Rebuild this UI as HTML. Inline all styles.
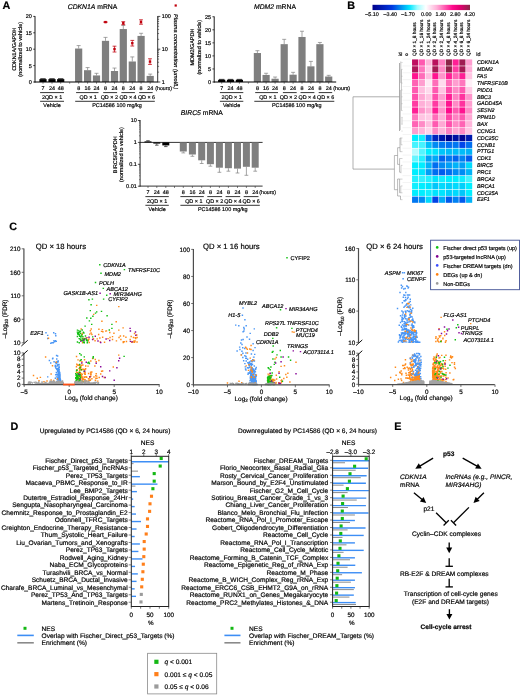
<!DOCTYPE html>
<html lang="en"><head><meta charset="utf-8"><title>Figure</title>
<style>html,body{margin:0;padding:0;background:#fff}body{width:520px;height:695px;overflow:hidden}svg{display:block}text{font-family:'Liberation Sans', Arial, Helvetica, sans-serif;text-rendering:geometricPrecision;stroke:#000;stroke-width:.18px}</style>
</head><body>
<svg width="520" height="695" viewBox="0 0 520 695">
<rect width="520" height="695" fill="#fff"/>
<!-- Panel A -->
<text x="2.4" y="9.07" font-size="10.8" font-weight="bold" stroke="none">A</text>
<line x1="33.2" y1="82" x2="35" y2="82" stroke="#000" stroke-width="0.7"/>
<text x="31.9" y="83.97" font-size="5.5" text-anchor="end">0</text>
<line x1="33.2" y1="65.6" x2="35" y2="65.6" stroke="#000" stroke-width="0.7"/>
<text x="31.9" y="67.57" font-size="5.5" text-anchor="end">5</text>
<line x1="33.2" y1="49.2" x2="35" y2="49.2" stroke="#000" stroke-width="0.7"/>
<text x="31.9" y="51.17" font-size="5.5" text-anchor="end">10</text>
<line x1="33.2" y1="32.8" x2="35" y2="32.8" stroke="#000" stroke-width="0.7"/>
<text x="31.9" y="34.77" font-size="5.5" text-anchor="end">15</text>
<line x1="33.2" y1="16.4" x2="35" y2="16.4" stroke="#000" stroke-width="0.7"/>
<text x="31.9" y="18.37" font-size="5.5" text-anchor="end">20</text>
<rect x="39.4" y="79.12" width="7.2" height="2.88" fill="#000"/>
<line x1="40.7" y1="78.72" x2="45.3" y2="78.72" stroke="#000" stroke-width="0.8" stroke-linecap="round"/>
<line x1="43" y1="82.3" x2="43" y2="83.6" stroke="#000" stroke-width="0.6"/>
<rect x="48.4" y="79.12" width="7.2" height="2.88" fill="#000"/>
<line x1="49.7" y1="78.72" x2="54.3" y2="78.72" stroke="#000" stroke-width="0.8" stroke-linecap="round"/>
<line x1="52" y1="82.3" x2="52" y2="83.6" stroke="#000" stroke-width="0.6"/>
<rect x="57.1" y="79.12" width="7.2" height="2.88" fill="#000"/>
<line x1="58.4" y1="78.72" x2="63" y2="78.72" stroke="#000" stroke-width="0.8" stroke-linecap="round"/>
<line x1="60.7" y1="82.3" x2="60.7" y2="83.6" stroke="#000" stroke-width="0.6"/>
<rect x="75.05" y="48.54" width="7.2" height="33.46" fill="#7f7f7f"/>
<line x1="78.65" y1="48.54" x2="78.65" y2="45.59" stroke="#7f7f7f" stroke-width="0.7"/>
<line x1="76.65" y1="45.59" x2="80.65" y2="45.59" stroke="#7f7f7f" stroke-width="0.7"/>
<line x1="78.65" y1="82.3" x2="78.65" y2="83.6" stroke="#000" stroke-width="0.6"/>
<rect x="84" y="70.19" width="7.2" height="11.81" fill="#7f7f7f"/>
<line x1="87.6" y1="70.19" x2="87.6" y2="67.57" stroke="#7f7f7f" stroke-width="0.7"/>
<line x1="85.6" y1="67.57" x2="89.6" y2="67.57" stroke="#7f7f7f" stroke-width="0.7"/>
<line x1="87.6" y1="82.3" x2="87.6" y2="83.6" stroke="#000" stroke-width="0.6"/>
<rect x="92.9" y="75.44" width="7.2" height="6.56" fill="#7f7f7f"/>
<line x1="96.5" y1="75.44" x2="96.5" y2="73.31" stroke="#7f7f7f" stroke-width="0.7"/>
<line x1="94.5" y1="73.31" x2="98.5" y2="73.31" stroke="#7f7f7f" stroke-width="0.7"/>
<line x1="96.5" y1="82.3" x2="96.5" y2="83.6" stroke="#000" stroke-width="0.6"/>
<rect x="101.9" y="40.84" width="7.2" height="41.16" fill="#7f7f7f"/>
<line x1="105.5" y1="40.84" x2="105.5" y2="37.39" stroke="#7f7f7f" stroke-width="0.7"/>
<line x1="103.5" y1="37.39" x2="107.5" y2="37.39" stroke="#7f7f7f" stroke-width="0.7"/>
<line x1="105.5" y1="82.3" x2="105.5" y2="83.6" stroke="#000" stroke-width="0.6"/>
<rect x="110.9" y="71.01" width="7.2" height="10.99" fill="#7f7f7f"/>
<line x1="114.5" y1="71.01" x2="114.5" y2="68.06" stroke="#7f7f7f" stroke-width="0.7"/>
<line x1="112.5" y1="68.06" x2="116.5" y2="68.06" stroke="#7f7f7f" stroke-width="0.7"/>
<line x1="114.5" y1="82.3" x2="114.5" y2="83.6" stroke="#000" stroke-width="0.6"/>
<rect x="119.7" y="29.03" width="7.2" height="52.97" fill="#7f7f7f"/>
<line x1="123.3" y1="29.03" x2="123.3" y2="25.42" stroke="#7f7f7f" stroke-width="0.7"/>
<line x1="121.3" y1="25.42" x2="125.3" y2="25.42" stroke="#7f7f7f" stroke-width="0.7"/>
<line x1="123.3" y1="82.3" x2="123.3" y2="83.6" stroke="#000" stroke-width="0.6"/>
<rect x="128.7" y="61.5" width="7.2" height="20.5" fill="#7f7f7f"/>
<line x1="132.3" y1="61.5" x2="132.3" y2="56.91" stroke="#7f7f7f" stroke-width="0.7"/>
<line x1="130.3" y1="56.91" x2="134.3" y2="56.91" stroke="#7f7f7f" stroke-width="0.7"/>
<line x1="132.3" y1="82.3" x2="132.3" y2="83.6" stroke="#000" stroke-width="0.6"/>
<rect x="137.5" y="35.92" width="7.2" height="46.08" fill="#7f7f7f"/>
<line x1="141.1" y1="35.92" x2="141.1" y2="33.29" stroke="#7f7f7f" stroke-width="0.7"/>
<line x1="139.1" y1="33.29" x2="143.1" y2="33.29" stroke="#7f7f7f" stroke-width="0.7"/>
<line x1="141.1" y1="82.3" x2="141.1" y2="83.6" stroke="#000" stroke-width="0.6"/>
<rect x="146.6" y="75.9" width="7.2" height="6.1" fill="#7f7f7f"/>
<line x1="150.2" y1="75.9" x2="150.2" y2="74.1" stroke="#7f7f7f" stroke-width="0.7"/>
<line x1="148.2" y1="74.1" x2="152.2" y2="74.1" stroke="#7f7f7f" stroke-width="0.7"/>
<line x1="150.2" y1="82.3" x2="150.2" y2="83.6" stroke="#000" stroke-width="0.6"/>
<line x1="69.68" y1="82.3" x2="69.68" y2="83.6" stroke="#000" stroke-width="0.6"/>
<line x1="35" y1="16.1" x2="35" y2="82.5" stroke="#000" stroke-width="0.9"/>
<line x1="34.55" y1="82" x2="157.7" y2="82" stroke="#000" stroke-width="1"/>
<text x="0" y="1.95" font-size="5.45" text-anchor="middle" transform="translate(13.7 49.4) rotate(-90)">CDKN1A/GAPDH</text>
<text x="0" y="1.95" font-size="5.45" text-anchor="middle" transform="translate(20.2 49.3) rotate(-90)">(normalized to vehicle)</text>
<text x="92.5" y="8.83" font-size="6.8" text-anchor="middle"><tspan font-style="italic">CDKN1A</tspan> mRNA</text>
<text x="43" y="89.83" font-size="5.4" text-anchor="middle">7</text>
<text x="52" y="89.83" font-size="5.4" text-anchor="middle">24</text>
<text x="60.7" y="89.83" font-size="5.4" text-anchor="middle">48</text>
<text x="78.65" y="89.83" font-size="5.4" text-anchor="middle">8</text>
<text x="87.6" y="89.83" font-size="5.4" text-anchor="middle">16</text>
<text x="96.5" y="89.83" font-size="5.4" text-anchor="middle">24</text>
<text x="105.5" y="89.83" font-size="5.4" text-anchor="middle">8</text>
<text x="114.5" y="89.83" font-size="5.4" text-anchor="middle">24</text>
<text x="123.3" y="89.83" font-size="5.4" text-anchor="middle">8</text>
<text x="132.3" y="89.83" font-size="5.4" text-anchor="middle">24</text>
<text x="141.1" y="89.83" font-size="5.4" text-anchor="middle">8</text>
<text x="150.2" y="89.83" font-size="5.4" text-anchor="middle">24</text>
<text x="155.2" y="89.8" font-size="5.3" >(hours)</text>
<line x1="40.1" y1="92.6" x2="64" y2="92.6" stroke="#000" stroke-width="0.8"/>
<text x="52.05" y="98.83" font-size="5.4" text-anchor="middle">2QD × 1</text>
<line x1="40.1" y1="101.3" x2="64" y2="101.3" stroke="#000" stroke-width="0.8"/>
<text x="52.05" y="107.43" font-size="5.4" text-anchor="middle">Vehicle</text>
<line x1="76.1" y1="92.6" x2="98.5" y2="92.6" stroke="#000" stroke-width="0.8"/>
<text x="88.2" y="98.83" font-size="5.4" text-anchor="middle">QD × 1</text>
<line x1="103.2" y1="92.6" x2="117.1" y2="92.6" stroke="#000" stroke-width="0.8"/>
<text x="109.3" y="98.83" font-size="5.4" text-anchor="middle">QD × 2</text>
<line x1="121.4" y1="92.6" x2="134.9" y2="92.6" stroke="#000" stroke-width="0.8"/>
<text x="128" y="98.83" font-size="5.4" text-anchor="middle">QD × 4</text>
<line x1="139.2" y1="92.6" x2="152.7" y2="92.6" stroke="#000" stroke-width="0.8"/>
<text x="146.5" y="98.83" font-size="5.4" text-anchor="middle">QD × 6</text>
<line x1="75.2" y1="101.3" x2="154.8" y2="101.3" stroke="#000" stroke-width="0.8"/>
<text x="117" y="107.45" font-size="5.45" text-anchor="middle">PC14586 100 mg/kg</text>
<line x1="157.7" y1="16.1" x2="157.7" y2="82.4" stroke="#000" stroke-width="0.8"/>
<line x1="157.7" y1="82" x2="160.3" y2="82" stroke="#000" stroke-width="0.7"/>
<text x="161.7" y="83.97" font-size="5.5" >1</text>
<line x1="157.7" y1="72.13" x2="159.1" y2="72.13" stroke="#000" stroke-width="0.5"/>
<line x1="157.7" y1="66.35" x2="159.1" y2="66.35" stroke="#000" stroke-width="0.5"/>
<line x1="157.7" y1="62.25" x2="159.1" y2="62.25" stroke="#000" stroke-width="0.5"/>
<line x1="157.7" y1="59.07" x2="159.1" y2="59.07" stroke="#000" stroke-width="0.5"/>
<line x1="157.7" y1="56.48" x2="159.1" y2="56.48" stroke="#000" stroke-width="0.5"/>
<line x1="157.7" y1="54.28" x2="159.1" y2="54.28" stroke="#000" stroke-width="0.5"/>
<line x1="157.7" y1="52.38" x2="159.1" y2="52.38" stroke="#000" stroke-width="0.5"/>
<line x1="157.7" y1="50.7" x2="159.1" y2="50.7" stroke="#000" stroke-width="0.5"/>
<line x1="157.7" y1="49.2" x2="160.3" y2="49.2" stroke="#000" stroke-width="0.7"/>
<text x="161.7" y="51.17" font-size="5.5" >10</text>
<line x1="157.7" y1="39.33" x2="159.1" y2="39.33" stroke="#000" stroke-width="0.5"/>
<line x1="157.7" y1="33.55" x2="159.1" y2="33.55" stroke="#000" stroke-width="0.5"/>
<line x1="157.7" y1="29.45" x2="159.1" y2="29.45" stroke="#000" stroke-width="0.5"/>
<line x1="157.7" y1="26.27" x2="159.1" y2="26.27" stroke="#000" stroke-width="0.5"/>
<line x1="157.7" y1="23.68" x2="159.1" y2="23.68" stroke="#000" stroke-width="0.5"/>
<line x1="157.7" y1="21.48" x2="159.1" y2="21.48" stroke="#000" stroke-width="0.5"/>
<line x1="157.7" y1="19.58" x2="159.1" y2="19.58" stroke="#000" stroke-width="0.5"/>
<line x1="157.7" y1="17.9" x2="159.1" y2="17.9" stroke="#000" stroke-width="0.5"/>
<line x1="157.7" y1="16.4" x2="160.3" y2="16.4" stroke="#000" stroke-width="0.7"/>
<text x="161.7" y="18.37" font-size="5.5" >100</text>
<text x="0" y="1.99" font-size="5.55" text-anchor="middle" font-style="italic" transform="translate(176.3 51.7) rotate(90)">Plasma concentration (µmol/L)</text>
<rect x="174.6" y="4.4" width="2.2" height="2.2" fill="#c0000c"/>
<line x1="105.5" y1="21.7" x2="105.5" y2="22.5" stroke="#c0000c" stroke-width="0.7"/>
<line x1="103.6" y1="21.7" x2="107.4" y2="21.7" stroke="#c0000c" stroke-width="0.8"/>
<line x1="103.6" y1="22.5" x2="107.4" y2="22.5" stroke="#c0000c" stroke-width="0.8"/>
<rect x="104.3" y="20.9" width="2.4" height="2.4" fill="#c0000c"/>
<line x1="114.5" y1="46.2" x2="114.5" y2="52" stroke="#c0000c" stroke-width="0.7"/>
<line x1="112.6" y1="46.2" x2="116.4" y2="46.2" stroke="#c0000c" stroke-width="0.8"/>
<line x1="112.6" y1="52" x2="116.4" y2="52" stroke="#c0000c" stroke-width="0.8"/>
<rect x="113.3" y="47.9" width="2.4" height="2.4" fill="#c0000c"/>
<line x1="123.3" y1="21.7" x2="123.3" y2="24.7" stroke="#c0000c" stroke-width="0.7"/>
<line x1="121.4" y1="21.7" x2="125.2" y2="21.7" stroke="#c0000c" stroke-width="0.8"/>
<line x1="121.4" y1="24.7" x2="125.2" y2="24.7" stroke="#c0000c" stroke-width="0.8"/>
<rect x="122.1" y="22" width="2.4" height="2.4" fill="#c0000c"/>
<line x1="132.3" y1="40.4" x2="132.3" y2="46" stroke="#c0000c" stroke-width="0.7"/>
<line x1="130.4" y1="40.4" x2="134.2" y2="40.4" stroke="#c0000c" stroke-width="0.8"/>
<line x1="130.4" y1="46" x2="134.2" y2="46" stroke="#c0000c" stroke-width="0.8"/>
<rect x="131.1" y="42" width="2.4" height="2.4" fill="#c0000c"/>
<line x1="141" y1="19.8" x2="141" y2="24.2" stroke="#c0000c" stroke-width="0.7"/>
<line x1="139.1" y1="19.8" x2="142.9" y2="19.8" stroke="#c0000c" stroke-width="0.8"/>
<line x1="139.1" y1="24.2" x2="142.9" y2="24.2" stroke="#c0000c" stroke-width="0.8"/>
<rect x="139.8" y="20.8" width="2.4" height="2.4" fill="#c0000c"/>
<line x1="150" y1="58.8" x2="150" y2="64.4" stroke="#c0000c" stroke-width="0.7"/>
<line x1="148.1" y1="58.8" x2="151.9" y2="58.8" stroke="#c0000c" stroke-width="0.8"/>
<line x1="148.1" y1="64.4" x2="151.9" y2="64.4" stroke="#c0000c" stroke-width="0.8"/>
<rect x="148.8" y="60.4" width="2.4" height="2.4" fill="#c0000c"/>
<line x1="212.4" y1="82" x2="214.2" y2="82" stroke="#000" stroke-width="0.7"/>
<text x="211.1" y="83.97" font-size="5.5" text-anchor="end">0</text>
<line x1="212.4" y1="68.95" x2="214.2" y2="68.95" stroke="#000" stroke-width="0.7"/>
<text x="211.1" y="70.92" font-size="5.5" text-anchor="end">5</text>
<line x1="212.4" y1="55.9" x2="214.2" y2="55.9" stroke="#000" stroke-width="0.7"/>
<text x="211.1" y="57.87" font-size="5.5" text-anchor="end">10</text>
<line x1="212.4" y1="42.85" x2="214.2" y2="42.85" stroke="#000" stroke-width="0.7"/>
<text x="211.1" y="44.82" font-size="5.5" text-anchor="end">15</text>
<line x1="212.4" y1="29.8" x2="214.2" y2="29.8" stroke="#000" stroke-width="0.7"/>
<text x="211.1" y="31.77" font-size="5.5" text-anchor="end">20</text>
<line x1="212.4" y1="16.75" x2="214.2" y2="16.75" stroke="#000" stroke-width="0.7"/>
<text x="211.1" y="18.72" font-size="5.5" text-anchor="end">25</text>
<rect x="218.1" y="79.79" width="7.2" height="2.21" fill="#000"/>
<line x1="219.4" y1="79.39" x2="224" y2="79.39" stroke="#000" stroke-width="0.8" stroke-linecap="round"/>
<line x1="221.7" y1="82.3" x2="221.7" y2="83.6" stroke="#000" stroke-width="0.6"/>
<rect x="226.9" y="79.79" width="7.2" height="2.21" fill="#000"/>
<line x1="228.2" y1="79.39" x2="232.8" y2="79.39" stroke="#000" stroke-width="0.8" stroke-linecap="round"/>
<line x1="230.5" y1="82.3" x2="230.5" y2="83.6" stroke="#000" stroke-width="0.6"/>
<rect x="235.8" y="79.79" width="7.2" height="2.21" fill="#000"/>
<line x1="237.1" y1="79.39" x2="241.7" y2="79.39" stroke="#000" stroke-width="0.8" stroke-linecap="round"/>
<line x1="239.4" y1="82.3" x2="239.4" y2="83.6" stroke="#000" stroke-width="0.6"/>
<rect x="253.8" y="53.03" width="7.2" height="28.97" fill="#7f7f7f"/>
<line x1="257.4" y1="53.03" x2="257.4" y2="50.68" stroke="#7f7f7f" stroke-width="0.7"/>
<line x1="255.4" y1="50.68" x2="259.4" y2="50.68" stroke="#7f7f7f" stroke-width="0.7"/>
<line x1="257.4" y1="82.3" x2="257.4" y2="83.6" stroke="#000" stroke-width="0.6"/>
<rect x="262.5" y="74.95" width="7.2" height="7.05" fill="#7f7f7f"/>
<line x1="266.1" y1="74.95" x2="266.1" y2="73.26" stroke="#7f7f7f" stroke-width="0.7"/>
<line x1="264.1" y1="73.26" x2="268.1" y2="73.26" stroke="#7f7f7f" stroke-width="0.7"/>
<line x1="266.1" y1="82.3" x2="266.1" y2="83.6" stroke="#000" stroke-width="0.6"/>
<rect x="271.5" y="78.74" width="7.2" height="3.26" fill="#7f7f7f"/>
<line x1="275.1" y1="78.74" x2="275.1" y2="77.04" stroke="#7f7f7f" stroke-width="0.7"/>
<line x1="273.1" y1="77.04" x2="277.1" y2="77.04" stroke="#7f7f7f" stroke-width="0.7"/>
<line x1="275.1" y1="82.3" x2="275.1" y2="83.6" stroke="#000" stroke-width="0.6"/>
<rect x="280.6" y="44.16" width="7.2" height="37.84" fill="#7f7f7f"/>
<line x1="284.2" y1="44.16" x2="284.2" y2="39.33" stroke="#7f7f7f" stroke-width="0.7"/>
<line x1="282.2" y1="39.33" x2="286.2" y2="39.33" stroke="#7f7f7f" stroke-width="0.7"/>
<line x1="284.2" y1="82.3" x2="284.2" y2="83.6" stroke="#000" stroke-width="0.6"/>
<rect x="289.5" y="74.69" width="7.2" height="7.31" fill="#7f7f7f"/>
<line x1="293.1" y1="74.69" x2="293.1" y2="72.34" stroke="#7f7f7f" stroke-width="0.7"/>
<line x1="291.1" y1="72.34" x2="295.1" y2="72.34" stroke="#7f7f7f" stroke-width="0.7"/>
<line x1="293.1" y1="82.3" x2="293.1" y2="83.6" stroke="#000" stroke-width="0.6"/>
<rect x="298.4" y="36.98" width="7.2" height="45.02" fill="#7f7f7f"/>
<line x1="302" y1="36.98" x2="302" y2="31.24" stroke="#7f7f7f" stroke-width="0.7"/>
<line x1="300" y1="31.24" x2="304" y2="31.24" stroke="#7f7f7f" stroke-width="0.7"/>
<line x1="302" y1="82.3" x2="302" y2="83.6" stroke="#000" stroke-width="0.6"/>
<rect x="307.3" y="66.34" width="7.2" height="15.66" fill="#7f7f7f"/>
<line x1="310.9" y1="66.34" x2="310.9" y2="61.38" stroke="#7f7f7f" stroke-width="0.7"/>
<line x1="308.9" y1="61.38" x2="312.9" y2="61.38" stroke="#7f7f7f" stroke-width="0.7"/>
<line x1="310.9" y1="82.3" x2="310.9" y2="83.6" stroke="#000" stroke-width="0.6"/>
<rect x="316.3" y="44.16" width="7.2" height="37.84" fill="#7f7f7f"/>
<line x1="319.9" y1="44.16" x2="319.9" y2="42.46" stroke="#7f7f7f" stroke-width="0.7"/>
<line x1="317.9" y1="42.46" x2="321.9" y2="42.46" stroke="#7f7f7f" stroke-width="0.7"/>
<line x1="319.9" y1="82.3" x2="319.9" y2="83.6" stroke="#000" stroke-width="0.6"/>
<rect x="325.1" y="76.52" width="7.2" height="5.48" fill="#7f7f7f"/>
<line x1="328.7" y1="76.52" x2="328.7" y2="75.34" stroke="#7f7f7f" stroke-width="0.7"/>
<line x1="326.7" y1="75.34" x2="330.7" y2="75.34" stroke="#7f7f7f" stroke-width="0.7"/>
<line x1="328.7" y1="82.3" x2="328.7" y2="83.6" stroke="#000" stroke-width="0.6"/>
<line x1="248.4" y1="82.3" x2="248.4" y2="83.6" stroke="#000" stroke-width="0.6"/>
<line x1="214.2" y1="16.45" x2="214.2" y2="82.5" stroke="#000" stroke-width="0.9"/>
<line x1="213.75" y1="82" x2="336.2" y2="82" stroke="#000" stroke-width="1"/>
<text x="0" y="1.95" font-size="5.45" text-anchor="middle" transform="translate(192.1 47.08) rotate(-90)">MDM2/GAPDH</text>
<text x="0" y="1.95" font-size="5.45" text-anchor="middle" transform="translate(198.6 47.17) rotate(-90)">(normalized to vehicle)</text>
<text x="275" y="8.73" font-size="6.8" text-anchor="middle"><tspan font-style="italic">MDM2</tspan> mRNA</text>
<text x="221.7" y="89.83" font-size="5.4" text-anchor="middle">7</text>
<text x="230.5" y="89.83" font-size="5.4" text-anchor="middle">24</text>
<text x="239.4" y="89.83" font-size="5.4" text-anchor="middle">48</text>
<text x="257.4" y="89.83" font-size="5.4" text-anchor="middle">8</text>
<text x="266.1" y="89.83" font-size="5.4" text-anchor="middle">16</text>
<text x="275.1" y="89.83" font-size="5.4" text-anchor="middle">24</text>
<text x="284.2" y="89.83" font-size="5.4" text-anchor="middle">8</text>
<text x="293.1" y="89.83" font-size="5.4" text-anchor="middle">24</text>
<text x="302" y="89.83" font-size="5.4" text-anchor="middle">8</text>
<text x="310.9" y="89.83" font-size="5.4" text-anchor="middle">24</text>
<text x="319.9" y="89.83" font-size="5.4" text-anchor="middle">8</text>
<text x="328.7" y="89.83" font-size="5.4" text-anchor="middle">24</text>
<text x="333.3" y="89.8" font-size="5.3" >(hours)</text>
<line x1="219.9" y1="92.6" x2="243.3" y2="92.6" stroke="#000" stroke-width="0.8"/>
<text x="231.6" y="98.83" font-size="5.4" text-anchor="middle">2QD × 1</text>
<line x1="219.9" y1="101.3" x2="243.3" y2="101.3" stroke="#000" stroke-width="0.8"/>
<text x="231.6" y="107.43" font-size="5.4" text-anchor="middle">Vehicle</text>
<line x1="255.2" y1="92.6" x2="278" y2="92.6" stroke="#000" stroke-width="0.8"/>
<text x="267.8" y="98.83" font-size="5.4" text-anchor="middle">QD × 1</text>
<line x1="282.9" y1="92.6" x2="296.7" y2="92.6" stroke="#000" stroke-width="0.8"/>
<text x="288.4" y="98.83" font-size="5.4" text-anchor="middle">QD × 2</text>
<line x1="300.5" y1="92.6" x2="314.4" y2="92.6" stroke="#000" stroke-width="0.8"/>
<text x="307.1" y="98.83" font-size="5.4" text-anchor="middle">QD × 4</text>
<line x1="318.7" y1="92.6" x2="332.2" y2="92.6" stroke="#000" stroke-width="0.8"/>
<text x="325.6" y="98.83" font-size="5.4" text-anchor="middle">QD × 6</text>
<line x1="254.3" y1="101.3" x2="334.3" y2="101.3" stroke="#000" stroke-width="0.8"/>
<text x="296.7" y="107.45" font-size="5.45" text-anchor="middle">PC14586 100 mg/kg</text>
<!-- BIRC5 -->
<line x1="140.1" y1="120" x2="140.1" y2="186.5" stroke="#000" stroke-width="0.8"/>
<line x1="139.7" y1="186.1" x2="262.6" y2="186.1" stroke="#000" stroke-width="0.8"/>
<line x1="140.1" y1="142.4" x2="262.6" y2="142.4" stroke="#000" stroke-width="0.8"/>
<line x1="137.9" y1="120.5" x2="140.1" y2="120.5" stroke="#000" stroke-width="0.7"/>
<text x="136.8" y="122.47" font-size="5.5" text-anchor="end">10</text>
<line x1="139.1" y1="135.81" x2="140.1" y2="135.81" stroke="#000" stroke-width="0.4"/>
<line x1="139.1" y1="131.95" x2="140.1" y2="131.95" stroke="#000" stroke-width="0.4"/>
<line x1="139.1" y1="129.21" x2="140.1" y2="129.21" stroke="#000" stroke-width="0.4"/>
<line x1="139.1" y1="127.09" x2="140.1" y2="127.09" stroke="#000" stroke-width="0.4"/>
<line x1="139.1" y1="125.36" x2="140.1" y2="125.36" stroke="#000" stroke-width="0.4"/>
<line x1="139.1" y1="123.89" x2="140.1" y2="123.89" stroke="#000" stroke-width="0.4"/>
<line x1="139.1" y1="122.62" x2="140.1" y2="122.62" stroke="#000" stroke-width="0.4"/>
<line x1="139.1" y1="121.5" x2="140.1" y2="121.5" stroke="#000" stroke-width="0.4"/>
<line x1="137.9" y1="142.4" x2="140.1" y2="142.4" stroke="#000" stroke-width="0.7"/>
<text x="136.8" y="144.37" font-size="5.5" text-anchor="end">1</text>
<line x1="139.1" y1="157.71" x2="140.1" y2="157.71" stroke="#000" stroke-width="0.4"/>
<line x1="139.1" y1="153.85" x2="140.1" y2="153.85" stroke="#000" stroke-width="0.4"/>
<line x1="139.1" y1="151.11" x2="140.1" y2="151.11" stroke="#000" stroke-width="0.4"/>
<line x1="139.1" y1="148.99" x2="140.1" y2="148.99" stroke="#000" stroke-width="0.4"/>
<line x1="139.1" y1="147.26" x2="140.1" y2="147.26" stroke="#000" stroke-width="0.4"/>
<line x1="139.1" y1="145.79" x2="140.1" y2="145.79" stroke="#000" stroke-width="0.4"/>
<line x1="139.1" y1="144.52" x2="140.1" y2="144.52" stroke="#000" stroke-width="0.4"/>
<line x1="139.1" y1="143.4" x2="140.1" y2="143.4" stroke="#000" stroke-width="0.4"/>
<line x1="137.9" y1="164.3" x2="140.1" y2="164.3" stroke="#000" stroke-width="0.7"/>
<text x="136.8" y="166.27" font-size="5.5" text-anchor="end">0.1</text>
<line x1="139.1" y1="179.61" x2="140.1" y2="179.61" stroke="#000" stroke-width="0.4"/>
<line x1="139.1" y1="175.75" x2="140.1" y2="175.75" stroke="#000" stroke-width="0.4"/>
<line x1="139.1" y1="173.01" x2="140.1" y2="173.01" stroke="#000" stroke-width="0.4"/>
<line x1="139.1" y1="170.89" x2="140.1" y2="170.89" stroke="#000" stroke-width="0.4"/>
<line x1="139.1" y1="169.16" x2="140.1" y2="169.16" stroke="#000" stroke-width="0.4"/>
<line x1="139.1" y1="167.69" x2="140.1" y2="167.69" stroke="#000" stroke-width="0.4"/>
<line x1="139.1" y1="166.42" x2="140.1" y2="166.42" stroke="#000" stroke-width="0.4"/>
<line x1="139.1" y1="165.3" x2="140.1" y2="165.3" stroke="#000" stroke-width="0.4"/>
<line x1="137.9" y1="186.2" x2="140.1" y2="186.2" stroke="#000" stroke-width="0.7"/>
<text x="136.8" y="188.17" font-size="5.5" text-anchor="end">0.01</text>
<text x="201.8" y="115.43" font-size="6.8" text-anchor="middle"><tspan font-style="italic">BIRC5</tspan> mRNA</text>
<text x="0" y="1.95" font-size="5.45" text-anchor="middle" transform="translate(114.8 154.8) rotate(-90)">BIRC5/GAPDH</text>
<text x="0" y="1.95" font-size="5.45" text-anchor="middle" transform="translate(121.2 154.6) rotate(-90)">(normalized to vehicle)</text>
<rect x="144.5" y="141.4" width="7" height="1" fill="#000"/>
<line x1="148" y1="141.4" x2="148" y2="140.7" stroke="#000" stroke-width="0.6"/>
<line x1="146.2" y1="140.7" x2="149.8" y2="140.7" stroke="#000" stroke-width="0.6"/>
<rect x="153.3" y="142.4" width="7" height="1.2" fill="#000"/>
<line x1="156.8" y1="143.6" x2="156.8" y2="145.2" stroke="#000" stroke-width="0.6"/>
<line x1="155" y1="145.2" x2="158.6" y2="145.2" stroke="#000" stroke-width="0.6"/>
<rect x="162.3" y="142.4" width="7" height="3" fill="#000"/>
<line x1="165.8" y1="145.4" x2="165.8" y2="146.6" stroke="#000" stroke-width="0.6"/>
<line x1="164" y1="146.6" x2="167.6" y2="146.6" stroke="#000" stroke-width="0.6"/>
<rect x="179.8" y="142.4" width="7" height="9.1" fill="#7f7f7f"/>
<line x1="183.3" y1="151.5" x2="183.3" y2="152.9" stroke="#7f7f7f" stroke-width="0.7"/>
<line x1="181.4" y1="152.9" x2="185.2" y2="152.9" stroke="#7f7f7f" stroke-width="0.7"/>
<rect x="188.9" y="142.4" width="7" height="12.1" fill="#7f7f7f"/>
<line x1="192.4" y1="154.5" x2="192.4" y2="156.3" stroke="#7f7f7f" stroke-width="0.7"/>
<line x1="190.5" y1="156.3" x2="194.3" y2="156.3" stroke="#7f7f7f" stroke-width="0.7"/>
<rect x="198.2" y="142.4" width="7" height="17.9" fill="#7f7f7f"/>
<line x1="201.7" y1="160.3" x2="201.7" y2="163.5" stroke="#7f7f7f" stroke-width="0.7"/>
<line x1="199.8" y1="163.5" x2="203.6" y2="163.5" stroke="#7f7f7f" stroke-width="0.7"/>
<rect x="206.9" y="142.4" width="7" height="21.8" fill="#7f7f7f"/>
<line x1="210.4" y1="164.2" x2="210.4" y2="166.2" stroke="#7f7f7f" stroke-width="0.7"/>
<line x1="208.5" y1="166.2" x2="212.3" y2="166.2" stroke="#7f7f7f" stroke-width="0.7"/>
<rect x="215.9" y="142.4" width="7" height="25.3" fill="#7f7f7f"/>
<line x1="219.4" y1="167.7" x2="219.4" y2="172.3" stroke="#7f7f7f" stroke-width="0.7"/>
<line x1="217.5" y1="172.3" x2="221.3" y2="172.3" stroke="#7f7f7f" stroke-width="0.7"/>
<rect x="224.9" y="142.4" width="7" height="25.8" fill="#7f7f7f"/>
<line x1="228.4" y1="168.2" x2="228.4" y2="171.2" stroke="#7f7f7f" stroke-width="0.7"/>
<line x1="226.5" y1="171.2" x2="230.3" y2="171.2" stroke="#7f7f7f" stroke-width="0.7"/>
<rect x="234" y="142.4" width="7" height="26.2" fill="#7f7f7f"/>
<line x1="237.5" y1="168.6" x2="237.5" y2="173" stroke="#7f7f7f" stroke-width="0.7"/>
<line x1="235.6" y1="173" x2="239.4" y2="173" stroke="#7f7f7f" stroke-width="0.7"/>
<rect x="242.9" y="142.4" width="7" height="24.4" fill="#7f7f7f"/>
<line x1="246.4" y1="166.8" x2="246.4" y2="175.3" stroke="#7f7f7f" stroke-width="0.7"/>
<line x1="244.5" y1="175.3" x2="248.3" y2="175.3" stroke="#7f7f7f" stroke-width="0.7"/>
<rect x="251.7" y="142.4" width="7" height="25.3" fill="#7f7f7f"/>
<line x1="255.2" y1="167.7" x2="255.2" y2="171.2" stroke="#7f7f7f" stroke-width="0.7"/>
<line x1="253.3" y1="171.2" x2="257.1" y2="171.2" stroke="#7f7f7f" stroke-width="0.7"/>
<line x1="148" y1="186.4" x2="148" y2="187.8" stroke="#000" stroke-width="0.6"/>
<line x1="156.8" y1="186.4" x2="156.8" y2="187.8" stroke="#000" stroke-width="0.6"/>
<line x1="165.8" y1="186.4" x2="165.8" y2="187.8" stroke="#000" stroke-width="0.6"/>
<line x1="183.3" y1="186.4" x2="183.3" y2="187.8" stroke="#000" stroke-width="0.6"/>
<line x1="192.4" y1="186.4" x2="192.4" y2="187.8" stroke="#000" stroke-width="0.6"/>
<line x1="201.7" y1="186.4" x2="201.7" y2="187.8" stroke="#000" stroke-width="0.6"/>
<line x1="210.4" y1="186.4" x2="210.4" y2="187.8" stroke="#000" stroke-width="0.6"/>
<line x1="219.4" y1="186.4" x2="219.4" y2="187.8" stroke="#000" stroke-width="0.6"/>
<line x1="228.4" y1="186.4" x2="228.4" y2="187.8" stroke="#000" stroke-width="0.6"/>
<line x1="237.5" y1="186.4" x2="237.5" y2="187.8" stroke="#000" stroke-width="0.6"/>
<line x1="246.4" y1="186.4" x2="246.4" y2="187.8" stroke="#000" stroke-width="0.6"/>
<line x1="255.2" y1="186.4" x2="255.2" y2="187.8" stroke="#000" stroke-width="0.6"/>
<line x1="174.5" y1="186.4" x2="174.5" y2="187.8" stroke="#000" stroke-width="0.6"/>
<text x="148" y="193.83" font-size="5.4" text-anchor="middle">7</text>
<text x="156.8" y="193.83" font-size="5.4" text-anchor="middle">24</text>
<text x="165.8" y="193.83" font-size="5.4" text-anchor="middle">48</text>
<text x="183.3" y="193.83" font-size="5.4" text-anchor="middle">8</text>
<text x="192.4" y="193.83" font-size="5.4" text-anchor="middle">16</text>
<text x="201.7" y="193.83" font-size="5.4" text-anchor="middle">24</text>
<text x="210.4" y="193.83" font-size="5.4" text-anchor="middle">8</text>
<text x="219.4" y="193.83" font-size="5.4" text-anchor="middle">24</text>
<text x="228.4" y="193.83" font-size="5.4" text-anchor="middle">8</text>
<text x="237.5" y="193.83" font-size="5.4" text-anchor="middle">24</text>
<text x="246.4" y="193.83" font-size="5.4" text-anchor="middle">8</text>
<text x="255.2" y="193.83" font-size="5.4" text-anchor="middle">24</text>
<text x="259.2" y="193.8" font-size="5.3" >(hours)</text>
<line x1="145.4" y1="196.6" x2="168.8" y2="196.6" stroke="#000" stroke-width="0.8"/>
<text x="157.1" y="202.83" font-size="5.4" text-anchor="middle">2QD × 1</text>
<line x1="145.4" y1="205.3" x2="168.8" y2="205.3" stroke="#000" stroke-width="0.8"/>
<text x="157.1" y="211.43" font-size="5.4" text-anchor="middle">Vehicle</text>
<line x1="180.4" y1="196.6" x2="203.8" y2="196.6" stroke="#000" stroke-width="0.8"/>
<text x="193.8" y="202.83" font-size="5.4" text-anchor="middle">QD × 1</text>
<line x1="207.3" y1="196.6" x2="222.1" y2="196.6" stroke="#000" stroke-width="0.8"/>
<text x="214.6" y="202.83" font-size="5.4" text-anchor="middle">QD × 2</text>
<line x1="225.6" y1="196.6" x2="240.2" y2="196.6" stroke="#000" stroke-width="0.8"/>
<text x="232.9" y="202.83" font-size="5.4" text-anchor="middle">QD × 4</text>
<line x1="243.7" y1="196.6" x2="258.5" y2="196.6" stroke="#000" stroke-width="0.8"/>
<text x="251.2" y="202.83" font-size="5.4" text-anchor="middle">QD × 6</text>
<line x1="180.4" y1="205.3" x2="259.8" y2="205.3" stroke="#000" stroke-width="0.8"/>
<text x="222.7" y="211.45" font-size="5.45" text-anchor="middle">PC14586 100 mg/kg</text>
<!-- Panel B -->
<text x="347.3" y="9.07" font-size="10.8" font-weight="bold" stroke="none">B</text>
<defs><linearGradient id="cb" x1="0" x2="1" y1="0" y2="0"><stop offset="0" stop-color="#00008b"/><stop offset="0.2" stop-color="#0038e0"/><stop offset="0.38" stop-color="#00e5ff"/><stop offset="0.46" stop-color="#9ffcff"/><stop offset="0.548" stop-color="#ffffff"/><stop offset="0.66" stop-color="#ffb0d8"/><stop offset="0.82" stop-color="#ff0a8c"/><stop offset="0.9" stop-color="#e00070"/><stop offset="1" stop-color="#8b2648"/></linearGradient></defs>
<rect x="372.5" y="4.8" width="97.5" height="5.3" fill="url(#cb)"/>
<text x="372" y="16.33" font-size="5.4" text-anchor="middle">–5.10</text>
<text x="390.2" y="16.33" font-size="5.4" text-anchor="middle">–3.40</text>
<text x="408.1" y="16.33" font-size="5.4" text-anchor="middle">–1.70</text>
<text x="426.3" y="16.33" font-size="5.4" text-anchor="middle">0.00</text>
<text x="440.7" y="16.33" font-size="5.4" text-anchor="middle">1.40</text>
<text x="455.2" y="16.33" font-size="5.4" text-anchor="middle">2.80</text>
<text x="469.8" y="16.33" font-size="5.4" text-anchor="middle">4.20</text>
<text transform="translate(416.02 56) rotate(-90)" font-size="4.75">QD × 1_8 hours</text>
<text transform="translate(422.77 56) rotate(-90)" font-size="4.75">QD × 1_16 hours</text>
<text transform="translate(429.52 56) rotate(-90)" font-size="4.75">QD × 1_24 hours</text>
<text transform="translate(436.27 56) rotate(-90)" font-size="4.75">QD × 2_8 hours</text>
<text transform="translate(443.02 56) rotate(-90)" font-size="4.75">QD × 2_24 hours</text>
<text transform="translate(449.77 56) rotate(-90)" font-size="4.75">QD × 4_8 hours</text>
<text transform="translate(456.52 56) rotate(-90)" font-size="4.75">QD × 4_24 hours</text>
<text transform="translate(463.27 56) rotate(-90)" font-size="4.75">QD × 6_8 hours</text>
<text transform="translate(470.02 56) rotate(-90)" font-size="4.75">QD × 6_24 hours</text>
<text transform="translate(402.4 56) rotate(-90)" font-size="4.75">id</text>
<text transform="translate(408.1 56) rotate(-90)" font-size="4.75">o</text>
<text x="476.3" y="56.23" font-size="5.4" >id</text>
<rect x="412.05" y="59.4" width="6.15" height="6.26" fill="#bf0e60"/>
<rect x="418.8" y="59.4" width="6.15" height="6.26" fill="#ff59b0"/>
<rect x="425.55" y="59.4" width="6.15" height="6.26" fill="#ffb6db"/>
<rect x="432.3" y="59.4" width="6.15" height="6.26" fill="#ba115d"/>
<rect x="439.05" y="59.4" width="6.15" height="6.26" fill="#ff80c2"/>
<rect x="445.8" y="59.4" width="6.15" height="6.26" fill="#8b2648"/>
<rect x="452.55" y="59.4" width="6.15" height="6.26" fill="#ff1e95"/>
<rect x="459.3" y="59.4" width="6.15" height="6.26" fill="#a01c52"/>
<rect x="466.05" y="59.4" width="6.15" height="6.26" fill="#ff9ed0"/>
<text x="476.9" y="64.26" font-size="5.4" font-style="italic">CDKN1A</text>
<line x1="402.5" y1="59.1" x2="411" y2="59.1" stroke="#e4e4e4" stroke-width="0.4"/>
<rect x="412.05" y="66.26" width="6.15" height="6.26" fill="#af1559"/>
<rect x="418.8" y="66.26" width="6.15" height="6.26" fill="#ff77be"/>
<rect x="425.55" y="66.26" width="6.15" height="6.26" fill="#ffcce6"/>
<rect x="432.3" y="66.26" width="6.15" height="6.26" fill="#a51a54"/>
<rect x="439.05" y="66.26" width="6.15" height="6.26" fill="#ff8ac6"/>
<rect x="445.8" y="66.26" width="6.15" height="6.26" fill="#90244a"/>
<rect x="452.55" y="66.26" width="6.15" height="6.26" fill="#ff3ba2"/>
<rect x="459.3" y="66.26" width="6.15" height="6.26" fill="#a51a54"/>
<rect x="466.05" y="66.26" width="6.15" height="6.26" fill="#ffafd8"/>
<text x="476.9" y="71.12" font-size="5.4" font-style="italic">MDM2</text>
<line x1="402.5" y1="65.96" x2="411" y2="65.96" stroke="#e4e4e4" stroke-width="0.4"/>
<rect x="412.05" y="73.11" width="6.15" height="6.26" fill="#ff1490"/>
<rect x="418.8" y="73.11" width="6.15" height="6.26" fill="#ff6db9"/>
<rect x="425.55" y="73.11" width="6.15" height="6.26" fill="#ffbedf"/>
<rect x="432.3" y="73.11" width="6.15" height="6.26" fill="#ff1490"/>
<rect x="439.05" y="73.11" width="6.15" height="6.26" fill="#ff94cb"/>
<rect x="445.8" y="73.11" width="6.15" height="6.26" fill="#ff1e95"/>
<rect x="452.55" y="73.11" width="6.15" height="6.26" fill="#ff63b4"/>
<rect x="459.3" y="73.11" width="6.15" height="6.26" fill="#ff1e95"/>
<rect x="466.05" y="73.11" width="6.15" height="6.26" fill="#ffc5e2"/>
<text x="476.9" y="77.98" font-size="5.4" font-style="italic">FAS</text>
<line x1="402.5" y1="72.81" x2="411" y2="72.81" stroke="#e4e4e4" stroke-width="0.4"/>
<rect x="412.05" y="79.97" width="6.15" height="6.26" fill="#ff63b4"/>
<rect x="418.8" y="79.97" width="6.15" height="6.26" fill="#ff9ed0"/>
<rect x="425.55" y="79.97" width="6.15" height="6.26" fill="#ffe9f4"/>
<rect x="432.3" y="79.97" width="6.15" height="6.26" fill="#ff6db9"/>
<rect x="439.05" y="79.97" width="6.15" height="6.26" fill="#ffdbed"/>
<rect x="445.8" y="79.97" width="6.15" height="6.26" fill="#ff6db9"/>
<rect x="452.55" y="79.97" width="6.15" height="6.26" fill="#ff9ed0"/>
<rect x="459.3" y="79.97" width="6.15" height="6.26" fill="#ff77be"/>
<rect x="466.05" y="79.97" width="6.15" height="6.26" fill="#fff0f8"/>
<text x="476.9" y="84.83" font-size="5.4" font-style="italic">TNFRSF10B</text>
<line x1="402.5" y1="79.67" x2="411" y2="79.67" stroke="#e4e4e4" stroke-width="0.4"/>
<rect x="412.05" y="86.83" width="6.15" height="6.26" fill="#ff59b0"/>
<rect x="418.8" y="86.83" width="6.15" height="6.26" fill="#ffbedf"/>
<rect x="425.55" y="86.83" width="6.15" height="6.26" fill="#ffdbed"/>
<rect x="432.3" y="86.83" width="6.15" height="6.26" fill="#ff59b0"/>
<rect x="439.05" y="86.83" width="6.15" height="6.26" fill="#ffc5e2"/>
<rect x="445.8" y="86.83" width="6.15" height="6.26" fill="#ff4fac"/>
<rect x="452.55" y="86.83" width="6.15" height="6.26" fill="#ff8ac6"/>
<rect x="459.3" y="86.83" width="6.15" height="6.26" fill="#ff59b0"/>
<rect x="466.05" y="86.83" width="6.15" height="6.26" fill="#ffcce6"/>
<text x="476.9" y="91.69" font-size="5.4" font-style="italic">PIDD1</text>
<line x1="402.5" y1="86.53" x2="411" y2="86.53" stroke="#e4e4e4" stroke-width="0.4"/>
<rect x="412.05" y="93.69" width="6.15" height="6.26" fill="#ff4fac"/>
<rect x="418.8" y="93.69" width="6.15" height="6.26" fill="#ffa8d4"/>
<rect x="425.55" y="93.69" width="6.15" height="6.26" fill="#ffc5e2"/>
<rect x="432.3" y="93.69" width="6.15" height="6.26" fill="#ff4fac"/>
<rect x="439.05" y="93.69" width="6.15" height="6.26" fill="#ff9ed0"/>
<rect x="445.8" y="93.69" width="6.15" height="6.26" fill="#ff1e95"/>
<rect x="452.55" y="93.69" width="6.15" height="6.26" fill="#ff80c2"/>
<rect x="459.3" y="93.69" width="6.15" height="6.26" fill="#ff329e"/>
<rect x="466.05" y="93.69" width="6.15" height="6.26" fill="#ff94cb"/>
<text x="476.9" y="98.55" font-size="5.4" font-style="italic">BBC3</text>
<line x1="402.5" y1="93.39" x2="411" y2="93.39" stroke="#e4e4e4" stroke-width="0.4"/>
<rect x="412.05" y="100.54" width="6.15" height="6.26" fill="#ff3ba2"/>
<rect x="418.8" y="100.54" width="6.15" height="6.26" fill="#ffafd8"/>
<rect x="425.55" y="100.54" width="6.15" height="6.26" fill="#ffbedf"/>
<rect x="432.3" y="100.54" width="6.15" height="6.26" fill="#ff3ba2"/>
<rect x="439.05" y="100.54" width="6.15" height="6.26" fill="#ff9ed0"/>
<rect x="445.8" y="100.54" width="6.15" height="6.26" fill="#ff1490"/>
<rect x="452.55" y="100.54" width="6.15" height="6.26" fill="#ff8ac6"/>
<rect x="459.3" y="100.54" width="6.15" height="6.26" fill="#ff329e"/>
<rect x="466.05" y="100.54" width="6.15" height="6.26" fill="#ff9ed0"/>
<text x="476.9" y="105.4" font-size="5.4" font-style="italic">GADD45A</text>
<line x1="402.5" y1="100.24" x2="411" y2="100.24" stroke="#e4e4e4" stroke-width="0.4"/>
<rect x="412.05" y="107.4" width="6.15" height="6.26" fill="#ff1e95"/>
<rect x="418.8" y="107.4" width="6.15" height="6.26" fill="#ff94cb"/>
<rect x="425.55" y="107.4" width="6.15" height="6.26" fill="#ffafd8"/>
<rect x="432.3" y="107.4" width="6.15" height="6.26" fill="#ff1e95"/>
<rect x="439.05" y="107.4" width="6.15" height="6.26" fill="#ff94cb"/>
<rect x="445.8" y="107.4" width="6.15" height="6.26" fill="#ff0a8c"/>
<rect x="452.55" y="107.4" width="6.15" height="6.26" fill="#ff59b0"/>
<rect x="459.3" y="107.4" width="6.15" height="6.26" fill="#ff1490"/>
<rect x="466.05" y="107.4" width="6.15" height="6.26" fill="#ff8ac6"/>
<text x="476.9" y="112.26" font-size="5.4" font-style="italic">SESN2</text>
<line x1="402.5" y1="107.1" x2="411" y2="107.1" stroke="#e4e4e4" stroke-width="0.4"/>
<rect x="412.05" y="114.26" width="6.15" height="6.26" fill="#ff77be"/>
<rect x="418.8" y="114.26" width="6.15" height="6.26" fill="#ffc5e2"/>
<rect x="425.55" y="114.26" width="6.15" height="6.26" fill="#ffcce6"/>
<rect x="432.3" y="114.26" width="6.15" height="6.26" fill="#ff6db9"/>
<rect x="439.05" y="114.26" width="6.15" height="6.26" fill="#ffafd8"/>
<rect x="445.8" y="114.26" width="6.15" height="6.26" fill="#ff45a7"/>
<rect x="452.55" y="114.26" width="6.15" height="6.26" fill="#ff80c2"/>
<rect x="459.3" y="114.26" width="6.15" height="6.26" fill="#ff59b0"/>
<rect x="466.05" y="114.26" width="6.15" height="6.26" fill="#ffa8d4"/>
<text x="476.9" y="119.12" font-size="5.4" font-style="italic">PPM1D</text>
<line x1="402.5" y1="113.96" x2="411" y2="113.96" stroke="#e4e4e4" stroke-width="0.4"/>
<rect x="412.05" y="121.11" width="6.15" height="6.26" fill="#ff63b4"/>
<rect x="418.8" y="121.11" width="6.15" height="6.26" fill="#ff8ac6"/>
<rect x="425.55" y="121.11" width="6.15" height="6.26" fill="#ffbedf"/>
<rect x="432.3" y="121.11" width="6.15" height="6.26" fill="#ff59b0"/>
<rect x="439.05" y="121.11" width="6.15" height="6.26" fill="#ffa8d4"/>
<rect x="445.8" y="121.11" width="6.15" height="6.26" fill="#ff4fac"/>
<rect x="452.55" y="121.11" width="6.15" height="6.26" fill="#ff8ac6"/>
<rect x="459.3" y="121.11" width="6.15" height="6.26" fill="#ff63b4"/>
<rect x="466.05" y="121.11" width="6.15" height="6.26" fill="#ffb6db"/>
<text x="476.9" y="125.97" font-size="5.4" font-style="italic">BAX</text>
<line x1="402.5" y1="120.81" x2="411" y2="120.81" stroke="#e4e4e4" stroke-width="0.4"/>
<rect x="412.05" y="127.97" width="6.15" height="6.26" fill="#ff9ed0"/>
<rect x="418.8" y="127.97" width="6.15" height="6.26" fill="#ffb6db"/>
<rect x="425.55" y="127.97" width="6.15" height="6.26" fill="#ffd4ea"/>
<rect x="432.3" y="127.97" width="6.15" height="6.26" fill="#ff8ac6"/>
<rect x="439.05" y="127.97" width="6.15" height="6.26" fill="#ffb6db"/>
<rect x="445.8" y="127.97" width="6.15" height="6.26" fill="#ff80c2"/>
<rect x="452.55" y="127.97" width="6.15" height="6.26" fill="#ffa8d4"/>
<rect x="459.3" y="127.97" width="6.15" height="6.26" fill="#ff8ac6"/>
<rect x="466.05" y="127.97" width="6.15" height="6.26" fill="#ffc5e2"/>
<text x="476.9" y="132.83" font-size="5.4" font-style="italic">CCNG1</text>
<line x1="402.5" y1="127.67" x2="411" y2="127.67" stroke="#e4e4e4" stroke-width="0.4"/>
<rect x="412.05" y="134.83" width="6.15" height="6.26" fill="#00eeff"/>
<rect x="418.8" y="134.83" width="6.15" height="6.26" fill="#11efff"/>
<rect x="425.55" y="134.83" width="6.15" height="6.26" fill="#006ef0"/>
<rect x="432.3" y="134.83" width="6.15" height="6.26" fill="#0025be"/>
<rect x="439.05" y="134.83" width="6.15" height="6.26" fill="#0015a7"/>
<rect x="445.8" y="134.83" width="6.15" height="6.26" fill="#00008b"/>
<rect x="452.55" y="134.83" width="6.15" height="6.26" fill="#0010a2"/>
<rect x="459.3" y="134.83" width="6.15" height="6.26" fill="#000491"/>
<rect x="466.05" y="134.83" width="6.15" height="6.26" fill="#0019ad"/>
<text x="476.9" y="139.69" font-size="5.4" font-style="italic">CDC25C</text>
<line x1="402.5" y1="134.53" x2="411" y2="134.53" stroke="#e4e4e4" stroke-width="0.4"/>
<rect x="412.05" y="141.68" width="6.15" height="6.26" fill="#44f4ff"/>
<rect x="418.8" y="141.68" width="6.15" height="6.26" fill="#44f4ff"/>
<rect x="425.55" y="141.68" width="6.15" height="6.26" fill="#00bdf9"/>
<rect x="432.3" y="141.68" width="6.15" height="6.26" fill="#008bf3"/>
<rect x="439.05" y="141.68" width="6.15" height="6.26" fill="#0077f1"/>
<rect x="445.8" y="141.68" width="6.15" height="6.26" fill="#006ef0"/>
<rect x="452.55" y="141.68" width="6.15" height="6.26" fill="#0077f1"/>
<rect x="459.3" y="141.68" width="6.15" height="6.26" fill="#0046eb"/>
<rect x="466.05" y="141.68" width="6.15" height="6.26" fill="#006ef0"/>
<text x="476.9" y="146.55" font-size="5.4" font-style="italic">CCNB1</text>
<line x1="402.5" y1="141.38" x2="411" y2="141.38" stroke="#e4e4e4" stroke-width="0.4"/>
<rect x="412.05" y="148.54" width="6.15" height="6.26" fill="#b6fcff"/>
<rect x="418.8" y="148.54" width="6.15" height="6.26" fill="#55f5ff"/>
<rect x="425.55" y="148.54" width="6.15" height="6.26" fill="#00eeff"/>
<rect x="432.3" y="148.54" width="6.15" height="6.26" fill="#00e4fe"/>
<rect x="439.05" y="148.54" width="6.15" height="6.26" fill="#00c6fa"/>
<rect x="445.8" y="148.54" width="6.15" height="6.26" fill="#00bdf9"/>
<rect x="452.55" y="148.54" width="6.15" height="6.26" fill="#00bdf9"/>
<rect x="459.3" y="148.54" width="6.15" height="6.26" fill="#00bdf9"/>
<rect x="466.05" y="148.54" width="6.15" height="6.26" fill="#00b3f8"/>
<text x="476.9" y="153.4" font-size="5.4" font-style="italic">PTTG1</text>
<line x1="402.5" y1="148.24" x2="411" y2="148.24" stroke="#e4e4e4" stroke-width="0.4"/>
<rect x="412.05" y="155.4" width="6.15" height="6.26" fill="#66f6ff"/>
<rect x="418.8" y="155.4" width="6.15" height="6.26" fill="#22f1ff"/>
<rect x="425.55" y="155.4" width="6.15" height="6.26" fill="#009ff6"/>
<rect x="432.3" y="155.4" width="6.15" height="6.26" fill="#00a9f7"/>
<rect x="439.05" y="155.4" width="6.15" height="6.26" fill="#0064ef"/>
<rect x="445.8" y="155.4" width="6.15" height="6.26" fill="#0077f1"/>
<rect x="452.55" y="155.4" width="6.15" height="6.26" fill="#0064ef"/>
<rect x="459.3" y="155.4" width="6.15" height="6.26" fill="#0081f2"/>
<rect x="466.05" y="155.4" width="6.15" height="6.26" fill="#005aed"/>
<text x="476.9" y="160.26" font-size="5.4" font-style="italic">CDK1</text>
<line x1="402.5" y1="155.1" x2="411" y2="155.1" stroke="#e4e4e4" stroke-width="0.4"/>
<rect x="412.05" y="162.26" width="6.15" height="6.26" fill="#00eeff"/>
<rect x="418.8" y="162.26" width="6.15" height="6.26" fill="#00eeff"/>
<rect x="425.55" y="162.26" width="6.15" height="6.26" fill="#00b3f8"/>
<rect x="432.3" y="162.26" width="6.15" height="6.26" fill="#006ef0"/>
<rect x="439.05" y="162.26" width="6.15" height="6.26" fill="#008bf3"/>
<rect x="445.8" y="162.26" width="6.15" height="6.26" fill="#009ff6"/>
<rect x="452.55" y="162.26" width="6.15" height="6.26" fill="#00b3f8"/>
<rect x="459.3" y="162.26" width="6.15" height="6.26" fill="#009ff6"/>
<rect x="466.05" y="162.26" width="6.15" height="6.26" fill="#00dafd"/>
<text x="476.9" y="167.12" font-size="5.4" font-style="italic">BIRC5</text>
<line x1="402.5" y1="161.96" x2="411" y2="161.96" stroke="#e4e4e4" stroke-width="0.4"/>
<rect x="412.05" y="169.11" width="6.15" height="6.26" fill="#00eeff"/>
<rect x="418.8" y="169.11" width="6.15" height="6.26" fill="#00e4fe"/>
<rect x="425.55" y="169.11" width="6.15" height="6.26" fill="#009ff6"/>
<rect x="432.3" y="169.11" width="6.15" height="6.26" fill="#006ef0"/>
<rect x="439.05" y="169.11" width="6.15" height="6.26" fill="#005aed"/>
<rect x="445.8" y="169.11" width="6.15" height="6.26" fill="#006ef0"/>
<rect x="452.55" y="169.11" width="6.15" height="6.26" fill="#008bf3"/>
<rect x="459.3" y="169.11" width="6.15" height="6.26" fill="#008bf3"/>
<rect x="466.05" y="169.11" width="6.15" height="6.26" fill="#00b3f8"/>
<text x="476.9" y="173.97" font-size="5.4" font-style="italic">PRC1</text>
<line x1="402.5" y1="168.81" x2="411" y2="168.81" stroke="#e4e4e4" stroke-width="0.4"/>
<rect x="412.05" y="175.97" width="6.15" height="6.26" fill="#22f1ff"/>
<rect x="418.8" y="175.97" width="6.15" height="6.26" fill="#33f2ff"/>
<rect x="425.55" y="175.97" width="6.15" height="6.26" fill="#22f1ff"/>
<rect x="432.3" y="175.97" width="6.15" height="6.26" fill="#00e4fe"/>
<rect x="439.05" y="175.97" width="6.15" height="6.26" fill="#11efff"/>
<rect x="445.8" y="175.97" width="6.15" height="6.26" fill="#00eeff"/>
<rect x="452.55" y="175.97" width="6.15" height="6.26" fill="#00eeff"/>
<rect x="459.3" y="175.97" width="6.15" height="6.26" fill="#11efff"/>
<rect x="466.05" y="175.97" width="6.15" height="6.26" fill="#44f4ff"/>
<text x="476.9" y="180.83" font-size="5.4" font-style="italic">BRCA2</text>
<line x1="402.5" y1="175.67" x2="411" y2="175.67" stroke="#e4e4e4" stroke-width="0.4"/>
<rect x="412.05" y="182.83" width="6.15" height="6.26" fill="#11efff"/>
<rect x="418.8" y="182.83" width="6.15" height="6.26" fill="#00eeff"/>
<rect x="425.55" y="182.83" width="6.15" height="6.26" fill="#00e4fe"/>
<rect x="432.3" y="182.83" width="6.15" height="6.26" fill="#00c6fa"/>
<rect x="439.05" y="182.83" width="6.15" height="6.26" fill="#00dafd"/>
<rect x="445.8" y="182.83" width="6.15" height="6.26" fill="#00d0fb"/>
<rect x="452.55" y="182.83" width="6.15" height="6.26" fill="#00dafd"/>
<rect x="459.3" y="182.83" width="6.15" height="6.26" fill="#00d0fb"/>
<rect x="466.05" y="182.83" width="6.15" height="6.26" fill="#00eeff"/>
<text x="476.9" y="187.69" font-size="5.4" font-style="italic">BRCA1</text>
<line x1="402.5" y1="182.53" x2="411" y2="182.53" stroke="#e4e4e4" stroke-width="0.4"/>
<rect x="412.05" y="189.68" width="6.15" height="6.26" fill="#00eeff"/>
<rect x="418.8" y="189.68" width="6.15" height="6.26" fill="#00eeff"/>
<rect x="425.55" y="189.68" width="6.15" height="6.26" fill="#11efff"/>
<rect x="432.3" y="189.68" width="6.15" height="6.26" fill="#00e4fe"/>
<rect x="439.05" y="189.68" width="6.15" height="6.26" fill="#00e4fe"/>
<rect x="445.8" y="189.68" width="6.15" height="6.26" fill="#00d0fb"/>
<rect x="452.55" y="189.68" width="6.15" height="6.26" fill="#00dafd"/>
<rect x="459.3" y="189.68" width="6.15" height="6.26" fill="#00c6fa"/>
<rect x="466.05" y="189.68" width="6.15" height="6.26" fill="#00eeff"/>
<text x="476.9" y="194.54" font-size="5.4" font-style="italic">CDC25A</text>
<line x1="402.5" y1="189.38" x2="411" y2="189.38" stroke="#e4e4e4" stroke-width="0.4"/>
<rect x="412.05" y="196.54" width="6.15" height="6.26" fill="#0077f1"/>
<rect x="418.8" y="196.54" width="6.15" height="6.26" fill="#008bf3"/>
<rect x="425.55" y="196.54" width="6.15" height="6.26" fill="#00dafd"/>
<rect x="432.3" y="196.54" width="6.15" height="6.26" fill="#0042e5"/>
<rect x="439.05" y="196.54" width="6.15" height="6.26" fill="#00a9f7"/>
<rect x="445.8" y="196.54" width="6.15" height="6.26" fill="#005aed"/>
<rect x="452.55" y="196.54" width="6.15" height="6.26" fill="#0081f2"/>
<rect x="459.3" y="196.54" width="6.15" height="6.26" fill="#005aed"/>
<rect x="466.05" y="196.54" width="6.15" height="6.26" fill="#00b3f8"/>
<text x="476.9" y="201.4" font-size="5.4" font-style="italic">E2F1</text>
<line x1="402.5" y1="196.24" x2="411" y2="196.24" stroke="#e4e4e4" stroke-width="0.4"/>
<line x1="353" y1="96.8" x2="353" y2="169.1" stroke="#8c8c8c" stroke-width="0.7"/>
<line x1="353" y1="96.8" x2="399.5" y2="96.8" stroke="#8c8c8c" stroke-width="0.7"/>
<line x1="353" y1="169.1" x2="394.4" y2="169.1" stroke="#8c8c8c" stroke-width="0.7"/>
<line x1="399.5" y1="63" x2="399.5" y2="131" stroke="#8c8c8c" stroke-width="0.7"/>
<line x1="400.8" y1="61.53" x2="400.8" y2="83.1" stroke="#8c8c8c" stroke-width="0.5"/>
<line x1="401.4" y1="69.39" x2="401.4" y2="110.53" stroke="#8c8c8c" stroke-width="0.5"/>
<line x1="400.3" y1="89.96" x2="400.3" y2="130.1" stroke="#8c8c8c" stroke-width="0.5"/>
<line x1="402" y1="117.38" x2="402" y2="124.24" stroke="#8c8c8c" stroke-width="0.4"/>
<line x1="401.4" y1="62.53" x2="402.6" y2="62.53" stroke="#8c8c8c" stroke-width="0.35"/>
<line x1="401.4" y1="69.39" x2="402.6" y2="69.39" stroke="#8c8c8c" stroke-width="0.35"/>
<line x1="401.4" y1="76.24" x2="402.6" y2="76.24" stroke="#8c8c8c" stroke-width="0.35"/>
<line x1="401.4" y1="83.1" x2="402.6" y2="83.1" stroke="#8c8c8c" stroke-width="0.35"/>
<line x1="401.4" y1="89.96" x2="402.6" y2="89.96" stroke="#8c8c8c" stroke-width="0.35"/>
<line x1="401.4" y1="96.81" x2="402.6" y2="96.81" stroke="#8c8c8c" stroke-width="0.35"/>
<line x1="401.4" y1="103.67" x2="402.6" y2="103.67" stroke="#8c8c8c" stroke-width="0.35"/>
<line x1="401.4" y1="110.53" x2="402.6" y2="110.53" stroke="#8c8c8c" stroke-width="0.35"/>
<line x1="401.4" y1="117.38" x2="402.6" y2="117.38" stroke="#8c8c8c" stroke-width="0.35"/>
<line x1="401.4" y1="124.24" x2="402.6" y2="124.24" stroke="#8c8c8c" stroke-width="0.35"/>
<line x1="401.4" y1="131.1" x2="402.6" y2="131.1" stroke="#8c8c8c" stroke-width="0.35"/>
<line x1="394.4" y1="155.5" x2="394.4" y2="189.7" stroke="#8c8c8c" stroke-width="0.6"/>
<line x1="394.4" y1="155.5" x2="397.6" y2="155.5" stroke="#8c8c8c" stroke-width="0.6"/>
<line x1="397.6" y1="147.7" x2="397.6" y2="164.4" stroke="#8c8c8c" stroke-width="0.6"/>
<line x1="397.6" y1="147.7" x2="400" y2="147.7" stroke="#8c8c8c" stroke-width="0.6"/>
<line x1="400" y1="137.96" x2="400" y2="151.67" stroke="#8c8c8c" stroke-width="0.6"/>
<line x1="400" y1="137.96" x2="402.5" y2="137.96" stroke="#8c8c8c" stroke-width="0.4"/>
<line x1="400" y1="151.67" x2="402.5" y2="151.67" stroke="#8c8c8c" stroke-width="0.4"/>
<line x1="401" y1="144.81" x2="402.5" y2="144.81" stroke="#8c8c8c" stroke-width="0.4"/>
<line x1="401" y1="137.96" x2="401" y2="144.81" stroke="#8c8c8c" stroke-width="0.4"/>
<line x1="397.6" y1="164.4" x2="399.6" y2="164.4" stroke="#8c8c8c" stroke-width="0.6"/>
<line x1="399.6" y1="158.53" x2="399.6" y2="172.24" stroke="#8c8c8c" stroke-width="0.6"/>
<line x1="399.6" y1="158.53" x2="402.5" y2="158.53" stroke="#8c8c8c" stroke-width="0.4"/>
<line x1="399.6" y1="172.24" x2="401" y2="172.24" stroke="#8c8c8c" stroke-width="0.4"/>
<line x1="401" y1="165.38" x2="401" y2="173.24" stroke="#8c8c8c" stroke-width="0.4"/>
<line x1="401" y1="165.38" x2="402.5" y2="165.38" stroke="#8c8c8c" stroke-width="0.4"/>
<line x1="394.4" y1="189.7" x2="397.6" y2="189.7" stroke="#8c8c8c" stroke-width="0.6"/>
<line x1="397.6" y1="179" x2="397.6" y2="196" stroke="#8c8c8c" stroke-width="0.6"/>
<line x1="397.6" y1="179" x2="399.6" y2="179" stroke="#8c8c8c" stroke-width="0.6"/>
<line x1="399.6" y1="179.1" x2="399.6" y2="192.81" stroke="#8c8c8c" stroke-width="0.6"/>
<line x1="399.6" y1="179.1" x2="402.5" y2="179.1" stroke="#8c8c8c" stroke-width="0.4"/>
<line x1="399.6" y1="192.81" x2="402.5" y2="192.81" stroke="#8c8c8c" stroke-width="0.4"/>
<line x1="400.8" y1="185.95" x2="402.5" y2="185.95" stroke="#8c8c8c" stroke-width="0.4"/>
<line x1="400.8" y1="185.95" x2="400.8" y2="192.81" stroke="#8c8c8c" stroke-width="0.4"/>
<line x1="397.6" y1="196" x2="400.5" y2="196" stroke="#8c8c8c" stroke-width="0.6"/>
<line x1="400.5" y1="196" x2="400.5" y2="199.67" stroke="#8c8c8c" stroke-width="0.6"/>
<line x1="400.5" y1="199.67" x2="402.5" y2="199.67" stroke="#8c8c8c" stroke-width="0.4"/>
<!-- Panel C -->
<text x="9.3" y="229.77" font-size="10.8" font-weight="bold" stroke="none">C</text>
<path d="M59.56 380.12h1.45v1.45h-1.45zM58.5 383.6h1.45v1.45h-1.45zM56.48 381.08h1.45v1.45h-1.45zM58.48 376.18h1.45v1.45h-1.45zM57.24 368.08h1.45v1.45h-1.45zM59.86 381.62h1.45v1.45h-1.45zM57.53 360.24h1.45v1.45h-1.45zM59.14 383.52h1.45v1.45h-1.45zM59.02 378.68h1.45v1.45h-1.45zM58.71 381.52h1.45v1.45h-1.45zM58.39 375.7h1.45v1.45h-1.45zM59.76 383.42h1.45v1.45h-1.45zM58.01 380.69h1.45v1.45h-1.45zM59.07 382.08h1.45v1.45h-1.45zM59.04 372.12h1.45v1.45h-1.45zM58.44 382.01h1.45v1.45h-1.45zM56.02 358.3h1.45v1.45h-1.45zM57.67 381.77h1.45v1.45h-1.45zM59.96 381.86h1.45v1.45h-1.45zM56.11 361.69h1.45v1.45h-1.45zM59.34 378.71h1.45v1.45h-1.45zM58.87 379.77h1.45v1.45h-1.45zM58.58 375.75h1.45v1.45h-1.45zM59.62 380.05h1.45v1.45h-1.45zM59.3 381.94h1.45v1.45h-1.45zM60.05 383.29h1.45v1.45h-1.45zM58 383.23h1.45v1.45h-1.45zM55.89 368.09h1.45v1.45h-1.45zM55.07 374.12h1.45v1.45h-1.45zM59.9 380.78h1.45v1.45h-1.45zM58.01 382.19h1.45v1.45h-1.45zM59.35 383.44h1.45v1.45h-1.45zM58.29 375.76h1.45v1.45h-1.45zM58.98 380.76h1.45v1.45h-1.45zM58.99 382.33h1.45v1.45h-1.45zM59.9 380.54h1.45v1.45h-1.45zM53.34 361.12h1.45v1.45h-1.45zM57.58 381.99h1.45v1.45h-1.45zM58.74 380.48h1.45v1.45h-1.45zM57.3 379.57h1.45v1.45h-1.45zM58.94 383.31h1.45v1.45h-1.45zM58.24 365.42h1.45v1.45h-1.45zM58.16 382.12h1.45v1.45h-1.45zM58.13 383.45h1.45v1.45h-1.45zM58.9 379.84h1.45v1.45h-1.45zM58.15 383.37h1.45v1.45h-1.45zM57.52 383.42h1.45v1.45h-1.45zM58.81 381.52h1.45v1.45h-1.45zM57.96 373.71h1.45v1.45h-1.45zM59.24 381.37h1.45v1.45h-1.45zM56.67 360.76h1.45v1.45h-1.45zM58.45 374.54h1.45v1.45h-1.45zM59.94 380.92h1.45v1.45h-1.45zM59.16 373.47h1.45v1.45h-1.45zM54.84 365.69h1.45v1.45h-1.45zM57.91 383.5h1.45v1.45h-1.45zM56.61 381.74h1.45v1.45h-1.45zM57.25 361.38h1.45v1.45h-1.45zM59.88 380.14h1.45v1.45h-1.45zM58.11 378.75h1.45v1.45h-1.45zM56.75 364.6h1.45v1.45h-1.45zM56.29 373.96h1.45v1.45h-1.45zM58.72 371.14h1.45v1.45h-1.45zM58 380.8h1.45v1.45h-1.45zM58.34 380.89h1.45v1.45h-1.45zM58.42 383.08h1.45v1.45h-1.45zM60.04 382.08h1.45v1.45h-1.45zM59.18 383.19h1.45v1.45h-1.45zM59.1 383.43h1.45v1.45h-1.45zM56.88 355.24h1.45v1.45h-1.45zM57.11 368.1h1.45v1.45h-1.45zM60.06 383.04h1.45v1.45h-1.45zM58.08 382.94h1.45v1.45h-1.45zM59.8 379.38h1.45v1.45h-1.45zM58.36 381.74h1.45v1.45h-1.45zM58.27 375.55h1.45v1.45h-1.45zM57.74 373.69h1.45v1.45h-1.45zM58.52 382.74h1.45v1.45h-1.45zM58.32 370.36h1.45v1.45h-1.45zM58.07 380.29h1.45v1.45h-1.45zM58.92 373.97h1.45v1.45h-1.45zM59.03 381.64h1.45v1.45h-1.45zM58.78 382.47h1.45v1.45h-1.45zM58.69 380.81h1.45v1.45h-1.45zM58.11 380.02h1.45v1.45h-1.45zM59.95 381.77h1.45v1.45h-1.45zM55.64 371.7h1.45v1.45h-1.45zM56.83 382.89h1.45v1.45h-1.45zM58.54 379.01h1.45v1.45h-1.45zM54.53 365.87h1.45v1.45h-1.45zM59.99 383.38h1.45v1.45h-1.45zM59.41 382.15h1.45v1.45h-1.45zM52.15 357.52h1.45v1.45h-1.45zM58.21 380.3h1.45v1.45h-1.45zM57.34 369.11h1.45v1.45h-1.45zM58.79 372.78h1.45v1.45h-1.45zM55.64 362.57h1.45v1.45h-1.45zM58.18 376.67h1.45v1.45h-1.45zM59.53 381.9h1.45v1.45h-1.45zM59.5 382.02h1.45v1.45h-1.45zM58.37 381.54h1.45v1.45h-1.45zM58.9 382.03h1.45v1.45h-1.45zM59.3 383.59h1.45v1.45h-1.45zM58.27 382.19h1.45v1.45h-1.45zM59.23 380.96h1.45v1.45h-1.45zM56.94 377.92h1.45v1.45h-1.45zM59.11 383.2h1.45v1.45h-1.45zM58.73 377.89h1.45v1.45h-1.45zM58.7 376.29h1.45v1.45h-1.45zM58.87 375.06h1.45v1.45h-1.45zM59.6 379.85h1.45v1.45h-1.45zM56.07 361.49h1.45v1.45h-1.45zM58.73 380.96h1.45v1.45h-1.45zM59.29 379.77h1.45v1.45h-1.45zM56.89 369.21h1.45v1.45h-1.45zM60.03 382.08h1.45v1.45h-1.45zM59.33 374.24h1.45v1.45h-1.45zM58.51 366.87h1.45v1.45h-1.45zM59.19 379.68h1.45v1.45h-1.45zM56.8 368.14h1.45v1.45h-1.45zM59.67 379.2h1.45v1.45h-1.45zM59.46 377.86h1.45v1.45h-1.45zM58.93 376.26h1.45v1.45h-1.45zM59.2 376.62h1.45v1.45h-1.45zM59.08 380.32h1.45v1.45h-1.45zM59.97 381.26h1.45v1.45h-1.45zM59.05 378.34h1.45v1.45h-1.45zM59.44 378.79h1.45v1.45h-1.45zM57.88 371.84h1.45v1.45h-1.45zM59.93 382.69h1.45v1.45h-1.45zM55.5 362.91h1.45v1.45h-1.45zM59.94 383.28h1.45v1.45h-1.45zM54.54 364.79h1.45v1.45h-1.45zM57.21 376.66h1.45v1.45h-1.45zM57.19 371.07h1.45v1.45h-1.45zM58 381.86h1.45v1.45h-1.45zM58.27 379.92h1.45v1.45h-1.45zM57.98 382.21h1.45v1.45h-1.45zM58.7 381.89h1.45v1.45h-1.45zM58.84 380.17h1.45v1.45h-1.45zM60.07 382.72h1.45v1.45h-1.45zM55.09 367.19h1.45v1.45h-1.45zM58.18 383.37h1.45v1.45h-1.45zM59.35 383.39h1.45v1.45h-1.45zM56.98 370.48h1.45v1.45h-1.45zM58.22 377.89h1.45v1.45h-1.45zM58.97 376.53h1.45v1.45h-1.45zM58.03 377.34h1.45v1.45h-1.45zM58.96 379.66h1.45v1.45h-1.45zM58.44 379.5h1.45v1.45h-1.45zM59.1 383.5h1.45v1.45h-1.45zM58.94 381.73h1.45v1.45h-1.45zM58.9 373.23h1.45v1.45h-1.45zM58.6 382.24h1.45v1.45h-1.45zM59.16 379.03h1.45v1.45h-1.45zM59.35 379.59h1.45v1.45h-1.45zM58.68 382.98h1.45v1.45h-1.45zM59.62 383.37h1.45v1.45h-1.45zM57.13 376.34h1.45v1.45h-1.45zM57.7 372.78h1.45v1.45h-1.45zM57.98 378.48h1.45v1.45h-1.45zM59.32 380.24h1.45v1.45h-1.45zM54.92 361.84h1.45v1.45h-1.45zM52.56 341.98h1.45v1.45h-1.45zM58.89 374.13h1.45v1.45h-1.45zM55.85 354.68h1.45v1.45h-1.45zM56.41 378.77h1.45v1.45h-1.45zM59.28 382.37h1.45v1.45h-1.45zM58.57 372.42h1.45v1.45h-1.45zM59.7 380.54h1.45v1.45h-1.45zM57.12 373.45h1.45v1.45h-1.45zM57.48 381.35h1.45v1.45h-1.45zM57.66 371.43h1.45v1.45h-1.45zM56.39 365.38h1.45v1.45h-1.45zM59.92 381.98h1.45v1.45h-1.45zM58.26 380.89h1.45v1.45h-1.45zM59.86 383.4h1.45v1.45h-1.45zM57.13 363.71h1.45v1.45h-1.45zM58.63 375.43h1.45v1.45h-1.45zM58.51 372.54h1.45v1.45h-1.45zM58.28 382.79h1.45v1.45h-1.45zM59.52 380.44h1.45v1.45h-1.45zM56.19 368.73h1.45v1.45h-1.45zM57.86 368.16h1.45v1.45h-1.45zM58.28 382.87h1.45v1.45h-1.45zM59.79 380.04h1.45v1.45h-1.45zM58.64 372.1h1.45v1.45h-1.45zM54.64 377.44h1.45v1.45h-1.45zM59.77 380.44h1.45v1.45h-1.45zM58.62 382.27h1.45v1.45h-1.45zM56.03 373.81h1.45v1.45h-1.45zM59.24 381.56h1.45v1.45h-1.45zM57.28 376.29h1.45v1.45h-1.45zM59.29 375.78h1.45v1.45h-1.45zM59.59 380.96h1.45v1.45h-1.45zM60.09 382.5h1.45v1.45h-1.45zM57.75 376.74h1.45v1.45h-1.45zM57.66 367.31h1.45v1.45h-1.45zM59.83 382.65h1.45v1.45h-1.45zM58.35 383.51h1.45v1.45h-1.45zM59.83 383.66h1.45v1.45h-1.45zM59.37 380.47h1.45v1.45h-1.45zM58.45 381.84h1.45v1.45h-1.45zM59.14 382.02h1.45v1.45h-1.45zM58.68 376.59h1.45v1.45h-1.45zM58.27 363.69h1.45v1.45h-1.45zM59.65 381.65h1.45v1.45h-1.45zM58.94 376.31h1.45v1.45h-1.45zM58.48 368.82h1.45v1.45h-1.45zM58.61 381.45h1.45v1.45h-1.45zM59.19 383.59h1.45v1.45h-1.45zM58.45 380.55h1.45v1.45h-1.45zM55.73 376.16h1.45v1.45h-1.45zM57.86 374.09h1.45v1.45h-1.45zM59.67 381.61h1.45v1.45h-1.45zM59.45 378.18h1.45v1.45h-1.45zM59.83 379.9h1.45v1.45h-1.45zM58.58 372.74h1.45v1.45h-1.45zM57.33 383.58h1.45v1.45h-1.45zM59.1 382.56h1.45v1.45h-1.45zM58.8 382.06h1.45v1.45h-1.45zM58.27 376.24h1.45v1.45h-1.45zM58.36 371.51h1.45v1.45h-1.45zM58.88 381.09h1.45v1.45h-1.45zM58.44 383.31h1.45v1.45h-1.45zM57.36 374.57h1.45v1.45h-1.45zM59.02 383.63h1.45v1.45h-1.45zM57.69 379.14h1.45v1.45h-1.45zM58.07 373.87h1.45v1.45h-1.45zM59.85 382.87h1.45v1.45h-1.45zM45.27 332.07h1.45v1.45h-1.45zM46.98 334.67h1.45v1.45h-1.45zM52.98 332.07h1.45v1.45h-1.45zM54.77 332.97h1.45v1.45h-1.45zM55.07 334.97h1.45v1.45h-1.45zM46.98 337.77h1.45v1.45h-1.45zM52.98 340.17h1.45v1.45h-1.45zM54.77 339.88h1.45v1.45h-1.45zM55.57 340.67h1.45v1.45h-1.45zM51.27 342.07h1.45v1.45h-1.45zM50.07 342.47h1.45v1.45h-1.45zM53.88 341.07h1.45v1.45h-1.45zM54.27 340.27h1.45v1.45h-1.45zM48.67 359.77h1.45v1.45h-1.45zM46.98 376.17h1.45v1.45h-1.45zM51.88 358.07h1.45v1.45h-1.45zM49.98 362.27h1.45v1.45h-1.45z" fill="#4a96f5"/>
<path d="M44.88 356.27h1.45v1.45h-1.45zM32.77 374.77h1.45v1.45h-1.45zM36.57 377.57h1.45v1.45h-1.45zM39.67 376.67h1.45v1.45h-1.45zM50.38 373.27h1.45v1.45h-1.45zM38.27 379.97h1.45v1.45h-1.45zM55.57 361.47h1.45v1.45h-1.45zM51.77 364.97h1.45v1.45h-1.45zM50.38 379.27h1.45v1.45h-1.45zM52.98 379.67h1.45v1.45h-1.45zM47.77 337.57h1.45v1.45h-1.45zM46.27 380.27h1.45v1.45h-1.45zM43.27 381.07h1.45v1.45h-1.45zM56.77 378.27h1.45v1.45h-1.45zM79.88 377.88h1.45v1.45h-1.45zM95 374.99h1.45v1.45h-1.45zM82.59 378.2h1.45v1.45h-1.45zM80.1 367.15h1.45v1.45h-1.45zM86.05 380.25h1.45v1.45h-1.45zM87.72 377.9h1.45v1.45h-1.45zM91.17 377.94h1.45v1.45h-1.45zM83.99 373.33h1.45v1.45h-1.45zM78.72 375.97h1.45v1.45h-1.45zM76.51 371.91h1.45v1.45h-1.45zM88.03 378.11h1.45v1.45h-1.45zM83.72 368.76h1.45v1.45h-1.45zM80.14 372.66h1.45v1.45h-1.45zM83.55 372.37h1.45v1.45h-1.45zM84.78 380.88h1.45v1.45h-1.45zM77.31 376.43h1.45v1.45h-1.45zM87.87 372.85h1.45v1.45h-1.45zM81.13 381.43h1.45v1.45h-1.45zM75.99 374.42h1.45v1.45h-1.45zM77.1 378.54h1.45v1.45h-1.45zM98.54 376.83h1.45v1.45h-1.45zM76.54 375h1.45v1.45h-1.45zM81.98 377.65h1.45v1.45h-1.45zM81.49 376.31h1.45v1.45h-1.45zM89.98 375.52h1.45v1.45h-1.45zM79.95 381.05h1.45v1.45h-1.45zM77.59 376.94h1.45v1.45h-1.45zM79.71 378.23h1.45v1.45h-1.45zM76.73 381.57h1.45v1.45h-1.45zM79.23 360.42h1.45v1.45h-1.45zM78.27 371.47h1.45v1.45h-1.45zM75.78 371.89h1.45v1.45h-1.45zM80.09 377.18h1.45v1.45h-1.45zM79.19 368.19h1.45v1.45h-1.45zM77.73 377.89h1.45v1.45h-1.45zM98.45 376.91h1.45v1.45h-1.45zM77.68 378.85h1.45v1.45h-1.45zM79.7 366.66h1.45v1.45h-1.45zM76.8 378.46h1.45v1.45h-1.45zM89.11 377.1h1.45v1.45h-1.45zM80.8 374.86h1.45v1.45h-1.45zM77.75 381.27h1.45v1.45h-1.45zM79.2 376.16h1.45v1.45h-1.45zM89.51 379.58h1.45v1.45h-1.45zM80.79 369.12h1.45v1.45h-1.45zM82.11 364.37h1.45v1.45h-1.45zM90.21 372.72h1.45v1.45h-1.45zM91.08 371.2h1.45v1.45h-1.45zM79.5 367.87h1.45v1.45h-1.45zM80.17 365.84h1.45v1.45h-1.45zM75.7 377.57h1.45v1.45h-1.45zM78.35 367.63h1.45v1.45h-1.45zM78.59 373.16h1.45v1.45h-1.45zM80.21 376.13h1.45v1.45h-1.45zM84.4 371.57h1.45v1.45h-1.45zM97.07 380.38h1.45v1.45h-1.45zM76.15 379.26h1.45v1.45h-1.45zM94.81 379.51h1.45v1.45h-1.45zM76.9 379.31h1.45v1.45h-1.45zM83.8 358.96h1.45v1.45h-1.45zM75.77 381.1h1.45v1.45h-1.45zM84.32 368.93h1.45v1.45h-1.45zM76.54 364.34h1.45v1.45h-1.45zM77.83 378.45h1.45v1.45h-1.45zM79.12 364.7h1.45v1.45h-1.45zM94.66 379.59h1.45v1.45h-1.45zM77.16 380.22h1.45v1.45h-1.45zM83.27 378.73h1.45v1.45h-1.45zM84.62 380.39h1.45v1.45h-1.45zM88.24 379.81h1.45v1.45h-1.45zM77.46 377.08h1.45v1.45h-1.45zM81.8 378.02h1.45v1.45h-1.45zM80.35 380.1h1.45v1.45h-1.45zM82.23 368.73h1.45v1.45h-1.45zM77.84 364.21h1.45v1.45h-1.45zM81.18 360.95h1.45v1.45h-1.45zM80.77 364.61h1.45v1.45h-1.45zM81.15 373.7h1.45v1.45h-1.45zM81.96 379.86h1.45v1.45h-1.45zM75.73 379.46h1.45v1.45h-1.45zM80.79 374.86h1.45v1.45h-1.45zM84.54 379.66h1.45v1.45h-1.45zM79.48 371.89h1.45v1.45h-1.45zM101.87 370.26h1.45v1.45h-1.45zM83.88 376.53h1.45v1.45h-1.45zM75.91 375.64h1.45v1.45h-1.45zM84.97 380.9h1.45v1.45h-1.45zM78.92 381.53h1.45v1.45h-1.45zM81.46 373.49h1.45v1.45h-1.45zM94.13 365.29h1.45v1.45h-1.45zM85.93 376.59h1.45v1.45h-1.45zM79.02 379.77h1.45v1.45h-1.45zM79.37 373.06h1.45v1.45h-1.45zM81.71 378.47h1.45v1.45h-1.45zM77.59 372.24h1.45v1.45h-1.45zM80.12 374.62h1.45v1.45h-1.45zM89.87 371.41h1.45v1.45h-1.45zM89.92 373.55h1.45v1.45h-1.45zM81.35 368.68h1.45v1.45h-1.45zM81.39 381.44h1.45v1.45h-1.45zM84.28 378.95h1.45v1.45h-1.45zM78.93 369.54h1.45v1.45h-1.45zM78.56 375.22h1.45v1.45h-1.45zM83.83 378.81h1.45v1.45h-1.45zM76.01 377.58h1.45v1.45h-1.45zM93.24 376.37h1.45v1.45h-1.45zM76.09 369.12h1.45v1.45h-1.45zM75.73 365.97h1.45v1.45h-1.45zM96.28 377.6h1.45v1.45h-1.45zM84.37 378.91h1.45v1.45h-1.45zM95.16 377.51h1.45v1.45h-1.45zM83.44 376.33h1.45v1.45h-1.45zM85.33 376.06h1.45v1.45h-1.45zM84.93 368.11h1.45v1.45h-1.45zM84.58 373.52h1.45v1.45h-1.45zM87.33 365.4h1.45v1.45h-1.45zM77.3 359.14h1.45v1.45h-1.45zM87.74 380.74h1.45v1.45h-1.45zM84.31 371.69h1.45v1.45h-1.45zM89.68 379.22h1.45v1.45h-1.45zM82.36 368.59h1.45v1.45h-1.45zM78.59 371.96h1.45v1.45h-1.45zM78.78 372.15h1.45v1.45h-1.45zM83.99 380.91h1.45v1.45h-1.45zM76.13 374.87h1.45v1.45h-1.45zM76 363.41h1.45v1.45h-1.45zM89.14 376.23h1.45v1.45h-1.45zM96 375.42h1.45v1.45h-1.45zM75.79 371.19h1.45v1.45h-1.45zM82.94 380.95h1.45v1.45h-1.45zM90.31 373.79h1.45v1.45h-1.45zM76.55 376.26h1.45v1.45h-1.45zM77.61 364.67h1.45v1.45h-1.45zM75.8 355.69h1.45v1.45h-1.45zM85 365.29h1.45v1.45h-1.45zM117.98 354.38h1.45v1.45h-1.45zM112.58 366.35h1.45v1.45h-1.45zM98.18 359.73h1.45v1.45h-1.45zM95.48 360.99h1.45v1.45h-1.45zM91.88 357.84h1.45v1.45h-1.45zM90.08 360.36h1.45v1.45h-1.45zM100.88 370.44h1.45v1.45h-1.45zM95.48 372.96h1.45v1.45h-1.45zM103.58 376.74h1.45v1.45h-1.45zM94.58 358.79h1.45v1.45h-1.45zM99.98 373.28h1.45v1.45h-1.45zM84.17 337.75h1.45v1.45h-1.45zM125.2 336.47h1.45v1.45h-1.45zM122.49 341.72h1.45v1.45h-1.45zM92.76 338.34h1.45v1.45h-1.45zM118.31 336.7h1.45v1.45h-1.45zM91.17 333.69h1.45v1.45h-1.45zM122.54 340.96h1.45v1.45h-1.45zM105.75 330.17h1.45v1.45h-1.45zM125.73 340.84h1.45v1.45h-1.45zM92.69 338.04h1.45v1.45h-1.45zM130.94 341.47h1.45v1.45h-1.45zM109.33 336.84h1.45v1.45h-1.45zM113.22 332.51h1.45v1.45h-1.45zM90.35 332.35h1.45v1.45h-1.45zM119.66 335.35h1.45v1.45h-1.45zM111.79 335.89h1.45v1.45h-1.45zM109.07 331.69h1.45v1.45h-1.45zM81.84 342.05h1.45v1.45h-1.45zM100.82 330.67h1.45v1.45h-1.45zM115.72 340.17h1.45v1.45h-1.45zM88.27 338.23h1.45v1.45h-1.45zM99.14 337.35h1.45v1.45h-1.45zM80.46 328.26h1.45v1.45h-1.45zM136.32 341.37h1.45v1.45h-1.45zM107.29 337.9h1.45v1.45h-1.45zM94.34 340.09h1.45v1.45h-1.45zM103.81 341.62h1.45v1.45h-1.45zM123.47 341.11h1.45v1.45h-1.45zM134.77 337.04h1.45v1.45h-1.45zM81.46 332.74h1.45v1.45h-1.45zM89.69 330.05h1.45v1.45h-1.45zM82.21 337.79h1.45v1.45h-1.45zM129.43 338.8h1.45v1.45h-1.45zM133.83 341.61h1.45v1.45h-1.45zM82.97 338.24h1.45v1.45h-1.45zM102.17 331.01h1.45v1.45h-1.45zM134.53 337.07h1.45v1.45h-1.45zM111.79 338.7h1.45v1.45h-1.45zM134.36 340.23h1.45v1.45h-1.45zM101.92 336.48h1.45v1.45h-1.45zM88.48 341.78h1.45v1.45h-1.45zM136.4 336.7h1.45v1.45h-1.45zM81.5 333.71h1.45v1.45h-1.45zM99.55 341.23h1.45v1.45h-1.45zM131.38 341.21h1.45v1.45h-1.45zM81.98 340.16h1.45v1.45h-1.45zM120.15 338.76h1.45v1.45h-1.45zM136.04 334.32h1.45v1.45h-1.45zM87.62 339.86h1.45v1.45h-1.45zM133.38 340.28h1.45v1.45h-1.45zM96.49 338.17h1.45v1.45h-1.45zM122.93 335.22h1.45v1.45h-1.45zM97.93 333.73h1.45v1.45h-1.45zM86.43 336.89h1.45v1.45h-1.45zM88.99 333.42h1.45v1.45h-1.45zM87.52 339.08h1.45v1.45h-1.45zM80 339.48h1.45v1.45h-1.45zM90.51 328.37h1.45v1.45h-1.45zM132.71 336.69h1.45v1.45h-1.45zM133.07 341.37h1.45v1.45h-1.45zM130.46 335.72h1.45v1.45h-1.45zM105.04 330.42h1.45v1.45h-1.45zM95.98 304.67h1.45v1.45h-1.45zM118.08 305.88h1.45v1.45h-1.45zM92.98 313.67h1.45v1.45h-1.45zM101.18 320.57h1.45v1.45h-1.45zM115.48 321.07h1.45v1.45h-1.45zM122.38 327.17h1.45v1.45h-1.45zM98.18 328.47h1.45v1.45h-1.45zM101.68 328.88h1.45v1.45h-1.45zM118.08 329.38h1.45v1.45h-1.45zM133.78 332.77h1.45v1.45h-1.45zM134.97 337.77h1.45v1.45h-1.45z" fill="#ff8a1a"/>
<path d="M75.04 380.53h1.45v1.45h-1.45zM75.76 381.41h1.45v1.45h-1.45zM75.5 377.17h1.45v1.45h-1.45zM77.15 378.2h1.45v1.45h-1.45zM75.35 374.51h1.45v1.45h-1.45zM79.06 380.1h1.45v1.45h-1.45zM75.09 382.27h1.45v1.45h-1.45zM77.06 375.71h1.45v1.45h-1.45zM76.83 381.95h1.45v1.45h-1.45zM76.71 379.98h1.45v1.45h-1.45zM79.02 381.36h1.45v1.45h-1.45zM81.85 381.52h1.45v1.45h-1.45zM79.23 375.44h1.45v1.45h-1.45zM76.73 379.27h1.45v1.45h-1.45zM80.55 369.04h1.45v1.45h-1.45zM77.93 382.14h1.45v1.45h-1.45zM75.85 369.69h1.45v1.45h-1.45zM76.27 379.39h1.45v1.45h-1.45zM76.49 378.94h1.45v1.45h-1.45zM79.4 381.16h1.45v1.45h-1.45zM77.52 381.61h1.45v1.45h-1.45zM80.45 354.35h1.45v1.45h-1.45zM76.48 369.39h1.45v1.45h-1.45zM76.17 381.11h1.45v1.45h-1.45zM78.53 375.13h1.45v1.45h-1.45zM78.97 371.47h1.45v1.45h-1.45zM75.05 377.01h1.45v1.45h-1.45zM76.9 374.65h1.45v1.45h-1.45zM75.88 375.63h1.45v1.45h-1.45zM79.43 366.56h1.45v1.45h-1.45zM77.33 376.88h1.45v1.45h-1.45zM78.17 380.75h1.45v1.45h-1.45zM77.52 373.97h1.45v1.45h-1.45zM78.65 378.01h1.45v1.45h-1.45zM75.7 373.71h1.45v1.45h-1.45zM76.55 382.55h1.45v1.45h-1.45zM78.3 380.97h1.45v1.45h-1.45zM75.05 377.87h1.45v1.45h-1.45zM78.07 382.26h1.45v1.45h-1.45zM79.41 373.94h1.45v1.45h-1.45zM76.01 379.42h1.45v1.45h-1.45zM78.17 380.89h1.45v1.45h-1.45zM76.61 376.12h1.45v1.45h-1.45zM79.74 376.64h1.45v1.45h-1.45zM75.9 379.83h1.45v1.45h-1.45zM75.73 374.75h1.45v1.45h-1.45zM77.72 381.75h1.45v1.45h-1.45zM76.93 377.47h1.45v1.45h-1.45zM79.69 379.52h1.45v1.45h-1.45zM75.91 375.71h1.45v1.45h-1.45zM78.06 380.46h1.45v1.45h-1.45zM79.55 377.2h1.45v1.45h-1.45zM75.51 377.48h1.45v1.45h-1.45zM78.7 373.93h1.45v1.45h-1.45zM75.83 381.4h1.45v1.45h-1.45zM77.23 372.82h1.45v1.45h-1.45zM74.99 372.92h1.45v1.45h-1.45zM77.52 373.48h1.45v1.45h-1.45zM92.39 357.3h1.45v1.45h-1.45zM79.03 352.89h1.45v1.45h-1.45zM79.03 363.81h1.45v1.45h-1.45zM92.53 356.05h1.45v1.45h-1.45zM88.69 362.85h1.45v1.45h-1.45zM80.48 359.02h1.45v1.45h-1.45zM79.11 367.17h1.45v1.45h-1.45zM83.42 370.43h1.45v1.45h-1.45zM83.58 356.13h1.45v1.45h-1.45zM88.08 361.62h1.45v1.45h-1.45zM87.15 362.32h1.45v1.45h-1.45zM79.64 359.66h1.45v1.45h-1.45zM123.38 355.64h1.45v1.45h-1.45zM78.96 331.25h1.45v1.45h-1.45zM76.73 341.33h1.45v1.45h-1.45zM86.82 340.27h1.45v1.45h-1.45zM77.32 333.55h1.45v1.45h-1.45zM76.95 332.88h1.45v1.45h-1.45zM78.12 333.87h1.45v1.45h-1.45zM82.84 341.66h1.45v1.45h-1.45zM84.73 335.2h1.45v1.45h-1.45zM78.03 330.14h1.45v1.45h-1.45zM83.38 340.14h1.45v1.45h-1.45zM86.58 342.05h1.45v1.45h-1.45zM78.51 342.04h1.45v1.45h-1.45zM83.4 341.69h1.45v1.45h-1.45zM86.23 339.51h1.45v1.45h-1.45zM76.65 331.4h1.45v1.45h-1.45zM80.16 337.28h1.45v1.45h-1.45zM82.14 336.01h1.45v1.45h-1.45zM78.5 337.92h1.45v1.45h-1.45zM77.8 332.49h1.45v1.45h-1.45zM79.51 338.89h1.45v1.45h-1.45zM81.96 338.19h1.45v1.45h-1.45zM83.64 338.61h1.45v1.45h-1.45zM79.79 332.7h1.45v1.45h-1.45zM91.96 336.13h1.45v1.45h-1.45zM76.75 329.39h1.45v1.45h-1.45zM78.43 334.04h1.45v1.45h-1.45zM78.96 335.55h1.45v1.45h-1.45zM81.49 329.33h1.45v1.45h-1.45zM80.6 339.54h1.45v1.45h-1.45zM84.11 338.06h1.45v1.45h-1.45zM81.13 334.33h1.45v1.45h-1.45zM80.37 335.61h1.45v1.45h-1.45zM85.86 339.82h1.45v1.45h-1.45zM83.57 342.07h1.45v1.45h-1.45zM76.7 335.84h1.45v1.45h-1.45zM83.17 332.18h1.45v1.45h-1.45zM77.63 331.88h1.45v1.45h-1.45zM77.41 332.25h1.45v1.45h-1.45zM82.03 339.93h1.45v1.45h-1.45zM82.64 331.57h1.45v1.45h-1.45zM79.72 330.48h1.45v1.45h-1.45zM85.73 339.09h1.45v1.45h-1.45zM99.08 263.97h1.45v1.45h-1.45zM123.68 268.88h1.45v1.45h-1.45zM100.28 272.47h1.45v1.45h-1.45zM94.78 281.77h1.45v1.45h-1.45zM102.58 287.67h1.45v1.45h-1.45zM105.98 294.57h1.45v1.45h-1.45zM102.88 298.38h1.45v1.45h-1.45zM88.18 298.97h1.45v1.45h-1.45zM91.68 298.38h1.45v1.45h-1.45zM90.38 303.97h1.45v1.45h-1.45zM89.58 309.88h1.45v1.45h-1.45zM100.78 310.67h1.45v1.45h-1.45zM95.98 311.17h1.45v1.45h-1.45zM94.78 312.38h1.45v1.45h-1.45zM106.38 314.97h1.45v1.45h-1.45zM92.18 315.57h1.45v1.45h-1.45zM86.08 317.27h1.45v1.45h-1.45zM90.08 317.57h1.45v1.45h-1.45zM88.68 320.17h1.45v1.45h-1.45zM90.98 323.67h1.45v1.45h-1.45zM111.18 323.67h1.45v1.45h-1.45zM84.38 325.38h1.45v1.45h-1.45zM111.18 327.67h1.45v1.45h-1.45zM108.58 329.27h1.45v1.45h-1.45z" fill="#11c011"/>
<path d="M118.88 357.53h1.45v1.45h-1.45zM117.98 360.05h1.45v1.45h-1.45zM116.18 366.98h1.45v1.45h-1.45zM108.98 370.13h1.45v1.45h-1.45zM113.48 379.58h1.45v1.45h-1.45zM81.08 362.25h1.45v1.45h-1.45zM83.78 370.44h1.45v1.45h-1.45zM95.48 362.57h1.45v1.45h-1.45zM99.98 366.03h1.45v1.45h-1.45zM89.18 376.11h1.45v1.45h-1.45zM101.78 375.8h1.45v1.45h-1.45zM104.48 376.74h1.45v1.45h-1.45zM79.28 378.63h1.45v1.45h-1.45zM85.58 361.62h1.45v1.45h-1.45zM78.38 373.59h1.45v1.45h-1.45zM135.08 334.56h1.45v1.45h-1.45zM129.68 330.32h1.45v1.45h-1.45zM88.28 336.44h1.45v1.45h-1.45zM91.88 338.78h1.45v1.45h-1.45zM97.28 340.19h1.45v1.45h-1.45zM105.38 338.31h1.45v1.45h-1.45zM108.98 339.72h1.45v1.45h-1.45zM82.88 339.25h1.45v1.45h-1.45zM85.58 337.38h1.45v1.45h-1.45zM129.68 340.66h1.45v1.45h-1.45zM131.47 341.13h1.45v1.45h-1.45zM99.98 341.84h1.45v1.45h-1.45zM94.58 335.5h1.45v1.45h-1.45zM80.18 340.66h1.45v1.45h-1.45zM99.38 292.57h1.45v1.45h-1.45zM109.48 293.07h1.45v1.45h-1.45zM129.38 327.67h1.45v1.45h-1.45zM134.78 331.27h1.45v1.45h-1.45z" fill="#8a0a9a"/>
<path d="M56.59 381.27h1.45v1.45h-1.45zM87.41 380.8h1.45v1.45h-1.45zM52.7 382.12h1.45v1.45h-1.45zM75.25 382.54h1.45v1.45h-1.45zM61.85 382.33h1.45v1.45h-1.45zM75.49 380.92h1.45v1.45h-1.45zM54.74 383.32h1.45v1.45h-1.45zM76.6 381.6h1.45v1.45h-1.45zM51.02 383.57h1.45v1.45h-1.45zM85.9 382.22h1.45v1.45h-1.45zM44.61 381.82h1.45v1.45h-1.45zM91.67 382.58h1.45v1.45h-1.45zM59.89 381.09h1.45v1.45h-1.45zM80.39 383.29h1.45v1.45h-1.45zM59.22 382.74h1.45v1.45h-1.45zM87.17 382.14h1.45v1.45h-1.45zM52.48 380.72h1.45v1.45h-1.45zM75.28 381.52h1.45v1.45h-1.45zM50.04 382.31h1.45v1.45h-1.45zM80.5 382.75h1.45v1.45h-1.45zM54.21 381.89h1.45v1.45h-1.45zM90.36 383.29h1.45v1.45h-1.45zM58.05 382.72h1.45v1.45h-1.45zM84.83 383.42h1.45v1.45h-1.45zM49.14 381.85h1.45v1.45h-1.45zM94.17 382.12h1.45v1.45h-1.45zM54.86 383.16h1.45v1.45h-1.45zM77.17 382.49h1.45v1.45h-1.45zM61.82 382.96h1.45v1.45h-1.45zM89.74 383.1h1.45v1.45h-1.45zM46.46 382.64h1.45v1.45h-1.45zM88.32 383.13h1.45v1.45h-1.45zM51.89 382.4h1.45v1.45h-1.45zM91.29 383.61h1.45v1.45h-1.45zM53.83 382.95h1.45v1.45h-1.45zM75.3 383.04h1.45v1.45h-1.45zM50.65 383.66h1.45v1.45h-1.45zM90.92 382.57h1.45v1.45h-1.45zM55.45 382.96h1.45v1.45h-1.45zM74.52 382.41h1.45v1.45h-1.45zM59.45 381.08h1.45v1.45h-1.45zM75.26 383.19h1.45v1.45h-1.45zM60.16 381.7h1.45v1.45h-1.45zM82.08 383.41h1.45v1.45h-1.45zM61.06 382.38h1.45v1.45h-1.45zM85.33 383.44h1.45v1.45h-1.45zM47.49 383.51h1.45v1.45h-1.45zM79.77 382.27h1.45v1.45h-1.45zM55.95 383.44h1.45v1.45h-1.45zM93.71 382.23h1.45v1.45h-1.45zM59.3 381.63h1.45v1.45h-1.45zM78.84 382.48h1.45v1.45h-1.45zM51.72 381.76h1.45v1.45h-1.45zM74.14 382.29h1.45v1.45h-1.45zM55.76 382.7h1.45v1.45h-1.45zM93.61 383.28h1.45v1.45h-1.45zM53.07 382.83h1.45v1.45h-1.45zM87.93 380.65h1.45v1.45h-1.45zM46.02 383.4h1.45v1.45h-1.45zM92 383.42h1.45v1.45h-1.45zM55.33 382.22h1.45v1.45h-1.45zM76.18 382.87h1.45v1.45h-1.45zM61.39 380.76h1.45v1.45h-1.45zM78.34 381.32h1.45v1.45h-1.45zM56.29 380.64h1.45v1.45h-1.45zM74.06 381.27h1.45v1.45h-1.45zM60.67 382.11h1.45v1.45h-1.45zM74.58 383.42h1.45v1.45h-1.45zM51.26 381.26h1.45v1.45h-1.45zM79.23 382.06h1.45v1.45h-1.45zM55.85 381.12h1.45v1.45h-1.45zM91.48 383.67h1.45v1.45h-1.45zM53.98 382.48h1.45v1.45h-1.45zM75.82 381h1.45v1.45h-1.45zM56.24 381.76h1.45v1.45h-1.45zM91.06 382.26h1.45v1.45h-1.45zM62.11 383.58h1.45v1.45h-1.45zM84.89 381.25h1.45v1.45h-1.45zM52.56 380.39h1.45v1.45h-1.45zM84.89 383.63h1.45v1.45h-1.45zM46.68 383.28h1.45v1.45h-1.45zM79.41 382.12h1.45v1.45h-1.45zM59.47 383.2h1.45v1.45h-1.45zM84.98 383.21h1.45v1.45h-1.45zM56.48 381.6h1.45v1.45h-1.45zM90.71 383.66h1.45v1.45h-1.45zM46.88 383.43h1.45v1.45h-1.45zM90.85 383.34h1.45v1.45h-1.45zM58.37 382.57h1.45v1.45h-1.45zM81.35 380.41h1.45v1.45h-1.45zM62.02 381.82h1.45v1.45h-1.45zM79.37 383.01h1.45v1.45h-1.45zM44.97 382.89h1.45v1.45h-1.45zM93.28 383.66h1.45v1.45h-1.45zM45 382.74h1.45v1.45h-1.45zM78.58 381.61h1.45v1.45h-1.45zM58.92 381.52h1.45v1.45h-1.45zM86.86 383.47h1.45v1.45h-1.45zM47.1 382.95h1.45v1.45h-1.45zM87.45 383.26h1.45v1.45h-1.45zM60.98 382.94h1.45v1.45h-1.45zM92.72 383.4h1.45v1.45h-1.45zM48.76 382.46h1.45v1.45h-1.45zM77.72 383.24h1.45v1.45h-1.45zM56.43 383.26h1.45v1.45h-1.45zM93.99 382.8h1.45v1.45h-1.45zM55.17 383.57h1.45v1.45h-1.45zM88.93 382.29h1.45v1.45h-1.45zM60.2 381.27h1.45v1.45h-1.45zM92.62 383.43h1.45v1.45h-1.45zM59.85 383.32h1.45v1.45h-1.45zM94.17 383.23h1.45v1.45h-1.45zM56.1 382.65h1.45v1.45h-1.45zM76.74 380.21h1.45v1.45h-1.45zM44.71 383.22h1.45v1.45h-1.45zM84.86 383.54h1.45v1.45h-1.45zM54.57 383.41h1.45v1.45h-1.45zM91.01 382.4h1.45v1.45h-1.45zM57.91 381.87h1.45v1.45h-1.45zM78.99 382.75h1.45v1.45h-1.45zM57.77 382.29h1.45v1.45h-1.45zM76.74 383.49h1.45v1.45h-1.45zM56.04 382.4h1.45v1.45h-1.45zM86.03 383.48h1.45v1.45h-1.45zM54.81 383.51h1.45v1.45h-1.45zM84.35 382.61h1.45v1.45h-1.45zM52.92 380.28h1.45v1.45h-1.45zM83.09 381.42h1.45v1.45h-1.45zM62.46 383.26h1.45v1.45h-1.45zM77.59 382.45h1.45v1.45h-1.45zM49.22 382.67h1.45v1.45h-1.45zM80.74 382.57h1.45v1.45h-1.45zM52.34 383.22h1.45v1.45h-1.45zM76.23 382.68h1.45v1.45h-1.45zM57.97 381.81h1.45v1.45h-1.45zM89.9 383h1.45v1.45h-1.45zM52.22 383.17h1.45v1.45h-1.45zM92.78 382.89h1.45v1.45h-1.45zM51.29 382.54h1.45v1.45h-1.45zM84.56 383.01h1.45v1.45h-1.45zM54.23 382.61h1.45v1.45h-1.45zM83.86 383.56h1.45v1.45h-1.45zM49.7 383.42h1.45v1.45h-1.45zM93.39 382.52h1.45v1.45h-1.45zM52.26 383.56h1.45v1.45h-1.45zM91.29 382.19h1.45v1.45h-1.45zM60.3 382.36h1.45v1.45h-1.45zM75.54 381.67h1.45v1.45h-1.45zM61.19 382.96h1.45v1.45h-1.45zM90.14 383.55h1.45v1.45h-1.45zM59.7 383.07h1.45v1.45h-1.45zM87.6 381.23h1.45v1.45h-1.45zM46.33 383.64h1.45v1.45h-1.45zM78.56 383.58h1.45v1.45h-1.45zM55.22 382.49h1.45v1.45h-1.45zM94.37 383.47h1.45v1.45h-1.45zM59.57 382.32h1.45v1.45h-1.45zM84.64 382.03h1.45v1.45h-1.45zM58.94 381.96h1.45v1.45h-1.45zM88.87 381.64h1.45v1.45h-1.45zM52.36 382.35h1.45v1.45h-1.45zM74.43 382h1.45v1.45h-1.45zM51.08 382.56h1.45v1.45h-1.45zM75.37 383.65h1.45v1.45h-1.45zM48.06 383.64h1.45v1.45h-1.45zM76.21 381.77h1.45v1.45h-1.45zM61.81 383.21h1.45v1.45h-1.45zM79.6 381.15h1.45v1.45h-1.45zM54.78 383.5h1.45v1.45h-1.45zM90.86 382.51h1.45v1.45h-1.45zM59.79 383.51h1.45v1.45h-1.45zM85.76 383.03h1.45v1.45h-1.45zM60.89 380.68h1.45v1.45h-1.45zM88.18 382.31h1.45v1.45h-1.45zM61.21 383.55h1.45v1.45h-1.45zM87.07 383.26h1.45v1.45h-1.45zM61 383.38h1.45v1.45h-1.45zM75.42 383.39h1.45v1.45h-1.45zM54.2 382.03h1.45v1.45h-1.45zM85.4 383.53h1.45v1.45h-1.45zM57.62 381.15h1.45v1.45h-1.45zM84.87 381.66h1.45v1.45h-1.45zM60.53 381.32h1.45v1.45h-1.45zM75.09 381.51h1.45v1.45h-1.45zM56.81 381.91h1.45v1.45h-1.45zM89.64 382.58h1.45v1.45h-1.45zM53.35 381.4h1.45v1.45h-1.45zM81.18 380.27h1.45v1.45h-1.45zM57.94 380.23h1.45v1.45h-1.45zM89.1 383.07h1.45v1.45h-1.45zM59.06 382.45h1.45v1.45h-1.45zM93.23 382.08h1.45v1.45h-1.45zM47.5 382.87h1.45v1.45h-1.45zM84.21 383.33h1.45v1.45h-1.45zM55.32 382.54h1.45v1.45h-1.45zM88.17 383.64h1.45v1.45h-1.45zM56.24 383.33h1.45v1.45h-1.45zM88.56 383.2h1.45v1.45h-1.45zM55.1 382.06h1.45v1.45h-1.45zM75.17 381.16h1.45v1.45h-1.45zM61.24 383.13h1.45v1.45h-1.45zM79.3 381.33h1.45v1.45h-1.45zM60.98 383.35h1.45v1.45h-1.45zM91.92 383.25h1.45v1.45h-1.45zM57.36 381.68h1.45v1.45h-1.45zM80.07 382.41h1.45v1.45h-1.45zM59.64 382.37h1.45v1.45h-1.45zM79.46 383.6h1.45v1.45h-1.45zM44.68 383.06h1.45v1.45h-1.45zM79.07 383.61h1.45v1.45h-1.45zM56.85 382.09h1.45v1.45h-1.45zM74.08 382.17h1.45v1.45h-1.45zM53.82 382.53h1.45v1.45h-1.45zM78.18 382.53h1.45v1.45h-1.45zM62.44 381.76h1.45v1.45h-1.45zM75.9 382.23h1.45v1.45h-1.45zM61.77 380.33h1.45v1.45h-1.45zM80.3 381.64h1.45v1.45h-1.45zM51.78 382.6h1.45v1.45h-1.45zM89.46 383.23h1.45v1.45h-1.45zM49.39 383.43h1.45v1.45h-1.45zM82.05 381.99h1.45v1.45h-1.45zM44.46 382.23h1.45v1.45h-1.45zM88.91 383.21h1.45v1.45h-1.45zM61.73 383.34h1.45v1.45h-1.45zM92.36 383.18h1.45v1.45h-1.45zM49.06 383.29h1.45v1.45h-1.45zM76.91 382.59h1.45v1.45h-1.45zM53.27 383.34h1.45v1.45h-1.45zM90.57 383.46h1.45v1.45h-1.45zM51.81 383.46h1.45v1.45h-1.45zM88.07 383.02h1.45v1.45h-1.45zM58.31 380.43h1.45v1.45h-1.45zM76.79 382.1h1.45v1.45h-1.45zM60.61 383.34h1.45v1.45h-1.45zM85.52 382.86h1.45v1.45h-1.45zM51.04 382.99h1.45v1.45h-1.45zM84.1 379.96h1.45v1.45h-1.45zM47.89 383.36h1.45v1.45h-1.45zM84.38 382.62h1.45v1.45h-1.45zM50.43 380.75h1.45v1.45h-1.45zM89.17 382.5h1.45v1.45h-1.45zM61.17 381.77h1.45v1.45h-1.45zM89.02 382.38h1.45v1.45h-1.45zM48.95 383.63h1.45v1.45h-1.45zM84.19 382.17h1.45v1.45h-1.45zM53.74 382.99h1.45v1.45h-1.45zM89.79 383.17h1.45v1.45h-1.45zM50.73 380.83h1.45v1.45h-1.45zM77.08 381.72h1.45v1.45h-1.45zM48.89 381.91h1.45v1.45h-1.45zM85.71 380.18h1.45v1.45h-1.45zM61.42 381.78h1.45v1.45h-1.45zM87.84 383.01h1.45v1.45h-1.45zM50.13 381.86h1.45v1.45h-1.45zM84.65 382.42h1.45v1.45h-1.45zM53.97 381.09h1.45v1.45h-1.45zM92.39 382.37h1.45v1.45h-1.45zM44.58 383.6h1.45v1.45h-1.45zM74.41 382.41h1.45v1.45h-1.45zM47.48 383.64h1.45v1.45h-1.45zM83.28 381.78h1.45v1.45h-1.45zM58.68 383.57h1.45v1.45h-1.45zM78.38 382.74h1.45v1.45h-1.45zM59.93 382.59h1.45v1.45h-1.45zM93.61 382.17h1.45v1.45h-1.45zM47.48 383h1.45v1.45h-1.45zM92.25 383.29h1.45v1.45h-1.45zM58.29 383.47h1.45v1.45h-1.45zM84.03 380.36h1.45v1.45h-1.45zM62.47 382.5h1.45v1.45h-1.45zM83.3 381.9h1.45v1.45h-1.45zM59.95 382.05h1.45v1.45h-1.45zM80.54 383.35h1.45v1.45h-1.45zM62.5 383.15h1.45v1.45h-1.45zM91.27 382.13h1.45v1.45h-1.45zM45.53 383.31h1.45v1.45h-1.45zM92.56 382.58h1.45v1.45h-1.45zM55.7 382.21h1.45v1.45h-1.45zM94.55 383.13h1.45v1.45h-1.45zM55.91 382.31h1.45v1.45h-1.45zM79.7 380.6h1.45v1.45h-1.45zM60.67 383.33h1.45v1.45h-1.45zM79.92 383.55h1.45v1.45h-1.45zM57.96 381.77h1.45v1.45h-1.45zM84.54 381.45h1.45v1.45h-1.45zM55.68 383.59h1.45v1.45h-1.45zM92.2 383.44h1.45v1.45h-1.45zM50.95 383.5h1.45v1.45h-1.45zM93.36 383.06h1.45v1.45h-1.45zM49.32 380.61h1.45v1.45h-1.45zM89.08 382.9h1.45v1.45h-1.45zM48.72 382.9h1.45v1.45h-1.45zM79.93 380.61h1.45v1.45h-1.45zM45.52 382.16h1.45v1.45h-1.45zM83.74 382.05h1.45v1.45h-1.45zM57.07 383.12h1.45v1.45h-1.45zM94.09 382.52h1.45v1.45h-1.45zM50.49 381.9h1.45v1.45h-1.45zM85.49 382.21h1.45v1.45h-1.45zM42.06 382.87h1.45v1.45h-1.45zM41.33 381.35h1.45v1.45h-1.45zM36.13 382.75h1.45v1.45h-1.45zM28.76 381.16h1.45v1.45h-1.45zM36.98 382.92h1.45v1.45h-1.45zM41.61 383.02h1.45v1.45h-1.45zM38.92 383.02h1.45v1.45h-1.45zM40.77 382.67h1.45v1.45h-1.45zM34.82 381.39h1.45v1.45h-1.45zM31.58 382.36h1.45v1.45h-1.45zM37.63 382.13h1.45v1.45h-1.45zM38.29 382.51h1.45v1.45h-1.45zM43.96 382.63h1.45v1.45h-1.45zM27.66 382.94h1.45v1.45h-1.45zM36.01 381.91h1.45v1.45h-1.45zM29.54 382.76h1.45v1.45h-1.45zM40.2 382.69h1.45v1.45h-1.45zM37.88 382.29h1.45v1.45h-1.45zM27.9 381.46h1.45v1.45h-1.45zM29.36 383.16h1.45v1.45h-1.45zM44.49 381.75h1.45v1.45h-1.45zM28.95 382.23h1.45v1.45h-1.45zM34.51 383.2h1.45v1.45h-1.45zM38.03 381.3h1.45v1.45h-1.45zM30.21 381.45h1.45v1.45h-1.45zM27.57 382.69h1.45v1.45h-1.45zM43.11 382.89h1.45v1.45h-1.45zM35.67 381.81h1.45v1.45h-1.45zM28.13 381.72h1.45v1.45h-1.45zM33.42 381.64h1.45v1.45h-1.45zM96.56 382.25h1.45v1.45h-1.45zM93.92 381.85h1.45v1.45h-1.45zM95.14 381.61h1.45v1.45h-1.45zM97.74 382.68h1.45v1.45h-1.45zM94.48 382.77h1.45v1.45h-1.45zM97.68 381.99h1.45v1.45h-1.45zM94.38 383.08h1.45v1.45h-1.45zM96.98 382.19h1.45v1.45h-1.45z" fill="#a3a3a3"/>
<line x1="23.4" y1="384.7" x2="159.6" y2="384.7" stroke="#4d4d4d" stroke-width="1.2"/>
<line x1="24.2" y1="384.7" x2="24.2" y2="387" stroke="#4d4d4d" stroke-width="0.8"/>
<text x="24.2" y="393.96" font-size="6.3" text-anchor="middle">–5</text>
<line x1="69.2" y1="384.7" x2="69.2" y2="387" stroke="#4d4d4d" stroke-width="0.8"/>
<text x="69.2" y="393.96" font-size="6.3" text-anchor="middle">0</text>
<line x1="114.2" y1="384.7" x2="114.2" y2="387" stroke="#4d4d4d" stroke-width="0.8"/>
<text x="114.2" y="393.96" font-size="6.3" text-anchor="middle">5</text>
<line x1="159.2" y1="384.7" x2="159.2" y2="387" stroke="#4d4d4d" stroke-width="0.8"/>
<text x="159.2" y="393.96" font-size="6.3" text-anchor="middle">10</text>
<text x="91.25" y="400.33" font-size="6.5" text-anchor="middle">Log<tspan font-size="70%" dy="1.3">2</tspan><tspan dy="-1.3"> (fold change)</tspan></text>
<line x1="23.9" y1="248.4" x2="23.9" y2="343.2" stroke="#4d4d4d" stroke-width="1.2"/>
<line x1="23.9" y1="353.1" x2="23.9" y2="385.2" stroke="#4d4d4d" stroke-width="1.2"/>
<line x1="21.4" y1="346" x2="27.7" y2="340.3" stroke="#111" stroke-width="1"/>
<line x1="21.4" y1="356.1" x2="27.7" y2="350.4" stroke="#111" stroke-width="1"/>
<line x1="21.7" y1="342.8" x2="23.9" y2="342.8" stroke="#4d4d4d" stroke-width="0.8"/>
<text x="20.6" y="345.06" font-size="6.3" text-anchor="end">10</text>
<line x1="21.7" y1="319.3" x2="23.9" y2="319.3" stroke="#4d4d4d" stroke-width="0.8"/>
<text x="20.6" y="321.56" font-size="6.3" text-anchor="end">60</text>
<line x1="21.7" y1="295.8" x2="23.9" y2="295.8" stroke="#4d4d4d" stroke-width="0.8"/>
<text x="20.6" y="298.06" font-size="6.3" text-anchor="end">110</text>
<line x1="21.7" y1="272.3" x2="23.9" y2="272.3" stroke="#4d4d4d" stroke-width="0.8"/>
<text x="20.6" y="274.56" font-size="6.3" text-anchor="end">160</text>
<line x1="21.7" y1="248.8" x2="23.9" y2="248.8" stroke="#4d4d4d" stroke-width="0.8"/>
<text x="20.6" y="251.06" font-size="6.3" text-anchor="end">210</text>
<line x1="21.7" y1="384.4" x2="23.9" y2="384.4" stroke="#4d4d4d" stroke-width="0.8"/>
<text x="20.6" y="386.66" font-size="6.3" text-anchor="end">0</text>
<line x1="21.7" y1="378.1" x2="23.9" y2="378.1" stroke="#4d4d4d" stroke-width="0.8"/>
<text x="20.6" y="380.36" font-size="6.3" text-anchor="end">2</text>
<line x1="21.7" y1="371.8" x2="23.9" y2="371.8" stroke="#4d4d4d" stroke-width="0.8"/>
<text x="20.6" y="374.06" font-size="6.3" text-anchor="end">4</text>
<line x1="21.7" y1="365.5" x2="23.9" y2="365.5" stroke="#4d4d4d" stroke-width="0.8"/>
<text x="20.6" y="367.76" font-size="6.3" text-anchor="end">6</text>
<line x1="21.7" y1="359.2" x2="23.9" y2="359.2" stroke="#4d4d4d" stroke-width="0.8"/>
<text x="20.6" y="361.46" font-size="6.3" text-anchor="end">8</text>
<line x1="21.7" y1="352.9" x2="23.9" y2="352.9" stroke="#4d4d4d" stroke-width="0.8"/>
<text x="20.6" y="355.16" font-size="6.3" text-anchor="end">10</text>
<text x="35.8" y="248.96" font-size="7.7" >QD × 18 hours</text>
<text x="0" y="2.33" font-size="6.5" text-anchor="middle" transform="translate(4.7 319) rotate(-90)">–Log<tspan font-size="70%" dy="1.3">10</tspan><tspan dy="-1.3"> (FDR)</tspan></text>
<rect x="63.1" y="383.6" width="11.6" height="1.8" fill="#ff5014"/>
<text x="103.2" y="266.69" font-size="5.55" font-style="italic">CDKN1A</text>
<text x="128" y="271.59" font-size="5.55" font-style="italic">TNFRSF10C</text>
<text x="104.5" y="275.59" font-size="5.55" font-style="italic">MDM2</text>
<text x="99" y="284.69" font-size="5.55" font-style="italic">POLH</text>
<text x="106.6" y="290.59" font-size="5.55" font-style="italic">ABCA12</text>
<text x="98" y="295.39" font-size="5.55" text-anchor="end" font-style="italic">GASK1B-AS1</text>
<text x="113.5" y="296.09" font-size="5.55" font-style="italic">MIR34AHG</text>
<text x="108.3" y="300.99" font-size="5.55" font-style="italic">CYFIP2</text>
<text x="43.6" y="335.19" font-size="5.55" text-anchor="end" font-style="italic">E2F1</text>
<path d="M251.34 383.43h1.45v1.45h-1.45zM254.52 379.71h1.45v1.45h-1.45zM253.65 370.43h1.45v1.45h-1.45zM249.8 362.7h1.45v1.45h-1.45zM250.88 373.78h1.45v1.45h-1.45zM250.79 376.01h1.45v1.45h-1.45zM251.52 374.66h1.45v1.45h-1.45zM255.43 375.21h1.45v1.45h-1.45zM234.98 324.41h1.45v1.45h-1.45zM252.57 382.44h1.45v1.45h-1.45zM253.24 381.96h1.45v1.45h-1.45zM252.62 382.71h1.45v1.45h-1.45zM250.18 381.78h1.45v1.45h-1.45zM250.88 373.01h1.45v1.45h-1.45zM250.67 365.04h1.45v1.45h-1.45zM250.7 367h1.45v1.45h-1.45zM252.36 379.44h1.45v1.45h-1.45zM251.69 381.79h1.45v1.45h-1.45zM253.87 380.36h1.45v1.45h-1.45zM250.11 373.89h1.45v1.45h-1.45zM254.34 378.32h1.45v1.45h-1.45zM254.9 383.28h1.45v1.45h-1.45zM242.02 347.03h1.45v1.45h-1.45zM251.16 377.27h1.45v1.45h-1.45zM252.72 383.41h1.45v1.45h-1.45zM250.69 353.22h1.45v1.45h-1.45zM245.68 357.58h1.45v1.45h-1.45zM248.37 364.47h1.45v1.45h-1.45zM254.32 346.91h1.45v1.45h-1.45zM253.76 376.06h1.45v1.45h-1.45zM252.05 378.25h1.45v1.45h-1.45zM251.4 369.35h1.45v1.45h-1.45zM252.82 359.99h1.45v1.45h-1.45zM252.63 376.31h1.45v1.45h-1.45zM251.99 381.73h1.45v1.45h-1.45zM254.67 378.82h1.45v1.45h-1.45zM254.97 379.98h1.45v1.45h-1.45zM251.52 375.15h1.45v1.45h-1.45zM251.93 378.33h1.45v1.45h-1.45zM253.6 382.41h1.45v1.45h-1.45zM248.24 363.83h1.45v1.45h-1.45zM254.11 381.49h1.45v1.45h-1.45zM252.9 380.09h1.45v1.45h-1.45zM252.05 371.38h1.45v1.45h-1.45zM254.37 379.12h1.45v1.45h-1.45zM255.29 382.81h1.45v1.45h-1.45zM253.38 380.31h1.45v1.45h-1.45zM251.36 377.19h1.45v1.45h-1.45zM250.56 363.12h1.45v1.45h-1.45zM251.56 378.92h1.45v1.45h-1.45zM245.24 369.19h1.45v1.45h-1.45zM254.05 381.24h1.45v1.45h-1.45zM252.4 380.96h1.45v1.45h-1.45zM254.63 377h1.45v1.45h-1.45zM254.96 380.45h1.45v1.45h-1.45zM245.07 357.5h1.45v1.45h-1.45zM252.09 380.68h1.45v1.45h-1.45zM252.86 373.15h1.45v1.45h-1.45zM253.89 382.42h1.45v1.45h-1.45zM252.71 380.3h1.45v1.45h-1.45zM246.75 366.94h1.45v1.45h-1.45zM254.25 374.28h1.45v1.45h-1.45zM252.17 379.65h1.45v1.45h-1.45zM253.59 381.68h1.45v1.45h-1.45zM247.06 362.04h1.45v1.45h-1.45zM255.33 382.6h1.45v1.45h-1.45zM249.94 374.43h1.45v1.45h-1.45zM254.48 379.87h1.45v1.45h-1.45zM253.02 383.14h1.45v1.45h-1.45zM254.3 382.37h1.45v1.45h-1.45zM250.3 369.43h1.45v1.45h-1.45zM253.23 356.38h1.45v1.45h-1.45zM255.49 366.78h1.45v1.45h-1.45zM251.18 382.3h1.45v1.45h-1.45zM255.56 380.2h1.45v1.45h-1.45zM252.09 371.4h1.45v1.45h-1.45zM250.2 378.95h1.45v1.45h-1.45zM253.37 370.11h1.45v1.45h-1.45zM253.89 380.64h1.45v1.45h-1.45zM249.41 372.53h1.45v1.45h-1.45zM253.6 381.62h1.45v1.45h-1.45zM250.59 368.7h1.45v1.45h-1.45zM253.07 383.46h1.45v1.45h-1.45zM253.62 381.89h1.45v1.45h-1.45zM254.18 378.42h1.45v1.45h-1.45zM252.72 383.46h1.45v1.45h-1.45zM255.3 381.65h1.45v1.45h-1.45zM244.17 362.9h1.45v1.45h-1.45zM251.75 380.55h1.45v1.45h-1.45zM251.57 377.36h1.45v1.45h-1.45zM252.4 383.91h1.45v1.45h-1.45zM250.34 363.26h1.45v1.45h-1.45zM252.31 383.42h1.45v1.45h-1.45zM248.58 361.79h1.45v1.45h-1.45zM252.63 380.7h1.45v1.45h-1.45zM253.57 382.57h1.45v1.45h-1.45zM245.29 355.66h1.45v1.45h-1.45zM255 368.01h1.45v1.45h-1.45zM254.14 378.17h1.45v1.45h-1.45zM251.95 368.1h1.45v1.45h-1.45zM252.29 382.84h1.45v1.45h-1.45zM236.4 350.29h1.45v1.45h-1.45zM254.28 370.4h1.45v1.45h-1.45zM252.94 368.5h1.45v1.45h-1.45zM249.6 376.99h1.45v1.45h-1.45zM252.95 383.28h1.45v1.45h-1.45zM249.71 375.68h1.45v1.45h-1.45zM253.98 353.66h1.45v1.45h-1.45zM255.19 383.41h1.45v1.45h-1.45zM251.84 369.98h1.45v1.45h-1.45zM250.12 374.84h1.45v1.45h-1.45zM241.28 343.83h1.45v1.45h-1.45zM251.28 380.62h1.45v1.45h-1.45zM252.49 383.22h1.45v1.45h-1.45zM254.42 381.34h1.45v1.45h-1.45zM254.7 379.65h1.45v1.45h-1.45zM254.68 371.17h1.45v1.45h-1.45zM253.1 380.8h1.45v1.45h-1.45zM254.94 377.16h1.45v1.45h-1.45zM245.26 352.35h1.45v1.45h-1.45zM252.01 359.09h1.45v1.45h-1.45zM251.93 382.17h1.45v1.45h-1.45zM248.75 364.5h1.45v1.45h-1.45zM252 374.79h1.45v1.45h-1.45zM249.52 371.3h1.45v1.45h-1.45zM247.32 373.43h1.45v1.45h-1.45zM251.43 363.47h1.45v1.45h-1.45zM252.95 382.53h1.45v1.45h-1.45zM254.61 381.27h1.45v1.45h-1.45zM253.24 383.21h1.45v1.45h-1.45zM253.01 370.02h1.45v1.45h-1.45zM253.78 377.09h1.45v1.45h-1.45zM253.53 376.66h1.45v1.45h-1.45zM252.99 378.74h1.45v1.45h-1.45zM253.99 383.8h1.45v1.45h-1.45zM243.5 328.23h1.45v1.45h-1.45zM249.63 369.41h1.45v1.45h-1.45zM242.41 338.83h1.45v1.45h-1.45zM251.73 376.21h1.45v1.45h-1.45zM253.36 377.38h1.45v1.45h-1.45zM255.13 383.83h1.45v1.45h-1.45zM244.13 354.95h1.45v1.45h-1.45zM242.17 352.46h1.45v1.45h-1.45zM251.34 371.77h1.45v1.45h-1.45zM254.42 382.21h1.45v1.45h-1.45zM253.9 383.6h1.45v1.45h-1.45zM249.34 379.88h1.45v1.45h-1.45zM251.07 381.56h1.45v1.45h-1.45zM240.79 353.88h1.45v1.45h-1.45zM253.82 381.8h1.45v1.45h-1.45zM244.79 368.34h1.45v1.45h-1.45zM254.15 379.38h1.45v1.45h-1.45zM254.42 379.49h1.45v1.45h-1.45zM254.45 378.63h1.45v1.45h-1.45zM249.93 363.46h1.45v1.45h-1.45zM252.54 374.31h1.45v1.45h-1.45zM253.31 372.55h1.45v1.45h-1.45zM242.12 356.84h1.45v1.45h-1.45zM241.22 350.59h1.45v1.45h-1.45zM253.26 381.95h1.45v1.45h-1.45zM252.15 379.83h1.45v1.45h-1.45zM250.54 370.54h1.45v1.45h-1.45zM249.2 381.87h1.45v1.45h-1.45zM254.73 382.85h1.45v1.45h-1.45zM252.61 383.46h1.45v1.45h-1.45zM251.64 369.17h1.45v1.45h-1.45zM254.99 383.89h1.45v1.45h-1.45zM244.55 366.15h1.45v1.45h-1.45zM251.75 377.55h1.45v1.45h-1.45zM255.45 375.62h1.45v1.45h-1.45zM251.21 377.64h1.45v1.45h-1.45zM253.9 371.31h1.45v1.45h-1.45zM251.78 363.82h1.45v1.45h-1.45zM252.2 379.89h1.45v1.45h-1.45zM250.49 377.19h1.45v1.45h-1.45zM252.5 381.43h1.45v1.45h-1.45zM252.63 382.9h1.45v1.45h-1.45zM252.41 343.11h1.45v1.45h-1.45zM252.84 356.41h1.45v1.45h-1.45zM238.94 346.39h1.45v1.45h-1.45zM251.62 383.21h1.45v1.45h-1.45zM249.31 370.95h1.45v1.45h-1.45zM250.45 374.19h1.45v1.45h-1.45zM239.21 348.82h1.45v1.45h-1.45zM253.13 379.84h1.45v1.45h-1.45zM253.02 379.09h1.45v1.45h-1.45zM252.86 381.52h1.45v1.45h-1.45zM250.02 370.87h1.45v1.45h-1.45zM251.7 371.51h1.45v1.45h-1.45zM250.77 378.58h1.45v1.45h-1.45zM250.77 375.25h1.45v1.45h-1.45zM250.84 374.36h1.45v1.45h-1.45zM253.62 381.64h1.45v1.45h-1.45zM246.91 358.55h1.45v1.45h-1.45zM248.84 361.14h1.45v1.45h-1.45zM254.74 380.56h1.45v1.45h-1.45zM254.16 380.59h1.45v1.45h-1.45zM250.61 376.2h1.45v1.45h-1.45zM251.18 374.15h1.45v1.45h-1.45zM251.28 382.55h1.45v1.45h-1.45zM253.21 382.96h1.45v1.45h-1.45zM254.47 377.9h1.45v1.45h-1.45zM251.39 361.03h1.45v1.45h-1.45zM250.98 374.73h1.45v1.45h-1.45zM250.8 382.53h1.45v1.45h-1.45zM243.2 330.2h1.45v1.45h-1.45zM248.13 363.54h1.45v1.45h-1.45zM254.98 378.21h1.45v1.45h-1.45zM255.47 374.41h1.45v1.45h-1.45zM248.61 366.72h1.45v1.45h-1.45zM253.54 383.24h1.45v1.45h-1.45zM254.84 383.75h1.45v1.45h-1.45zM252.18 373.55h1.45v1.45h-1.45zM253.51 369.8h1.45v1.45h-1.45zM254.66 377.54h1.45v1.45h-1.45zM245.51 360.28h1.45v1.45h-1.45zM254.23 374.41h1.45v1.45h-1.45zM253.13 381.81h1.45v1.45h-1.45zM247.49 367.34h1.45v1.45h-1.45zM251.87 370.81h1.45v1.45h-1.45zM251.67 378.56h1.45v1.45h-1.45zM254.89 368.56h1.45v1.45h-1.45zM252.94 383.41h1.45v1.45h-1.45zM251.21 374.77h1.45v1.45h-1.45zM253.57 365.25h1.45v1.45h-1.45zM251.16 371h1.45v1.45h-1.45zM253.75 377.12h1.45v1.45h-1.45zM248.11 362.99h1.45v1.45h-1.45zM253.17 383.68h1.45v1.45h-1.45zM253.61 382.58h1.45v1.45h-1.45zM250.37 374.64h1.45v1.45h-1.45zM252.15 379.99h1.45v1.45h-1.45zM251.81 382.13h1.45v1.45h-1.45zM242.93 359.98h1.45v1.45h-1.45zM248.79 364.94h1.45v1.45h-1.45zM252.37 349.77h1.45v1.45h-1.45zM253.34 382.04h1.45v1.45h-1.45zM255.02 375.92h1.45v1.45h-1.45zM251.67 383.51h1.45v1.45h-1.45zM254.16 381.61h1.45v1.45h-1.45zM249.71 378.19h1.45v1.45h-1.45zM254.58 376.5h1.45v1.45h-1.45zM254.28 378.18h1.45v1.45h-1.45zM251.94 383.02h1.45v1.45h-1.45zM253.57 379.33h1.45v1.45h-1.45zM254.79 373.7h1.45v1.45h-1.45zM252.95 378.78h1.45v1.45h-1.45zM250.29 376.67h1.45v1.45h-1.45zM251.74 378.91h1.45v1.45h-1.45zM252.46 383.86h1.45v1.45h-1.45zM252.91 383.69h1.45v1.45h-1.45zM252.94 376.85h1.45v1.45h-1.45zM253.18 382.11h1.45v1.45h-1.45zM250.91 371.15h1.45v1.45h-1.45zM253.94 375.96h1.45v1.45h-1.45zM250.94 380.43h1.45v1.45h-1.45zM244.08 347.76h1.45v1.45h-1.45zM253.59 328.15h1.45v1.45h-1.45zM251.42 366.98h1.45v1.45h-1.45zM250.18 360.26h1.45v1.45h-1.45zM247.61 372.35h1.45v1.45h-1.45zM251.92 378.74h1.45v1.45h-1.45zM253.68 360.22h1.45v1.45h-1.45zM251.74 379.76h1.45v1.45h-1.45zM250.3 367.36h1.45v1.45h-1.45zM248.18 372.33h1.45v1.45h-1.45zM250.76 378.97h1.45v1.45h-1.45zM252.96 383.21h1.45v1.45h-1.45zM250.14 379.2h1.45v1.45h-1.45zM254.91 376.37h1.45v1.45h-1.45zM242.28 307.27h1.45v1.45h-1.45zM241.68 314.47h1.45v1.45h-1.45zM244.18 318.97h1.45v1.45h-1.45zM238.08 324.97h1.45v1.45h-1.45zM245.47 325.07h1.45v1.45h-1.45zM243.08 326.77h1.45v1.45h-1.45zM242.38 331.07h1.45v1.45h-1.45zM249.47 332.67h1.45v1.45h-1.45zM240.08 342.27h1.45v1.45h-1.45zM240.78 339.27h1.45v1.45h-1.45zM246.28 336.27h1.45v1.45h-1.45zM248.78 338.57h1.45v1.45h-1.45z" fill="#4a96f5"/>
<path d="M252.46 373.88h1.45v1.45h-1.45zM250.21 369.31h1.45v1.45h-1.45zM246.59 348.5h1.45v1.45h-1.45zM245.51 365.17h1.45v1.45h-1.45zM251.62 371.18h1.45v1.45h-1.45zM253.6 376.51h1.45v1.45h-1.45zM251.3 370.94h1.45v1.45h-1.45zM240.51 354.26h1.45v1.45h-1.45zM247.75 369.66h1.45v1.45h-1.45zM244.88 346.49h1.45v1.45h-1.45zM250.54 376.12h1.45v1.45h-1.45zM251.21 360.09h1.45v1.45h-1.45zM246.76 352.35h1.45v1.45h-1.45zM250.19 366.16h1.45v1.45h-1.45zM248.18 363.92h1.45v1.45h-1.45zM245.73 347.38h1.45v1.45h-1.45zM254.58 382.33h1.45v1.45h-1.45zM250.72 376.68h1.45v1.45h-1.45zM255.62 374.54h1.45v1.45h-1.45zM250.89 367.31h1.45v1.45h-1.45zM250.31 348.77h1.45v1.45h-1.45zM249.51 357.39h1.45v1.45h-1.45zM250.36 344.82h1.45v1.45h-1.45zM253.09 359.27h1.45v1.45h-1.45zM248.94 348.32h1.45v1.45h-1.45zM251.31 369.64h1.45v1.45h-1.45zM226.75 382.3h1.45v1.45h-1.45zM238.28 380.54h1.45v1.45h-1.45zM241 381.9h1.45v1.45h-1.45zM267.78 381.48h1.45v1.45h-1.45zM267.29 378.61h1.45v1.45h-1.45zM280.39 382.15h1.45v1.45h-1.45zM278.38 383.42h1.45v1.45h-1.45zM266.96 377.45h1.45v1.45h-1.45zM275.31 381.75h1.45v1.45h-1.45zM266.99 380.11h1.45v1.45h-1.45zM268.21 379.47h1.45v1.45h-1.45zM267.38 373.41h1.45v1.45h-1.45zM272.83 382.82h1.45v1.45h-1.45zM267.48 379.97h1.45v1.45h-1.45zM267.57 379.45h1.45v1.45h-1.45zM267.85 381.49h1.45v1.45h-1.45zM267.65 381.86h1.45v1.45h-1.45zM270.55 375.7h1.45v1.45h-1.45zM269.15 380.04h1.45v1.45h-1.45zM280.4 379.88h1.45v1.45h-1.45zM268.1 383.33h1.45v1.45h-1.45zM278.43 382.14h1.45v1.45h-1.45zM268.51 376.71h1.45v1.45h-1.45zM268.45 374.84h1.45v1.45h-1.45zM267.02 380.15h1.45v1.45h-1.45zM269.63 380.53h1.45v1.45h-1.45zM269.23 372.96h1.45v1.45h-1.45zM273.11 381.39h1.45v1.45h-1.45zM271.04 380.48h1.45v1.45h-1.45zM273.14 383.42h1.45v1.45h-1.45zM278.03 382.05h1.45v1.45h-1.45zM269.55 378.39h1.45v1.45h-1.45zM269.73 383.36h1.45v1.45h-1.45zM269.44 379.06h1.45v1.45h-1.45zM269.65 376.2h1.45v1.45h-1.45zM267.55 380.93h1.45v1.45h-1.45zM280.94 379.18h1.45v1.45h-1.45zM271.91 379.1h1.45v1.45h-1.45zM268.28 376.99h1.45v1.45h-1.45zM267.45 382.56h1.45v1.45h-1.45zM275.1 383.03h1.45v1.45h-1.45zM267.06 381.56h1.45v1.45h-1.45zM268.91 381.21h1.45v1.45h-1.45zM271.1 378.4h1.45v1.45h-1.45zM286.12 376.54h1.45v1.45h-1.45zM274.22 382.7h1.45v1.45h-1.45zM270.65 380.81h1.45v1.45h-1.45zM271.44 381.12h1.45v1.45h-1.45zM274.16 379.38h1.45v1.45h-1.45zM273.54 379.43h1.45v1.45h-1.45zM270.84 380.96h1.45v1.45h-1.45zM272.92 378.7h1.45v1.45h-1.45zM272.16 380.53h1.45v1.45h-1.45zM268.15 380.96h1.45v1.45h-1.45zM268.45 382.97h1.45v1.45h-1.45zM270.26 381.75h1.45v1.45h-1.45zM270.79 379.88h1.45v1.45h-1.45zM268.14 376.19h1.45v1.45h-1.45zM281.01 381.14h1.45v1.45h-1.45zM270.81 380.3h1.45v1.45h-1.45zM275.89 378.27h1.45v1.45h-1.45zM267.81 382.42h1.45v1.45h-1.45zM270.13 381.17h1.45v1.45h-1.45zM275.6 356.87h1.45v1.45h-1.45zM274.24 358.23h1.45v1.45h-1.45zM295.28 361.61h1.45v1.45h-1.45zM283.74 364.99h1.45v1.45h-1.45zM280.35 365.67h1.45v1.45h-1.45zM287.14 372.43h1.45v1.45h-1.45zM285.1 373.78h1.45v1.45h-1.45zM283.07 377.84h1.45v1.45h-1.45zM289.17 381.22h1.45v1.45h-1.45zM278.32 371.08h1.45v1.45h-1.45zM275.6 374.46h1.45v1.45h-1.45zM291.57 331.17h1.45v1.45h-1.45zM293.27 331.47h1.45v1.45h-1.45z" fill="#ff8a1a"/>
<path d="M268.11 383.32h1.45v1.45h-1.45zM270.7 379.87h1.45v1.45h-1.45zM271.51 382.08h1.45v1.45h-1.45zM270.17 376.73h1.45v1.45h-1.45zM269.07 376.48h1.45v1.45h-1.45zM268.5 381.78h1.45v1.45h-1.45zM268.53 380.9h1.45v1.45h-1.45zM272.94 383.87h1.45v1.45h-1.45zM267.31 381.88h1.45v1.45h-1.45zM267.17 378.2h1.45v1.45h-1.45zM269.17 382.75h1.45v1.45h-1.45zM270.99 381.41h1.45v1.45h-1.45zM269.45 381.51h1.45v1.45h-1.45zM268.81 382.61h1.45v1.45h-1.45zM269.86 382.44h1.45v1.45h-1.45zM267.17 382.78h1.45v1.45h-1.45zM271.46 372.26h1.45v1.45h-1.45zM267.37 375.74h1.45v1.45h-1.45zM270.03 380.99h1.45v1.45h-1.45zM269.4 383.88h1.45v1.45h-1.45zM270.66 382.69h1.45v1.45h-1.45zM267.33 376.78h1.45v1.45h-1.45zM267.13 381.51h1.45v1.45h-1.45zM269.45 378.12h1.45v1.45h-1.45zM272.63 382.59h1.45v1.45h-1.45zM268.2 382.81h1.45v1.45h-1.45zM267.55 383.84h1.45v1.45h-1.45zM270.64 382.93h1.45v1.45h-1.45zM266.81 379.85h1.45v1.45h-1.45zM267.85 376.88h1.45v1.45h-1.45zM267.52 380.46h1.45v1.45h-1.45zM267.41 380.52h1.45v1.45h-1.45zM267.5 366.94h1.45v1.45h-1.45zM268.13 379.31h1.45v1.45h-1.45zM268.17 379.01h1.45v1.45h-1.45zM268.11 379.63h1.45v1.45h-1.45zM271.16 374.82h1.45v1.45h-1.45zM268.22 367.76h1.45v1.45h-1.45zM267.45 382.67h1.45v1.45h-1.45zM267.76 381.05h1.45v1.45h-1.45zM268.77 375.41h1.45v1.45h-1.45zM268.28 381.66h1.45v1.45h-1.45zM270.12 374.89h1.45v1.45h-1.45zM268.69 383.25h1.45v1.45h-1.45zM268.5 383.26h1.45v1.45h-1.45zM269.06 377.62h1.45v1.45h-1.45zM266.86 377.06h1.45v1.45h-1.45zM268.1 377.41h1.45v1.45h-1.45zM271.53 351.46h1.45v1.45h-1.45zM272.21 358.23h1.45v1.45h-1.45zM276.28 354.17h1.45v1.45h-1.45zM280.35 356.2h1.45v1.45h-1.45zM287.81 356.2h1.45v1.45h-1.45zM289.85 359.58h1.45v1.45h-1.45zM274.24 361.61h1.45v1.45h-1.45zM270.17 366.34h1.45v1.45h-1.45zM269.5 369.05h1.45v1.45h-1.45zM278.99 376.49h1.45v1.45h-1.45zM281.71 380.54h1.45v1.45h-1.45zM273.57 363.64h1.45v1.45h-1.45zM286.27 257.07h1.45v1.45h-1.45zM279.77 308.97h1.45v1.45h-1.45zM275.88 326.97h1.45v1.45h-1.45zM291.17 327.67h1.45v1.45h-1.45zM272.07 337.67h1.45v1.45h-1.45zM272.47 345.27h1.45v1.45h-1.45zM272.27 350.77h1.45v1.45h-1.45zM279.57 349.77h1.45v1.45h-1.45z" fill="#11c011"/>
<path d="M282.39 356.2h1.45v1.45h-1.45zM280.35 360.93h1.45v1.45h-1.45zM274.92 362.28h1.45v1.45h-1.45zM278.32 372.43h1.45v1.45h-1.45zM295.28 373.1h1.45v1.45h-1.45zM269.5 372.43h1.45v1.45h-1.45zM273.57 381.9h1.45v1.45h-1.45zM278.32 382.57h1.45v1.45h-1.45zM270.85 380.54h1.45v1.45h-1.45zM279.67 382.84h1.45v1.45h-1.45zM285.27 307.88h1.45v1.45h-1.45zM292.57 350.17h1.45v1.45h-1.45zM299.77 350.88h1.45v1.45h-1.45z" fill="#8a0a9a"/>
<path d="M248.4 383.78h1.45v1.45h-1.45zM270.71 383.35h1.45v1.45h-1.45zM253.52 383.76h1.45v1.45h-1.45zM269.28 383.56h1.45v1.45h-1.45zM255.23 382.99h1.45v1.45h-1.45zM265.28 383.65h1.45v1.45h-1.45zM251.66 382.84h1.45v1.45h-1.45zM273.02 383.07h1.45v1.45h-1.45zM252.89 382.86h1.45v1.45h-1.45zM267.32 383.78h1.45v1.45h-1.45zM253.56 382.89h1.45v1.45h-1.45zM269.41 383.16h1.45v1.45h-1.45zM248.62 382.76h1.45v1.45h-1.45zM274.04 382.59h1.45v1.45h-1.45zM248.7 383.6h1.45v1.45h-1.45zM266.75 383.38h1.45v1.45h-1.45zM253.98 383.06h1.45v1.45h-1.45zM266.66 383.23h1.45v1.45h-1.45zM247.86 383.92h1.45v1.45h-1.45zM273.53 382.72h1.45v1.45h-1.45zM253.95 383.83h1.45v1.45h-1.45zM265.29 383.67h1.45v1.45h-1.45zM253.92 383.91h1.45v1.45h-1.45zM264.9 383.75h1.45v1.45h-1.45zM253.51 382.82h1.45v1.45h-1.45zM264.76 383.77h1.45v1.45h-1.45zM251.9 382.92h1.45v1.45h-1.45zM268.88 383.85h1.45v1.45h-1.45zM254.57 383.5h1.45v1.45h-1.45zM266.06 382.91h1.45v1.45h-1.45zM249.78 383.65h1.45v1.45h-1.45zM266.61 382.66h1.45v1.45h-1.45zM255.71 383.54h1.45v1.45h-1.45zM269.45 383.09h1.45v1.45h-1.45zM254.68 383.54h1.45v1.45h-1.45zM271.47 383.75h1.45v1.45h-1.45zM251.41 382.96h1.45v1.45h-1.45zM265.37 383.67h1.45v1.45h-1.45zM252.92 383.66h1.45v1.45h-1.45zM265.27 383.75h1.45v1.45h-1.45zM253.56 383.78h1.45v1.45h-1.45zM272.96 383.4h1.45v1.45h-1.45zM256.33 383.84h1.45v1.45h-1.45zM269.27 383.81h1.45v1.45h-1.45zM254.16 382.93h1.45v1.45h-1.45zM272.65 383.23h1.45v1.45h-1.45zM255.05 383.24h1.45v1.45h-1.45zM270.4 382.29h1.45v1.45h-1.45zM251.95 383.34h1.45v1.45h-1.45zM269.64 382.78h1.45v1.45h-1.45zM250.26 383.76h1.45v1.45h-1.45zM272.97 383.16h1.45v1.45h-1.45zM250.29 383.25h1.45v1.45h-1.45zM271.88 382.6h1.45v1.45h-1.45zM248.89 383.88h1.45v1.45h-1.45zM269.45 383.43h1.45v1.45h-1.45zM251.86 383.46h1.45v1.45h-1.45zM264.94 383.9h1.45v1.45h-1.45zM254.53 382.92h1.45v1.45h-1.45zM265.72 383.05h1.45v1.45h-1.45zM249.37 382.47h1.45v1.45h-1.45zM265.66 383.64h1.45v1.45h-1.45zM254.77 382.4h1.45v1.45h-1.45zM270.44 383.5h1.45v1.45h-1.45zM251.93 383.64h1.45v1.45h-1.45zM265.72 383.81h1.45v1.45h-1.45zM250.24 382.54h1.45v1.45h-1.45zM265.91 383.4h1.45v1.45h-1.45zM252.12 383.1h1.45v1.45h-1.45zM265.91 383.29h1.45v1.45h-1.45zM255.28 383.52h1.45v1.45h-1.45zM272.93 382.84h1.45v1.45h-1.45zM251.49 383.69h1.45v1.45h-1.45zM266.31 383.76h1.45v1.45h-1.45zM248.33 383.26h1.45v1.45h-1.45zM268.74 383.78h1.45v1.45h-1.45zM251.9 383.27h1.45v1.45h-1.45zM273.69 383.72h1.45v1.45h-1.45zM253.53 383.03h1.45v1.45h-1.45zM267.93 383.33h1.45v1.45h-1.45zM247.95 383.74h1.45v1.45h-1.45zM273.42 383.75h1.45v1.45h-1.45zM249.11 382.57h1.45v1.45h-1.45zM269.66 383.89h1.45v1.45h-1.45zM248.35 383.04h1.45v1.45h-1.45zM268.76 383.57h1.45v1.45h-1.45zM253.3 383.45h1.45v1.45h-1.45zM265.4 383.32h1.45v1.45h-1.45zM252.08 382.42h1.45v1.45h-1.45zM266.07 383.9h1.45v1.45h-1.45zM249.72 383.87h1.45v1.45h-1.45zM270.76 383.75h1.45v1.45h-1.45zM248.79 383.82h1.45v1.45h-1.45zM265.07 383.58h1.45v1.45h-1.45zM254.16 383.61h1.45v1.45h-1.45zM267.34 383.46h1.45v1.45h-1.45zM248.44 383.55h1.45v1.45h-1.45zM267.13 383.44h1.45v1.45h-1.45zM252.7 383.88h1.45v1.45h-1.45zM267.48 383.14h1.45v1.45h-1.45zM250.84 382.78h1.45v1.45h-1.45zM270.39 383.89h1.45v1.45h-1.45zM252.01 383.08h1.45v1.45h-1.45zM269.18 383.45h1.45v1.45h-1.45zM255.18 382.79h1.45v1.45h-1.45zM265.99 383.12h1.45v1.45h-1.45zM252.94 383.11h1.45v1.45h-1.45zM267.06 382.69h1.45v1.45h-1.45zM251.72 383.78h1.45v1.45h-1.45zM270.54 383.49h1.45v1.45h-1.45zM250.82 382.96h1.45v1.45h-1.45zM271.49 383.36h1.45v1.45h-1.45zM251.71 383.54h1.45v1.45h-1.45zM269.2 383.15h1.45v1.45h-1.45zM254.36 382.99h1.45v1.45h-1.45zM269.61 383.26h1.45v1.45h-1.45zM251.38 382.36h1.45v1.45h-1.45zM268.1 383.8h1.45v1.45h-1.45zM254.4 383.48h1.45v1.45h-1.45zM269.41 383.11h1.45v1.45h-1.45zM247.89 383.12h1.45v1.45h-1.45zM272.08 382.87h1.45v1.45h-1.45zM255.89 383.81h1.45v1.45h-1.45zM268.93 382.6h1.45v1.45h-1.45zM253.1 383.33h1.45v1.45h-1.45zM271.73 382.75h1.45v1.45h-1.45zM254.51 383.89h1.45v1.45h-1.45zM271.76 382.86h1.45v1.45h-1.45zM253.54 383.21h1.45v1.45h-1.45zM271.16 383.55h1.45v1.45h-1.45zM249.09 383.76h1.45v1.45h-1.45zM269.66 383.68h1.45v1.45h-1.45zM250.01 383.7h1.45v1.45h-1.45zM269.26 383.72h1.45v1.45h-1.45zM250.31 383.85h1.45v1.45h-1.45zM265.95 383.81h1.45v1.45h-1.45zM256.43 383.71h1.45v1.45h-1.45zM270.31 383.41h1.45v1.45h-1.45zM248.11 383.5h1.45v1.45h-1.45zM268.72 383.72h1.45v1.45h-1.45zM248.89 383.54h1.45v1.45h-1.45zM268.35 383.35h1.45v1.45h-1.45zM252.49 383.66h1.45v1.45h-1.45zM267.53 383.27h1.45v1.45h-1.45zM251.65 383.26h1.45v1.45h-1.45zM267.8 383.73h1.45v1.45h-1.45zM249.09 383.41h1.45v1.45h-1.45zM268.96 382.92h1.45v1.45h-1.45zM253.83 382.84h1.45v1.45h-1.45zM270.21 383.51h1.45v1.45h-1.45zM255.7 383.85h1.45v1.45h-1.45zM267.82 383.78h1.45v1.45h-1.45zM249.19 383.89h1.45v1.45h-1.45zM266.69 383.31h1.45v1.45h-1.45zM248.56 382.35h1.45v1.45h-1.45zM265.2 383.49h1.45v1.45h-1.45zM252.15 383.85h1.45v1.45h-1.45zM272.09 383.46h1.45v1.45h-1.45zM247.8 383.43h1.45v1.45h-1.45zM269.66 383.62h1.45v1.45h-1.45zM240.65 383.27h1.45v1.45h-1.45zM236.89 383.27h1.45v1.45h-1.45zM230.42 382.92h1.45v1.45h-1.45zM238.16 383.55h1.45v1.45h-1.45zM240.92 383.22h1.45v1.45h-1.45zM237.5 383.03h1.45v1.45h-1.45zM231.67 382.61h1.45v1.45h-1.45zM238.87 383.18h1.45v1.45h-1.45zM236.34 382.58h1.45v1.45h-1.45zM241.49 383.08h1.45v1.45h-1.45zM232.84 383.47h1.45v1.45h-1.45zM241.96 382.6h1.45v1.45h-1.45zM232.65 383.1h1.45v1.45h-1.45zM245.76 382.69h1.45v1.45h-1.45zM235.15 382.77h1.45v1.45h-1.45zM229.64 382.69h1.45v1.45h-1.45zM240.07 383.49h1.45v1.45h-1.45zM242.47 383.1h1.45v1.45h-1.45zM238.53 383.45h1.45v1.45h-1.45zM244.44 382.97h1.45v1.45h-1.45zM236.73 383.27h1.45v1.45h-1.45zM229.58 382.97h1.45v1.45h-1.45z" fill="#a3a3a3"/>
<line x1="192.9" y1="384.95" x2="329.6" y2="384.95" stroke="#4d4d4d" stroke-width="1.2"/>
<line x1="193.55" y1="384.95" x2="193.55" y2="387.25" stroke="#4d4d4d" stroke-width="0.8"/>
<text x="193.55" y="394.21" font-size="6.3" text-anchor="middle">–10</text>
<line x1="227.47" y1="384.95" x2="227.47" y2="387.25" stroke="#4d4d4d" stroke-width="0.8"/>
<text x="227.47" y="394.21" font-size="6.3" text-anchor="middle">–5</text>
<line x1="261.4" y1="384.95" x2="261.4" y2="387.25" stroke="#4d4d4d" stroke-width="0.8"/>
<text x="261.4" y="394.21" font-size="6.3" text-anchor="middle">0</text>
<line x1="295.32" y1="384.95" x2="295.32" y2="387.25" stroke="#4d4d4d" stroke-width="0.8"/>
<text x="295.32" y="394.21" font-size="6.3" text-anchor="middle">5</text>
<line x1="329.25" y1="384.95" x2="329.25" y2="387.25" stroke="#4d4d4d" stroke-width="0.8"/>
<text x="329.25" y="394.21" font-size="6.3" text-anchor="middle">10</text>
<text x="261" y="400.58" font-size="6.5" text-anchor="middle">Log<tspan font-size="70%" dy="1.3">2</tspan><tspan dy="-1.3"> (fold change)</tspan></text>
<line x1="193.4" y1="249" x2="193.4" y2="385.45" stroke="#4d4d4d" stroke-width="1.2"/>
<line x1="191.2" y1="384.65" x2="193.4" y2="384.65" stroke="#4d4d4d" stroke-width="0.8"/>
<text x="190.1" y="386.91" font-size="6.3" text-anchor="end">0</text>
<line x1="191.2" y1="357.6" x2="193.4" y2="357.6" stroke="#4d4d4d" stroke-width="0.8"/>
<text x="190.1" y="359.86" font-size="6.3" text-anchor="end">20</text>
<line x1="191.2" y1="330.55" x2="193.4" y2="330.55" stroke="#4d4d4d" stroke-width="0.8"/>
<text x="190.1" y="332.81" font-size="6.3" text-anchor="end">40</text>
<line x1="191.2" y1="303.5" x2="193.4" y2="303.5" stroke="#4d4d4d" stroke-width="0.8"/>
<text x="190.1" y="305.76" font-size="6.3" text-anchor="end">60</text>
<line x1="191.2" y1="276.45" x2="193.4" y2="276.45" stroke="#4d4d4d" stroke-width="0.8"/>
<text x="190.1" y="278.71" font-size="6.3" text-anchor="end">80</text>
<line x1="191.2" y1="249.4" x2="193.4" y2="249.4" stroke="#4d4d4d" stroke-width="0.8"/>
<text x="190.1" y="251.66" font-size="6.3" text-anchor="end">100</text>
<text x="203" y="248.96" font-size="7.7" >QD × 1 16 hours</text>
<text x="0" y="2.33" font-size="6.5" text-anchor="middle" transform="translate(169.4 319) rotate(-90)">–Log<tspan font-size="70%" dy="1.3">10</tspan><tspan dy="-1.3"> (FDR)</tspan></text>
<text x="290.5" y="259.99" font-size="5.55" >CYFIP2</text>
<text x="238.9" y="305.49" font-size="5.55" font-style="italic">MYBL2</text>
<text x="228.2" y="316.89" font-size="5.55" font-style="italic">H1-5</text>
<text x="262.1" y="307.89" font-size="5.55" font-style="italic">ABCA12</text>
<text x="289.1" y="310.99" font-size="5.55" font-style="italic">MIR34AHG</text>
<text x="264.9" y="325.19" font-size="5.55" font-style="italic">RPS27L</text>
<text x="286.7" y="325.19" font-size="5.55" font-style="italic">TNFRSF10C</text>
<text x="295.7" y="332.09" font-size="5.55" font-style="italic">PTCHD4</text>
<text x="296" y="336.79" font-size="5.55" font-style="italic">MUC19</text>
<text x="263.8" y="336.29" font-size="5.55" font-style="italic">DDB2</text>
<text x="255.9" y="344.19" font-size="5.55" font-style="italic">CDKN1A</text>
<text x="287" y="347.69" font-size="5.55" font-style="italic">TRINGS</text>
<text x="303.3" y="353.89" font-size="5.55" font-style="italic">AC073114.1</text>
<path d="M401.26 329.33h1.45v1.45h-1.45zM409.01 314.34h1.45v1.45h-1.45zM414.55 337.57h1.45v1.45h-1.45zM410.69 324.41h1.45v1.45h-1.45zM412.29 341.39h1.45v1.45h-1.45zM417.73 341.59h1.45v1.45h-1.45zM415.1 335.89h1.45v1.45h-1.45zM405.32 327.8h1.45v1.45h-1.45zM408.86 340.61h1.45v1.45h-1.45zM401.68 319.27h1.45v1.45h-1.45zM402.19 328.96h1.45v1.45h-1.45zM406.86 338.54h1.45v1.45h-1.45zM405.1 311.72h1.45v1.45h-1.45zM402.38 312.25h1.45v1.45h-1.45zM411.25 338.88h1.45v1.45h-1.45zM403.54 336.5h1.45v1.45h-1.45zM414.14 341.09h1.45v1.45h-1.45zM411.52 319.61h1.45v1.45h-1.45zM408.09 321.28h1.45v1.45h-1.45zM409.86 308.73h1.45v1.45h-1.45zM416.9 340.6h1.45v1.45h-1.45zM414.17 338.6h1.45v1.45h-1.45zM405.19 327.84h1.45v1.45h-1.45zM399.74 339.57h1.45v1.45h-1.45zM403.93 320.94h1.45v1.45h-1.45zM404.16 314.05h1.45v1.45h-1.45zM415.52 330.25h1.45v1.45h-1.45zM402.61 296.53h1.45v1.45h-1.45zM412.53 340.34h1.45v1.45h-1.45zM410.93 332.27h1.45v1.45h-1.45zM409.27 314.24h1.45v1.45h-1.45zM403.66 327.42h1.45v1.45h-1.45zM411.85 339.2h1.45v1.45h-1.45zM411.4 316.33h1.45v1.45h-1.45zM401.84 324.28h1.45v1.45h-1.45zM411.32 339.07h1.45v1.45h-1.45zM404.35 333.9h1.45v1.45h-1.45zM404.89 338.66h1.45v1.45h-1.45zM408.07 331.5h1.45v1.45h-1.45zM409.57 298.55h1.45v1.45h-1.45zM412.71 332.86h1.45v1.45h-1.45zM407.37 296.55h1.45v1.45h-1.45zM410.87 311.05h1.45v1.45h-1.45zM401.91 332.68h1.45v1.45h-1.45zM401.65 302.04h1.45v1.45h-1.45zM399.84 321.83h1.45v1.45h-1.45zM413.35 333.89h1.45v1.45h-1.45zM401.69 339.69h1.45v1.45h-1.45zM409.88 334.71h1.45v1.45h-1.45zM404.02 316.82h1.45v1.45h-1.45zM411.48 325.05h1.45v1.45h-1.45zM408.41 301.78h1.45v1.45h-1.45zM411.24 319.32h1.45v1.45h-1.45zM415.1 331.04h1.45v1.45h-1.45zM411.05 309.43h1.45v1.45h-1.45zM405.02 311.29h1.45v1.45h-1.45zM405.06 291.8h1.45v1.45h-1.45zM405.55 337.79h1.45v1.45h-1.45zM411.92 326.21h1.45v1.45h-1.45zM402.08 337.31h1.45v1.45h-1.45zM408.57 311.13h1.45v1.45h-1.45zM410.05 331.44h1.45v1.45h-1.45zM403.77 315.76h1.45v1.45h-1.45zM404.53 324.33h1.45v1.45h-1.45zM401.05 318.39h1.45v1.45h-1.45zM412.52 338.8h1.45v1.45h-1.45zM413.69 331.76h1.45v1.45h-1.45zM402.68 340.01h1.45v1.45h-1.45zM406.85 329.4h1.45v1.45h-1.45zM409.43 329.7h1.45v1.45h-1.45zM412.27 340.25h1.45v1.45h-1.45zM407.16 331.28h1.45v1.45h-1.45zM409.98 304.16h1.45v1.45h-1.45zM406.71 294.19h1.45v1.45h-1.45zM413.1 321.26h1.45v1.45h-1.45zM407.33 305.85h1.45v1.45h-1.45zM407.37 287.26h1.45v1.45h-1.45zM404.9 298.89h1.45v1.45h-1.45zM405.25 299.32h1.45v1.45h-1.45zM412.32 332.48h1.45v1.45h-1.45zM405.08 332.46h1.45v1.45h-1.45zM401.01 334.09h1.45v1.45h-1.45zM407.79 286.53h1.45v1.45h-1.45zM411.05 330.99h1.45v1.45h-1.45zM405.24 315.37h1.45v1.45h-1.45zM400.62 339.44h1.45v1.45h-1.45zM410.54 333.27h1.45v1.45h-1.45zM408.07 318.69h1.45v1.45h-1.45zM401.28 316.58h1.45v1.45h-1.45zM405.26 325.58h1.45v1.45h-1.45zM403.49 332.21h1.45v1.45h-1.45zM412.48 341.59h1.45v1.45h-1.45zM405.11 311.63h1.45v1.45h-1.45zM408.76 331.8h1.45v1.45h-1.45zM410.79 312.17h1.45v1.45h-1.45zM412.52 335.96h1.45v1.45h-1.45zM400.78 340.05h1.45v1.45h-1.45zM412.84 325.09h1.45v1.45h-1.45zM400.79 339.64h1.45v1.45h-1.45zM408.47 317.06h1.45v1.45h-1.45zM411.8 337.14h1.45v1.45h-1.45zM404.47 287.85h1.45v1.45h-1.45zM405.8 304.26h1.45v1.45h-1.45zM410.22 315.71h1.45v1.45h-1.45zM412.08 327.05h1.45v1.45h-1.45zM400.68 341.04h1.45v1.45h-1.45zM403.41 341.02h1.45v1.45h-1.45zM409.11 333.78h1.45v1.45h-1.45zM403.4 328.65h1.45v1.45h-1.45zM404.2 305.43h1.45v1.45h-1.45zM413.08 336.72h1.45v1.45h-1.45zM411.83 326.51h1.45v1.45h-1.45zM403.52 328.91h1.45v1.45h-1.45zM404.25 324.96h1.45v1.45h-1.45zM410.82 338.84h1.45v1.45h-1.45zM403.39 334.6h1.45v1.45h-1.45zM405.29 323.03h1.45v1.45h-1.45zM406.65 285.64h1.45v1.45h-1.45zM398.99 334.97h1.45v1.45h-1.45zM410.44 339.31h1.45v1.45h-1.45zM400.9 320.38h1.45v1.45h-1.45zM405.69 324.95h1.45v1.45h-1.45zM415.59 331.92h1.45v1.45h-1.45zM399.96 335.75h1.45v1.45h-1.45zM405.74 323.34h1.45v1.45h-1.45zM408.28 333.32h1.45v1.45h-1.45zM402.39 311.37h1.45v1.45h-1.45zM415.03 331.68h1.45v1.45h-1.45zM401.86 336.6h1.45v1.45h-1.45zM403.75 314.47h1.45v1.45h-1.45zM407.98 324.28h1.45v1.45h-1.45zM410.97 331.33h1.45v1.45h-1.45zM412.55 334.31h1.45v1.45h-1.45zM415.16 340.55h1.45v1.45h-1.45zM404.91 317.98h1.45v1.45h-1.45zM413.98 321.35h1.45v1.45h-1.45zM400.67 332.13h1.45v1.45h-1.45zM409.04 334.01h1.45v1.45h-1.45zM412.47 319.78h1.45v1.45h-1.45zM403.07 294.25h1.45v1.45h-1.45zM409.63 320.86h1.45v1.45h-1.45zM406.51 310.03h1.45v1.45h-1.45zM406.39 319.94h1.45v1.45h-1.45zM403.76 339.43h1.45v1.45h-1.45zM406.85 333.64h1.45v1.45h-1.45zM408.52 330.85h1.45v1.45h-1.45zM406.67 303.06h1.45v1.45h-1.45zM403.19 334.48h1.45v1.45h-1.45zM411.98 332.89h1.45v1.45h-1.45zM404.97 328.55h1.45v1.45h-1.45zM401.71 327.42h1.45v1.45h-1.45zM403.82 327.99h1.45v1.45h-1.45zM407.06 335.23h1.45v1.45h-1.45zM410.24 334.8h1.45v1.45h-1.45zM406.51 321.71h1.45v1.45h-1.45zM402.86 340.5h1.45v1.45h-1.45zM409.15 311.03h1.45v1.45h-1.45zM409.45 316.58h1.45v1.45h-1.45zM412.03 318.29h1.45v1.45h-1.45zM404.69 337.87h1.45v1.45h-1.45zM403.35 300.1h1.45v1.45h-1.45zM408.21 339.29h1.45v1.45h-1.45zM408.97 341.47h1.45v1.45h-1.45zM411.45 323.28h1.45v1.45h-1.45zM408.55 305.37h1.45v1.45h-1.45zM411.19 324.38h1.45v1.45h-1.45zM412.51 331.56h1.45v1.45h-1.45zM416.41 336.51h1.45v1.45h-1.45zM404.59 310.44h1.45v1.45h-1.45zM403.93 340.62h1.45v1.45h-1.45zM409.05 307h1.45v1.45h-1.45zM413.75 330.77h1.45v1.45h-1.45zM404.39 331.03h1.45v1.45h-1.45zM410.04 338.19h1.45v1.45h-1.45zM404.3 337.26h1.45v1.45h-1.45zM400.49 340.02h1.45v1.45h-1.45zM408.72 334.2h1.45v1.45h-1.45zM410.94 338.36h1.45v1.45h-1.45zM415.03 336.7h1.45v1.45h-1.45zM409.23 320.14h1.45v1.45h-1.45zM413.36 338.11h1.45v1.45h-1.45zM409.31 338.93h1.45v1.45h-1.45zM400.78 326.65h1.45v1.45h-1.45zM408.32 334.74h1.45v1.45h-1.45zM400.59 325.76h1.45v1.45h-1.45zM405.83 330.5h1.45v1.45h-1.45zM403.23 306.56h1.45v1.45h-1.45zM404.18 300.18h1.45v1.45h-1.45zM405.2 304.42h1.45v1.45h-1.45zM414.92 340.27h1.45v1.45h-1.45zM413.82 335.54h1.45v1.45h-1.45zM415.89 335.48h1.45v1.45h-1.45zM413.2 326.59h1.45v1.45h-1.45zM414.23 329.96h1.45v1.45h-1.45zM414.14 335.48h1.45v1.45h-1.45zM403.36 332.2h1.45v1.45h-1.45zM415.45 341.17h1.45v1.45h-1.45zM408.22 316.93h1.45v1.45h-1.45zM404.17 294.58h1.45v1.45h-1.45zM401.16 310.24h1.45v1.45h-1.45zM407.03 332.79h1.45v1.45h-1.45zM411.18 339.16h1.45v1.45h-1.45zM413.61 330.9h1.45v1.45h-1.45zM411.86 331.7h1.45v1.45h-1.45zM401.12 332.45h1.45v1.45h-1.45zM407.85 329.57h1.45v1.45h-1.45zM397.65 341.36h1.45v1.45h-1.45zM409.94 337.07h1.45v1.45h-1.45zM405.02 332.95h1.45v1.45h-1.45zM415.2 338.55h1.45v1.45h-1.45zM405.96 303.3h1.45v1.45h-1.45zM411.12 339.98h1.45v1.45h-1.45zM415.51 332.95h1.45v1.45h-1.45zM401.92 341.52h1.45v1.45h-1.45zM399.17 337.27h1.45v1.45h-1.45zM405.84 332.32h1.45v1.45h-1.45zM401.74 314.19h1.45v1.45h-1.45zM407.56 330.06h1.45v1.45h-1.45zM403.73 340.11h1.45v1.45h-1.45zM408.12 306.89h1.45v1.45h-1.45zM401.91 317.2h1.45v1.45h-1.45zM405.34 341.26h1.45v1.45h-1.45zM409.6 339.1h1.45v1.45h-1.45zM415.31 339.37h1.45v1.45h-1.45zM405.97 328.61h1.45v1.45h-1.45zM404.39 332.6h1.45v1.45h-1.45zM411.61 332.29h1.45v1.45h-1.45zM410.71 337.41h1.45v1.45h-1.45zM405.54 327.92h1.45v1.45h-1.45zM410.57 341.03h1.45v1.45h-1.45zM406.22 318.41h1.45v1.45h-1.45zM402.7 318.04h1.45v1.45h-1.45zM407.62 341.38h1.45v1.45h-1.45zM402.4 338.91h1.45v1.45h-1.45zM398.54 339.69h1.45v1.45h-1.45zM408.64 335.56h1.45v1.45h-1.45zM402.87 325.13h1.45v1.45h-1.45zM410.87 311.34h1.45v1.45h-1.45zM411.19 328.51h1.45v1.45h-1.45zM402.38 335.67h1.45v1.45h-1.45zM414.14 322.08h1.45v1.45h-1.45zM409.86 338.05h1.45v1.45h-1.45zM407.55 318.19h1.45v1.45h-1.45zM404.5 321.99h1.45v1.45h-1.45zM407.94 332.86h1.45v1.45h-1.45zM403.23 325.85h1.45v1.45h-1.45zM405.99 329.91h1.45v1.45h-1.45zM400.14 334.64h1.45v1.45h-1.45zM402.15 320.88h1.45v1.45h-1.45zM398.76 333.97h1.45v1.45h-1.45zM406.92 306.31h1.45v1.45h-1.45zM416 332.24h1.45v1.45h-1.45zM399.76 336.8h1.45v1.45h-1.45zM406.63 336.37h1.45v1.45h-1.45zM409.57 300.78h1.45v1.45h-1.45zM407.99 310.53h1.45v1.45h-1.45zM401.96 332.11h1.45v1.45h-1.45zM403.53 323.09h1.45v1.45h-1.45zM398.83 334.26h1.45v1.45h-1.45zM404.93 322.19h1.45v1.45h-1.45zM414.94 330.04h1.45v1.45h-1.45zM408.76 310.59h1.45v1.45h-1.45zM415.16 334.03h1.45v1.45h-1.45zM403.4 322.92h1.45v1.45h-1.45zM407.56 329.37h1.45v1.45h-1.45zM409.52 313.26h1.45v1.45h-1.45zM411.83 332.24h1.45v1.45h-1.45zM403.3 337.42h1.45v1.45h-1.45zM412.05 307.61h1.45v1.45h-1.45zM408.72 335.98h1.45v1.45h-1.45zM402.71 328.96h1.45v1.45h-1.45zM398.52 324.55h1.45v1.45h-1.45zM399.81 314.99h1.45v1.45h-1.45zM408.9 294.22h1.45v1.45h-1.45zM402.97 332.73h1.45v1.45h-1.45zM401.88 271.97h1.45v1.45h-1.45zM403.67 271.97h1.45v1.45h-1.45zM402.38 278.07h1.45v1.45h-1.45zM400.57 284.47h1.45v1.45h-1.45zM401.77 285.77h1.45v1.45h-1.45zM406.07 285.27h1.45v1.45h-1.45zM400.88 287.27h1.45v1.45h-1.45zM402.97 288.27h1.45v1.45h-1.45zM399.27 291.77h1.45v1.45h-1.45zM407.77 294.27h1.45v1.45h-1.45zM404.77 296.77h1.45v1.45h-1.45zM406.77 297.77h1.45v1.45h-1.45zM396.77 307.77h1.45v1.45h-1.45zM411.16 376.73h1.45v1.45h-1.45zM416.59 379.67h1.45v1.45h-1.45zM418.41 376.7h1.45v1.45h-1.45zM411.91 376.94h1.45v1.45h-1.45zM417.23 379.13h1.45v1.45h-1.45zM417.08 379.33h1.45v1.45h-1.45zM420.12 377.84h1.45v1.45h-1.45zM418.41 377.66h1.45v1.45h-1.45zM417.12 376.15h1.45v1.45h-1.45zM417.12 377.74h1.45v1.45h-1.45zM416.06 377h1.45v1.45h-1.45zM418.75 376.9h1.45v1.45h-1.45zM415.45 376.25h1.45v1.45h-1.45zM416.68 378.02h1.45v1.45h-1.45zM416.46 379.8h1.45v1.45h-1.45zM419.64 377.85h1.45v1.45h-1.45zM418.14 379.09h1.45v1.45h-1.45zM420.61 379.73h1.45v1.45h-1.45zM419.91 375.88h1.45v1.45h-1.45zM416.74 376.72h1.45v1.45h-1.45zM417.64 377.24h1.45v1.45h-1.45zM418.96 379.79h1.45v1.45h-1.45z" fill="#4a96f5"/>
<path d="M413.7 329.32h1.45v1.45h-1.45zM413.65 330.07h1.45v1.45h-1.45zM414.54 330.05h1.45v1.45h-1.45zM406.92 302.74h1.45v1.45h-1.45zM411.48 329.62h1.45v1.45h-1.45zM411.32 340.94h1.45v1.45h-1.45zM410.21 327.19h1.45v1.45h-1.45zM411.17 329.01h1.45v1.45h-1.45zM403.11 340.41h1.45v1.45h-1.45zM412 321.3h1.45v1.45h-1.45zM409.33 306.19h1.45v1.45h-1.45zM408.07 302.98h1.45v1.45h-1.45zM406.07 336.73h1.45v1.45h-1.45zM405.76 323.71h1.45v1.45h-1.45zM409.56 334.14h1.45v1.45h-1.45zM407 331.26h1.45v1.45h-1.45zM414.21 330.69h1.45v1.45h-1.45zM415.02 336.17h1.45v1.45h-1.45zM408.31 318.07h1.45v1.45h-1.45zM406.98 323.88h1.45v1.45h-1.45zM405.27 336.81h1.45v1.45h-1.45zM412.03 329.81h1.45v1.45h-1.45zM403.19 340.14h1.45v1.45h-1.45zM408.17 319.15h1.45v1.45h-1.45zM405.11 340.16h1.45v1.45h-1.45zM408.13 337.78h1.45v1.45h-1.45zM413.72 329.47h1.45v1.45h-1.45zM406.26 306.63h1.45v1.45h-1.45zM404.9 313.26h1.45v1.45h-1.45zM410.24 320.59h1.45v1.45h-1.45zM404.65 330.49h1.45v1.45h-1.45zM409.48 336.76h1.45v1.45h-1.45zM410.34 312.49h1.45v1.45h-1.45zM405.8 337.26h1.45v1.45h-1.45zM401.07 374.05h1.45v1.45h-1.45zM419.25 381.52h1.45v1.45h-1.45zM409.64 357.16h1.45v1.45h-1.45zM416.68 381.08h1.45v1.45h-1.45zM411.78 364.6h1.45v1.45h-1.45zM417.17 374.41h1.45v1.45h-1.45zM418.31 381.15h1.45v1.45h-1.45zM412.01 378.61h1.45v1.45h-1.45zM409.84 362.16h1.45v1.45h-1.45zM417.11 367.4h1.45v1.45h-1.45zM418.13 370.18h1.45v1.45h-1.45zM418.11 378.19h1.45v1.45h-1.45zM418.63 378.13h1.45v1.45h-1.45zM417.42 379.67h1.45v1.45h-1.45zM419.05 381.25h1.45v1.45h-1.45zM409.31 377.29h1.45v1.45h-1.45zM418.37 381.38h1.45v1.45h-1.45zM417.69 368.47h1.45v1.45h-1.45zM412.66 370.92h1.45v1.45h-1.45zM402.76 367.88h1.45v1.45h-1.45zM413.83 376.52h1.45v1.45h-1.45zM414.74 376.08h1.45v1.45h-1.45zM415.59 381.89h1.45v1.45h-1.45zM404.83 363.26h1.45v1.45h-1.45zM412.7 354.62h1.45v1.45h-1.45zM412.26 373.85h1.45v1.45h-1.45zM417.06 372.89h1.45v1.45h-1.45zM403.94 367.09h1.45v1.45h-1.45zM397.65 378.48h1.45v1.45h-1.45zM405.91 381.89h1.45v1.45h-1.45zM419.09 381.83h1.45v1.45h-1.45zM417.7 377.62h1.45v1.45h-1.45zM408.83 377.97h1.45v1.45h-1.45zM417.63 382.13h1.45v1.45h-1.45zM400.45 370.23h1.45v1.45h-1.45zM418.52 373.93h1.45v1.45h-1.45zM413.58 381.77h1.45v1.45h-1.45zM415.8 382.36h1.45v1.45h-1.45zM413.46 378.69h1.45v1.45h-1.45zM414.85 381.72h1.45v1.45h-1.45zM413.89 378.93h1.45v1.45h-1.45zM409.37 373.85h1.45v1.45h-1.45zM409.44 374.3h1.45v1.45h-1.45zM414.32 381.11h1.45v1.45h-1.45zM416.15 375.96h1.45v1.45h-1.45zM414.03 374.18h1.45v1.45h-1.45zM418.96 380.76h1.45v1.45h-1.45zM417.13 377.46h1.45v1.45h-1.45zM408.3 377.56h1.45v1.45h-1.45zM416.49 379.28h1.45v1.45h-1.45zM413.91 381.64h1.45v1.45h-1.45zM412.03 376.21h1.45v1.45h-1.45zM418.57 366.99h1.45v1.45h-1.45zM419.17 380.05h1.45v1.45h-1.45zM409.37 372.03h1.45v1.45h-1.45zM417.54 378.96h1.45v1.45h-1.45zM409.99 379.21h1.45v1.45h-1.45zM416.17 380.19h1.45v1.45h-1.45zM405.66 374.45h1.45v1.45h-1.45zM416.07 381.61h1.45v1.45h-1.45zM414.08 381.54h1.45v1.45h-1.45zM417.66 380.98h1.45v1.45h-1.45zM409.89 368.06h1.45v1.45h-1.45zM410.71 374.7h1.45v1.45h-1.45zM414.29 377.79h1.45v1.45h-1.45zM417.83 378.95h1.45v1.45h-1.45zM410.78 365.13h1.45v1.45h-1.45zM410.73 378.17h1.45v1.45h-1.45zM418.22 378.31h1.45v1.45h-1.45zM405.29 372.53h1.45v1.45h-1.45zM410.28 364.76h1.45v1.45h-1.45zM417.35 378.8h1.45v1.45h-1.45zM416.75 372.07h1.45v1.45h-1.45zM419.1 382.18h1.45v1.45h-1.45zM417.2 376.74h1.45v1.45h-1.45zM417.97 375.09h1.45v1.45h-1.45zM415.43 374.07h1.45v1.45h-1.45zM409.62 370.85h1.45v1.45h-1.45zM403.05 364.74h1.45v1.45h-1.45zM415.07 363.69h1.45v1.45h-1.45zM413.18 380.92h1.45v1.45h-1.45zM405.12 377.31h1.45v1.45h-1.45zM417.49 379.51h1.45v1.45h-1.45zM416.46 376.69h1.45v1.45h-1.45zM417.87 368.56h1.45v1.45h-1.45zM417.91 379.31h1.45v1.45h-1.45zM417.18 377.39h1.45v1.45h-1.45zM408.99 375.93h1.45v1.45h-1.45zM406.47 366.58h1.45v1.45h-1.45zM409.87 381.02h1.45v1.45h-1.45zM416.58 381.4h1.45v1.45h-1.45zM416.52 380.29h1.45v1.45h-1.45zM400.89 379.74h1.45v1.45h-1.45zM409.61 363.65h1.45v1.45h-1.45zM418.57 377.6h1.45v1.45h-1.45zM409.34 371.58h1.45v1.45h-1.45zM411.78 378.16h1.45v1.45h-1.45zM418.97 369.7h1.45v1.45h-1.45zM415.12 375.06h1.45v1.45h-1.45zM414.9 379.91h1.45v1.45h-1.45zM411.93 381.65h1.45v1.45h-1.45zM400.25 378.16h1.45v1.45h-1.45zM411.37 363.51h1.45v1.45h-1.45zM419.15 381.76h1.45v1.45h-1.45zM417.17 380.89h1.45v1.45h-1.45zM417.21 363.79h1.45v1.45h-1.45zM410.53 364.17h1.45v1.45h-1.45zM404.48 364.15h1.45v1.45h-1.45zM418.34 381.24h1.45v1.45h-1.45zM419.23 360h1.45v1.45h-1.45zM418.54 375.48h1.45v1.45h-1.45zM411.55 373.37h1.45v1.45h-1.45zM418.24 379h1.45v1.45h-1.45zM418.34 378.03h1.45v1.45h-1.45zM415.27 364.51h1.45v1.45h-1.45zM414.61 381.86h1.45v1.45h-1.45zM417.68 376.8h1.45v1.45h-1.45zM415.75 380.85h1.45v1.45h-1.45zM414.96 381.48h1.45v1.45h-1.45zM416.93 374.7h1.45v1.45h-1.45zM414.01 378.57h1.45v1.45h-1.45zM418.07 379.36h1.45v1.45h-1.45zM408.68 377.15h1.45v1.45h-1.45zM417.73 377.7h1.45v1.45h-1.45zM410.39 358.65h1.45v1.45h-1.45zM414.55 380.85h1.45v1.45h-1.45zM412.48 363.98h1.45v1.45h-1.45zM414.84 379.51h1.45v1.45h-1.45zM415.71 374.76h1.45v1.45h-1.45zM416.35 382.51h1.45v1.45h-1.45zM418.64 377.66h1.45v1.45h-1.45zM416 375.35h1.45v1.45h-1.45zM416.29 356.68h1.45v1.45h-1.45zM401.13 372.82h1.45v1.45h-1.45zM416.72 380.42h1.45v1.45h-1.45zM407.52 367.7h1.45v1.45h-1.45zM411.49 367.32h1.45v1.45h-1.45zM416.08 378.94h1.45v1.45h-1.45zM406.35 377.26h1.45v1.45h-1.45zM413.42 377.06h1.45v1.45h-1.45zM418.85 378.54h1.45v1.45h-1.45zM408.53 367.21h1.45v1.45h-1.45zM404.86 363.21h1.45v1.45h-1.45zM418.57 382.31h1.45v1.45h-1.45zM410.77 366.94h1.45v1.45h-1.45zM416.54 381.76h1.45v1.45h-1.45zM417.96 371.21h1.45v1.45h-1.45zM399.61 372.37h1.45v1.45h-1.45zM415.83 375.28h1.45v1.45h-1.45zM418.4 380.72h1.45v1.45h-1.45zM404.29 367.69h1.45v1.45h-1.45zM413.54 378.68h1.45v1.45h-1.45zM418.16 372.25h1.45v1.45h-1.45zM418.08 378.82h1.45v1.45h-1.45zM416 379.3h1.45v1.45h-1.45zM409.61 368.56h1.45v1.45h-1.45zM402.79 381.7h1.45v1.45h-1.45zM414.43 376.94h1.45v1.45h-1.45zM405.22 377.27h1.45v1.45h-1.45zM415.25 378.85h1.45v1.45h-1.45zM411.84 354.51h1.45v1.45h-1.45zM411.22 360.69h1.45v1.45h-1.45zM417.31 379.33h1.45v1.45h-1.45zM414.08 378.4h1.45v1.45h-1.45zM416.5 382.11h1.45v1.45h-1.45zM412.38 359.2h1.45v1.45h-1.45zM418.09 374.12h1.45v1.45h-1.45zM408.07 372.06h1.45v1.45h-1.45zM417.46 375.56h1.45v1.45h-1.45zM417.34 377.18h1.45v1.45h-1.45zM412.4 380.37h1.45v1.45h-1.45zM416.97 366h1.45v1.45h-1.45zM412.58 372.57h1.45v1.45h-1.45zM417.19 381.8h1.45v1.45h-1.45zM418.97 379.58h1.45v1.45h-1.45zM401.95 364.83h1.45v1.45h-1.45zM412.82 366.17h1.45v1.45h-1.45zM417.97 377.36h1.45v1.45h-1.45zM418.02 373.83h1.45v1.45h-1.45zM415.06 377.76h1.45v1.45h-1.45zM404.71 359.02h1.45v1.45h-1.45zM407.74 369.41h1.45v1.45h-1.45zM418.25 378.52h1.45v1.45h-1.45zM406.92 377.43h1.45v1.45h-1.45zM411.74 369.03h1.45v1.45h-1.45zM418.16 377.28h1.45v1.45h-1.45zM415.92 380.32h1.45v1.45h-1.45zM415.9 378.01h1.45v1.45h-1.45zM416.66 356.27h1.45v1.45h-1.45zM409.86 378.76h1.45v1.45h-1.45zM413.75 382.06h1.45v1.45h-1.45zM416.74 374.32h1.45v1.45h-1.45zM418.57 382.09h1.45v1.45h-1.45zM416.78 378.34h1.45v1.45h-1.45zM411.6 370.04h1.45v1.45h-1.45zM418.17 367.57h1.45v1.45h-1.45zM416.57 373.82h1.45v1.45h-1.45zM410.39 370.58h1.45v1.45h-1.45zM411.59 379.94h1.45v1.45h-1.45zM410.01 370.51h1.45v1.45h-1.45zM417.18 376.25h1.45v1.45h-1.45zM417.85 379.37h1.45v1.45h-1.45zM408.5 374.62h1.45v1.45h-1.45zM414.23 374.69h1.45v1.45h-1.45zM418.64 377.58h1.45v1.45h-1.45zM418.29 362.53h1.45v1.45h-1.45zM411.61 379.02h1.45v1.45h-1.45zM419.19 378.62h1.45v1.45h-1.45zM418.18 378.48h1.45v1.45h-1.45zM418.15 380.55h1.45v1.45h-1.45zM410.34 373.11h1.45v1.45h-1.45zM417.15 378.6h1.45v1.45h-1.45zM410.73 378.94h1.45v1.45h-1.45zM416.32 380.39h1.45v1.45h-1.45zM408.67 381.44h1.45v1.45h-1.45zM419.21 381.94h1.45v1.45h-1.45zM418.21 377.53h1.45v1.45h-1.45zM408.02 381.94h1.45v1.45h-1.45zM412.48 363.25h1.45v1.45h-1.45zM418.74 379.66h1.45v1.45h-1.45zM418.73 379.64h1.45v1.45h-1.45zM416.87 370.76h1.45v1.45h-1.45zM399 371.61h1.45v1.45h-1.45zM418.4 382.58h1.45v1.45h-1.45zM407.6 374.26h1.45v1.45h-1.45zM417.63 380.18h1.45v1.45h-1.45zM416.94 378.56h1.45v1.45h-1.45zM410.66 360.47h1.45v1.45h-1.45zM415.13 379.78h1.45v1.45h-1.45zM413.05 379.92h1.45v1.45h-1.45zM389.93 376.73h1.45v1.45h-1.45zM394.02 379.84h1.45v1.45h-1.45zM395.38 374.56h1.45v1.45h-1.45zM394.7 366.47h1.45v1.45h-1.45zM444.7 359.88h1.45v1.45h-1.45zM434.33 382.6h1.45v1.45h-1.45zM432.94 373.72h1.45v1.45h-1.45zM433.72 378.9h1.45v1.45h-1.45zM437.79 369.98h1.45v1.45h-1.45zM439.1 377.76h1.45v1.45h-1.45zM436.24 380.9h1.45v1.45h-1.45zM435.49 378.38h1.45v1.45h-1.45zM441.12 375.32h1.45v1.45h-1.45zM437.42 360.84h1.45v1.45h-1.45zM435.48 361.88h1.45v1.45h-1.45zM432.86 359.13h1.45v1.45h-1.45zM434.3 378.02h1.45v1.45h-1.45zM432.7 366.16h1.45v1.45h-1.45zM438.9 378.11h1.45v1.45h-1.45zM435.13 366.86h1.45v1.45h-1.45zM438.19 375.14h1.45v1.45h-1.45zM435.07 364.1h1.45v1.45h-1.45zM434.36 380.53h1.45v1.45h-1.45zM439.88 364.99h1.45v1.45h-1.45zM440.65 367.98h1.45v1.45h-1.45zM433.65 369.06h1.45v1.45h-1.45zM431.98 374.64h1.45v1.45h-1.45zM443.01 375.4h1.45v1.45h-1.45zM433.15 376.56h1.45v1.45h-1.45zM439.59 370.74h1.45v1.45h-1.45zM436.45 353.22h1.45v1.45h-1.45zM440.87 363.21h1.45v1.45h-1.45zM432.98 362.57h1.45v1.45h-1.45zM433.17 363.4h1.45v1.45h-1.45zM439.25 356.74h1.45v1.45h-1.45zM432.44 367.83h1.45v1.45h-1.45zM431.89 371.12h1.45v1.45h-1.45zM431.97 367.86h1.45v1.45h-1.45zM432.22 367.37h1.45v1.45h-1.45zM434.25 370.57h1.45v1.45h-1.45zM436.6 369.65h1.45v1.45h-1.45zM441.55 378.39h1.45v1.45h-1.45zM433.04 373.65h1.45v1.45h-1.45zM435.6 381.1h1.45v1.45h-1.45zM431.94 372.87h1.45v1.45h-1.45zM434.5 380.96h1.45v1.45h-1.45zM440.97 363.02h1.45v1.45h-1.45zM438.44 362.81h1.45v1.45h-1.45zM431.92 369.52h1.45v1.45h-1.45zM437.51 376.39h1.45v1.45h-1.45zM437.05 376.23h1.45v1.45h-1.45zM433.26 356.31h1.45v1.45h-1.45zM433.21 380.08h1.45v1.45h-1.45zM439.2 360.79h1.45v1.45h-1.45zM440.21 378.94h1.45v1.45h-1.45zM434.1 365.98h1.45v1.45h-1.45zM436.03 380.45h1.45v1.45h-1.45zM435.94 371.11h1.45v1.45h-1.45zM440.65 381.66h1.45v1.45h-1.45zM432.29 377.23h1.45v1.45h-1.45zM438.54 367.06h1.45v1.45h-1.45zM433.6 379.4h1.45v1.45h-1.45zM433.46 365.43h1.45v1.45h-1.45zM434.58 376.61h1.45v1.45h-1.45zM434.99 376.55h1.45v1.45h-1.45zM441.78 378.64h1.45v1.45h-1.45zM433.42 366.29h1.45v1.45h-1.45zM434.91 367.31h1.45v1.45h-1.45zM432.55 364.04h1.45v1.45h-1.45zM436.08 380.88h1.45v1.45h-1.45zM434.08 376.91h1.45v1.45h-1.45zM434.94 375.68h1.45v1.45h-1.45zM433.76 374.43h1.45v1.45h-1.45zM434.11 375.17h1.45v1.45h-1.45zM432.25 375.87h1.45v1.45h-1.45zM439.58 367.26h1.45v1.45h-1.45zM436.13 375.63h1.45v1.45h-1.45zM436.45 381.82h1.45v1.45h-1.45zM432.74 371.45h1.45v1.45h-1.45zM437.52 380.12h1.45v1.45h-1.45zM434.83 382.45h1.45v1.45h-1.45zM432.65 378.02h1.45v1.45h-1.45zM438.19 376.57h1.45v1.45h-1.45zM445.02 378.77h1.45v1.45h-1.45zM435.31 366.51h1.45v1.45h-1.45zM436.87 366.98h1.45v1.45h-1.45zM434.17 379.14h1.45v1.45h-1.45zM433.32 373.58h1.45v1.45h-1.45zM439.79 372.19h1.45v1.45h-1.45zM434.08 382.49h1.45v1.45h-1.45zM439.79 382.63h1.45v1.45h-1.45zM433.11 377.15h1.45v1.45h-1.45zM435.68 373.71h1.45v1.45h-1.45zM437.05 370.51h1.45v1.45h-1.45zM433.91 357.33h1.45v1.45h-1.45zM438.07 369.22h1.45v1.45h-1.45zM433.05 362.26h1.45v1.45h-1.45zM433.82 364.97h1.45v1.45h-1.45zM432.07 372.58h1.45v1.45h-1.45zM435.36 374.44h1.45v1.45h-1.45zM436.79 371.28h1.45v1.45h-1.45zM432.53 375.04h1.45v1.45h-1.45zM432.61 382.19h1.45v1.45h-1.45zM432.8 369.52h1.45v1.45h-1.45zM436.54 378.47h1.45v1.45h-1.45zM440.98 354.65h1.45v1.45h-1.45zM432.26 363.46h1.45v1.45h-1.45zM433.21 371.54h1.45v1.45h-1.45zM436.59 371.2h1.45v1.45h-1.45zM437.25 375.36h1.45v1.45h-1.45zM433.05 382.09h1.45v1.45h-1.45zM436.19 379.93h1.45v1.45h-1.45zM437.22 369.92h1.45v1.45h-1.45zM444.41 374.53h1.45v1.45h-1.45zM434.75 375.49h1.45v1.45h-1.45zM439.6 370.92h1.45v1.45h-1.45zM435.31 376.66h1.45v1.45h-1.45zM434.27 370.8h1.45v1.45h-1.45zM443.06 368.31h1.45v1.45h-1.45zM434.72 368.18h1.45v1.45h-1.45zM434.12 373.53h1.45v1.45h-1.45zM434.39 366.31h1.45v1.45h-1.45zM432.18 379.39h1.45v1.45h-1.45zM436.58 379.17h1.45v1.45h-1.45zM434.28 377.94h1.45v1.45h-1.45zM432.56 380.93h1.45v1.45h-1.45zM434.33 370.5h1.45v1.45h-1.45zM434.14 380.96h1.45v1.45h-1.45zM437.19 373.33h1.45v1.45h-1.45zM432.02 373.73h1.45v1.45h-1.45zM434.79 359.21h1.45v1.45h-1.45zM437.23 375.33h1.45v1.45h-1.45zM440.81 380.5h1.45v1.45h-1.45zM435.29 373.13h1.45v1.45h-1.45zM436.62 362.38h1.45v1.45h-1.45zM432.85 378.14h1.45v1.45h-1.45zM443.38 374h1.45v1.45h-1.45zM439.72 381.94h1.45v1.45h-1.45zM438.32 375.74h1.45v1.45h-1.45zM441.73 364.72h1.45v1.45h-1.45zM435.1 367.26h1.45v1.45h-1.45zM435.87 375.5h1.45v1.45h-1.45zM436.52 372.94h1.45v1.45h-1.45zM434.64 378.04h1.45v1.45h-1.45zM432.4 374.59h1.45v1.45h-1.45zM435.38 381.71h1.45v1.45h-1.45zM440.9 381.45h1.45v1.45h-1.45zM433.8 371.28h1.45v1.45h-1.45zM432.06 372.71h1.45v1.45h-1.45zM432.22 381.17h1.45v1.45h-1.45zM440.31 363.71h1.45v1.45h-1.45zM445.25 380.91h1.45v1.45h-1.45zM432.39 372.73h1.45v1.45h-1.45zM436.34 374.18h1.45v1.45h-1.45zM435.32 379.21h1.45v1.45h-1.45zM433.49 382.41h1.45v1.45h-1.45zM435.68 355.74h1.45v1.45h-1.45zM433.62 378.61h1.45v1.45h-1.45zM433.34 372.11h1.45v1.45h-1.45zM435.12 380.73h1.45v1.45h-1.45zM433.51 366.87h1.45v1.45h-1.45zM433.95 360.8h1.45v1.45h-1.45zM432.51 371.28h1.45v1.45h-1.45zM436.59 378.01h1.45v1.45h-1.45zM432.71 358.06h1.45v1.45h-1.45zM438.21 361.92h1.45v1.45h-1.45zM432.5 375.45h1.45v1.45h-1.45zM436.17 379.97h1.45v1.45h-1.45zM433.39 377.56h1.45v1.45h-1.45zM433.63 359.38h1.45v1.45h-1.45zM433.53 367.96h1.45v1.45h-1.45zM440.67 382.17h1.45v1.45h-1.45zM442.05 380.52h1.45v1.45h-1.45zM438.31 378.81h1.45v1.45h-1.45zM438.26 373.22h1.45v1.45h-1.45zM438.78 362.85h1.45v1.45h-1.45zM432.06 366.49h1.45v1.45h-1.45zM436.69 376.31h1.45v1.45h-1.45zM436.98 380.41h1.45v1.45h-1.45zM432.59 382.23h1.45v1.45h-1.45zM431.92 367.92h1.45v1.45h-1.45zM432.79 362.54h1.45v1.45h-1.45zM442.1 379.34h1.45v1.45h-1.45zM437.11 376.01h1.45v1.45h-1.45zM435.85 354.79h1.45v1.45h-1.45zM437.4 378.96h1.45v1.45h-1.45zM436.25 374.17h1.45v1.45h-1.45zM434.61 376.85h1.45v1.45h-1.45zM434.25 360.98h1.45v1.45h-1.45zM434.92 379.4h1.45v1.45h-1.45zM434.29 374.78h1.45v1.45h-1.45zM440.07 375.47h1.45v1.45h-1.45zM442.19 367.21h1.45v1.45h-1.45zM441.09 370.79h1.45v1.45h-1.45zM435.89 372.36h1.45v1.45h-1.45zM445.22 376.58h1.45v1.45h-1.45zM438.93 365.32h1.45v1.45h-1.45zM435.79 373.23h1.45v1.45h-1.45zM434.09 377.95h1.45v1.45h-1.45zM437.91 369.38h1.45v1.45h-1.45zM432.64 375.82h1.45v1.45h-1.45zM434.34 376.41h1.45v1.45h-1.45zM437.06 368.68h1.45v1.45h-1.45zM432.1 374.49h1.45v1.45h-1.45zM437.98 366.73h1.45v1.45h-1.45zM432.44 370.46h1.45v1.45h-1.45zM437.86 367.67h1.45v1.45h-1.45zM437.59 381.69h1.45v1.45h-1.45zM441.3 367.5h1.45v1.45h-1.45zM438.39 357.22h1.45v1.45h-1.45zM435 380.39h1.45v1.45h-1.45zM433.87 372.52h1.45v1.45h-1.45zM436.06 377.4h1.45v1.45h-1.45zM434.48 379.23h1.45v1.45h-1.45zM435.99 377.36h1.45v1.45h-1.45zM433.92 366.53h1.45v1.45h-1.45zM433.09 367.75h1.45v1.45h-1.45zM439.04 375.31h1.45v1.45h-1.45zM433.31 381.48h1.45v1.45h-1.45zM442.66 373.13h1.45v1.45h-1.45zM435.71 374.18h1.45v1.45h-1.45zM432.99 381.67h1.45v1.45h-1.45zM437.48 373.54h1.45v1.45h-1.45zM436.65 365.89h1.45v1.45h-1.45zM431.94 376.3h1.45v1.45h-1.45zM437.67 381.52h1.45v1.45h-1.45zM432.21 378.82h1.45v1.45h-1.45zM432.96 377.73h1.45v1.45h-1.45zM432.54 375.78h1.45v1.45h-1.45zM435.34 358.18h1.45v1.45h-1.45zM436.8 372.75h1.45v1.45h-1.45zM435.42 358.82h1.45v1.45h-1.45zM437.84 363.12h1.45v1.45h-1.45zM437.17 364.71h1.45v1.45h-1.45zM451.8 356.07h1.45v1.45h-1.45zM453.75 363.63h1.45v1.45h-1.45zM453.03 378.72h1.45v1.45h-1.45zM448.81 359.16h1.45v1.45h-1.45zM447.32 377.19h1.45v1.45h-1.45zM453.75 362.02h1.45v1.45h-1.45zM443.22 379.37h1.45v1.45h-1.45zM449.97 355.28h1.45v1.45h-1.45zM450.71 357.38h1.45v1.45h-1.45zM444.42 365.5h1.45v1.45h-1.45zM445.36 372.11h1.45v1.45h-1.45zM444.96 368.54h1.45v1.45h-1.45zM443.69 363.32h1.45v1.45h-1.45zM451.06 356.61h1.45v1.45h-1.45zM452.55 379.04h1.45v1.45h-1.45zM453.79 366.4h1.45v1.45h-1.45zM454.62 367.77h1.45v1.45h-1.45zM444.12 362.04h1.45v1.45h-1.45zM445.25 354.46h1.45v1.45h-1.45zM449.74 356.67h1.45v1.45h-1.45zM449.17 372.25h1.45v1.45h-1.45zM451.26 361.88h1.45v1.45h-1.45zM437.36 340.48h1.45v1.45h-1.45zM440.55 339.89h1.45v1.45h-1.45zM444 334.85h1.45v1.45h-1.45zM439.02 336.18h1.45v1.45h-1.45zM435.15 340.79h1.45v1.45h-1.45zM442.21 337.54h1.45v1.45h-1.45zM440.58 340.82h1.45v1.45h-1.45zM435.07 336.14h1.45v1.45h-1.45zM442.22 337.97h1.45v1.45h-1.45zM440.03 334.91h1.45v1.45h-1.45zM436.84 339.18h1.45v1.45h-1.45zM438.21 341.24h1.45v1.45h-1.45zM444.72 341.47h1.45v1.45h-1.45zM437.47 337.78h1.45v1.45h-1.45zM435.47 336.16h1.45v1.45h-1.45zM435.12 337.66h1.45v1.45h-1.45zM445.35 339.93h1.45v1.45h-1.45zM438.48 335.14h1.45v1.45h-1.45zM440.4 316.63h1.45v1.45h-1.45zM438.35 327.9h1.45v1.45h-1.45zM443.81 331.03h1.45v1.45h-1.45zM469.97 322.88h1.45v1.45h-1.45z" fill="#ff8a1a"/>
<path d="M413.57 355.24h1.45v1.45h-1.45zM416.02 355.95h1.45v1.45h-1.45zM414.74 374.92h1.45v1.45h-1.45zM416.22 372.25h1.45v1.45h-1.45zM417.56 363.11h1.45v1.45h-1.45zM412.04 354.41h1.45v1.45h-1.45zM416.02 370.63h1.45v1.45h-1.45zM416.05 352.81h1.45v1.45h-1.45zM416.02 363.34h1.45v1.45h-1.45zM414.88 364.65h1.45v1.45h-1.45zM420.21 359.33h1.45v1.45h-1.45zM419.36 364.87h1.45v1.45h-1.45zM413.9 353.36h1.45v1.45h-1.45zM419.54 369.75h1.45v1.45h-1.45zM418.95 363.68h1.45v1.45h-1.45zM414.27 355.29h1.45v1.45h-1.45zM419.6 372.72h1.45v1.45h-1.45zM414.82 369.56h1.45v1.45h-1.45zM414.09 360.01h1.45v1.45h-1.45zM420.55 361.58h1.45v1.45h-1.45zM414.25 360.35h1.45v1.45h-1.45zM415.17 341.56h1.45v1.45h-1.45zM411.67 357.6h1.45v1.45h-1.45zM417.7 352.7h1.45v1.45h-1.45zM415.44 372.15h1.45v1.45h-1.45zM420.08 365.33h1.45v1.45h-1.45zM414.74 361.1h1.45v1.45h-1.45zM411.37 356.25h1.45v1.45h-1.45zM416.73 356.09h1.45v1.45h-1.45zM417.32 374.27h1.45v1.45h-1.45zM415.3 364.81h1.45v1.45h-1.45zM419.34 363.75h1.45v1.45h-1.45zM419.92 367.55h1.45v1.45h-1.45zM418.14 363.29h1.45v1.45h-1.45zM417.28 367.83h1.45v1.45h-1.45zM415.14 359.88h1.45v1.45h-1.45zM420.12 355.73h1.45v1.45h-1.45zM414.64 355.17h1.45v1.45h-1.45zM415.23 358.73h1.45v1.45h-1.45zM415.19 363.08h1.45v1.45h-1.45zM416.52 367.77h1.45v1.45h-1.45zM411.38 373.21h1.45v1.45h-1.45zM413.63 373.98h1.45v1.45h-1.45zM415.9 373.6h1.45v1.45h-1.45zM418.37 367.55h1.45v1.45h-1.45zM416.39 371h1.45v1.45h-1.45zM417.37 366.54h1.45v1.45h-1.45zM417.64 360.24h1.45v1.45h-1.45zM416.99 370.77h1.45v1.45h-1.45zM409.49 362.29h1.45v1.45h-1.45zM413.64 358.96h1.45v1.45h-1.45zM415.65 362.72h1.45v1.45h-1.45zM413.08 366.62h1.45v1.45h-1.45zM412.91 360.65h1.45v1.45h-1.45zM415.57 374.63h1.45v1.45h-1.45zM410.82 366.87h1.45v1.45h-1.45zM411.96 341.58h1.45v1.45h-1.45zM414.79 364.26h1.45v1.45h-1.45zM417.16 362.2h1.45v1.45h-1.45zM415.08 359.17h1.45v1.45h-1.45zM419.01 341.55h1.45v1.45h-1.45zM418.77 368.88h1.45v1.45h-1.45zM414.21 361.59h1.45v1.45h-1.45zM415.37 355.59h1.45v1.45h-1.45zM416.95 341.64h1.45v1.45h-1.45zM418.11 358.99h1.45v1.45h-1.45zM419.16 362.19h1.45v1.45h-1.45zM414.61 365.12h1.45v1.45h-1.45zM413.07 355.88h1.45v1.45h-1.45zM418.51 368.27h1.45v1.45h-1.45zM414.81 362.49h1.45v1.45h-1.45zM415.37 364.68h1.45v1.45h-1.45zM417.21 355.15h1.45v1.45h-1.45zM418.05 365.83h1.45v1.45h-1.45zM416.02 362.78h1.45v1.45h-1.45zM418.8 357.2h1.45v1.45h-1.45zM419.04 368.91h1.45v1.45h-1.45zM413.31 365.17h1.45v1.45h-1.45zM415.74 341.6h1.45v1.45h-1.45zM418.8 354.12h1.45v1.45h-1.45zM412.86 360.25h1.45v1.45h-1.45zM413.59 361h1.45v1.45h-1.45zM415.28 372.37h1.45v1.45h-1.45zM413.74 354.07h1.45v1.45h-1.45zM416.39 370.31h1.45v1.45h-1.45zM418.68 370.08h1.45v1.45h-1.45zM414.53 354.57h1.45v1.45h-1.45zM415.99 368.16h1.45v1.45h-1.45zM409.48 357.75h1.45v1.45h-1.45zM415.18 357.68h1.45v1.45h-1.45zM416.39 356.27h1.45v1.45h-1.45zM414.45 373.28h1.45v1.45h-1.45zM416.56 355.86h1.45v1.45h-1.45zM409.37 341.65h1.45v1.45h-1.45zM417.4 357.41h1.45v1.45h-1.45zM420.28 363.58h1.45v1.45h-1.45zM413.88 353.89h1.45v1.45h-1.45zM418.81 352.88h1.45v1.45h-1.45zM418.78 373.51h1.45v1.45h-1.45zM412.64 370.76h1.45v1.45h-1.45z" fill="#4a96f5"/>
<path d="M438.28 373.63h1.45v1.45h-1.45zM437.88 361.75h1.45v1.45h-1.45zM435.91 376.82h1.45v1.45h-1.45zM438.53 363.28h1.45v1.45h-1.45zM434.26 373.74h1.45v1.45h-1.45zM443.52 373.86h1.45v1.45h-1.45zM441.47 372.82h1.45v1.45h-1.45zM434.45 367.93h1.45v1.45h-1.45zM442.47 360.06h1.45v1.45h-1.45zM434.07 362.06h1.45v1.45h-1.45zM439.93 368.04h1.45v1.45h-1.45zM440.38 366.97h1.45v1.45h-1.45zM435.45 362.27h1.45v1.45h-1.45zM434.9 372.7h1.45v1.45h-1.45zM442.29 365.71h1.45v1.45h-1.45zM438.81 361.88h1.45v1.45h-1.45zM438.61 370.7h1.45v1.45h-1.45zM439.23 380.48h1.45v1.45h-1.45zM437.17 380.02h1.45v1.45h-1.45zM443.76 356.52h1.45v1.45h-1.45zM440.27 376.81h1.45v1.45h-1.45zM442.33 373.43h1.45v1.45h-1.45zM441.81 363.47h1.45v1.45h-1.45zM439.77 361.03h1.45v1.45h-1.45zM447.22 367.4h1.45v1.45h-1.45zM449.26 364.6h1.45v1.45h-1.45zM445.17 374.25h1.45v1.45h-1.45zM435.62 356.52h1.45v1.45h-1.45zM436.31 359.94h1.45v1.45h-1.45zM454.57 338.97h1.45v1.45h-1.45zM457.07 324.07h1.45v1.45h-1.45zM455.57 327.07h1.45v1.45h-1.45zM446.27 328.47h1.45v1.45h-1.45zM440.07 340.77h1.45v1.45h-1.45z" fill="#11c011"/>
<path d="M435.62 360.87h1.45v1.45h-1.45zM436.99 377.35h1.45v1.45h-1.45zM442.44 378.6h1.45v1.45h-1.45zM445.85 377.98h1.45v1.45h-1.45zM439.71 368.02h1.45v1.45h-1.45zM437.67 354.96h1.45v1.45h-1.45zM444.49 363.36h1.45v1.45h-1.45zM452.07 319.27h1.45v1.45h-1.45zM457.88 326.57h1.45v1.45h-1.45zM458.27 332.07h1.45v1.45h-1.45zM460.77 332.77h1.45v1.45h-1.45zM443.77 326.27h1.45v1.45h-1.45zM438.27 328.77h1.45v1.45h-1.45zM440.77 332.77h1.45v1.45h-1.45zM446.77 330.07h1.45v1.45h-1.45zM445.77 333.27h1.45v1.45h-1.45zM448.27 328.27h1.45v1.45h-1.45z" fill="#8a0a9a"/>
<path d="M401.34 383.22h1.45v1.45h-1.45zM430.02 383.31h1.45v1.45h-1.45zM408.25 382.09h1.45v1.45h-1.45zM431.93 383.2h1.45v1.45h-1.45zM419.94 381.21h1.45v1.45h-1.45zM433.01 380.93h1.45v1.45h-1.45zM410.61 383.17h1.45v1.45h-1.45zM430.63 382.3h1.45v1.45h-1.45zM405.03 382.13h1.45v1.45h-1.45zM439.17 382.93h1.45v1.45h-1.45zM407.54 382.38h1.45v1.45h-1.45zM432.48 383.07h1.45v1.45h-1.45zM414.93 382.89h1.45v1.45h-1.45zM433.76 382.49h1.45v1.45h-1.45zM417.16 382.05h1.45v1.45h-1.45zM429.26 382.09h1.45v1.45h-1.45zM415.09 381.43h1.45v1.45h-1.45zM430.66 380.62h1.45v1.45h-1.45zM416.87 382.98h1.45v1.45h-1.45zM433.03 381.9h1.45v1.45h-1.45zM420.97 383.24h1.45v1.45h-1.45zM447.81 382.79h1.45v1.45h-1.45zM417.18 381.43h1.45v1.45h-1.45zM443.78 383.15h1.45v1.45h-1.45zM422.43 382.06h1.45v1.45h-1.45zM435.93 382.27h1.45v1.45h-1.45zM416.42 382.97h1.45v1.45h-1.45zM440.9 382.17h1.45v1.45h-1.45zM414.66 383.19h1.45v1.45h-1.45zM439.39 382.1h1.45v1.45h-1.45zM418.3 383.43h1.45v1.45h-1.45zM447.55 383.52h1.45v1.45h-1.45zM411.35 382.06h1.45v1.45h-1.45zM430.14 381.92h1.45v1.45h-1.45zM414.27 383.07h1.45v1.45h-1.45zM439.05 382.51h1.45v1.45h-1.45zM404.03 383.38h1.45v1.45h-1.45zM433.59 380.31h1.45v1.45h-1.45zM414.26 382.33h1.45v1.45h-1.45zM439.15 383.25h1.45v1.45h-1.45zM405.8 382.36h1.45v1.45h-1.45zM438.27 382.27h1.45v1.45h-1.45zM406.59 382.47h1.45v1.45h-1.45zM445.56 382.87h1.45v1.45h-1.45zM422.47 382.15h1.45v1.45h-1.45zM441.44 382.89h1.45v1.45h-1.45zM404.94 383.1h1.45v1.45h-1.45zM431.57 381.02h1.45v1.45h-1.45zM414.67 380.77h1.45v1.45h-1.45zM429.94 380.93h1.45v1.45h-1.45zM409.93 383.06h1.45v1.45h-1.45zM435.41 380.6h1.45v1.45h-1.45zM412.11 382.97h1.45v1.45h-1.45zM435.49 380.6h1.45v1.45h-1.45zM412.33 382.2h1.45v1.45h-1.45zM450.54 383.57h1.45v1.45h-1.45zM419.57 383.32h1.45v1.45h-1.45zM437.81 381.94h1.45v1.45h-1.45zM417.26 379.99h1.45v1.45h-1.45zM433.11 381.72h1.45v1.45h-1.45zM418.95 381.86h1.45v1.45h-1.45zM442.74 383.29h1.45v1.45h-1.45zM414.75 382.47h1.45v1.45h-1.45zM431.77 380.57h1.45v1.45h-1.45zM403.22 383.31h1.45v1.45h-1.45zM435.32 383.29h1.45v1.45h-1.45zM422.47 381.43h1.45v1.45h-1.45zM436.62 382.54h1.45v1.45h-1.45zM413.72 382.34h1.45v1.45h-1.45zM436.7 382.66h1.45v1.45h-1.45zM418.38 383.17h1.45v1.45h-1.45zM443.15 383.41h1.45v1.45h-1.45zM420.28 380.57h1.45v1.45h-1.45zM437.31 382.53h1.45v1.45h-1.45zM416.43 382.61h1.45v1.45h-1.45zM441.59 381.72h1.45v1.45h-1.45zM411.65 381.79h1.45v1.45h-1.45zM443.24 383.17h1.45v1.45h-1.45zM405.22 382.31h1.45v1.45h-1.45zM445.69 382.28h1.45v1.45h-1.45zM419.04 380.62h1.45v1.45h-1.45zM430.02 382.8h1.45v1.45h-1.45zM421.42 383.3h1.45v1.45h-1.45zM432.8 382.69h1.45v1.45h-1.45zM408.86 383.42h1.45v1.45h-1.45zM440.96 383.17h1.45v1.45h-1.45zM408.03 382.88h1.45v1.45h-1.45zM432.39 381.8h1.45v1.45h-1.45zM419.63 383.25h1.45v1.45h-1.45zM434.22 383.41h1.45v1.45h-1.45zM422.13 380.92h1.45v1.45h-1.45zM436.95 383.13h1.45v1.45h-1.45zM417.47 382.84h1.45v1.45h-1.45zM446.36 383.39h1.45v1.45h-1.45zM422.47 381.22h1.45v1.45h-1.45zM429.89 382.93h1.45v1.45h-1.45zM416 383.24h1.45v1.45h-1.45zM437.66 381.56h1.45v1.45h-1.45zM413.79 381.88h1.45v1.45h-1.45zM440.79 381.21h1.45v1.45h-1.45zM408.98 381.9h1.45v1.45h-1.45zM439.28 381.2h1.45v1.45h-1.45zM412.94 383.54h1.45v1.45h-1.45zM432.1 380.39h1.45v1.45h-1.45zM418.29 382.8h1.45v1.45h-1.45zM430.87 382.56h1.45v1.45h-1.45zM409.08 382.34h1.45v1.45h-1.45zM441.72 382.24h1.45v1.45h-1.45zM413.44 381h1.45v1.45h-1.45zM440.06 381.05h1.45v1.45h-1.45zM398.39 383.57h1.45v1.45h-1.45zM434.86 382.51h1.45v1.45h-1.45zM410.18 381.98h1.45v1.45h-1.45zM447.46 382.43h1.45v1.45h-1.45zM417.85 380.87h1.45v1.45h-1.45zM443.82 383.3h1.45v1.45h-1.45zM421.39 382.55h1.45v1.45h-1.45zM432.35 381.14h1.45v1.45h-1.45zM401.87 383.36h1.45v1.45h-1.45zM442.68 381.54h1.45v1.45h-1.45zM418.25 380.39h1.45v1.45h-1.45zM437.92 383.51h1.45v1.45h-1.45zM406.25 383.47h1.45v1.45h-1.45zM432.02 380.56h1.45v1.45h-1.45zM418.47 382.29h1.45v1.45h-1.45zM433.12 383.04h1.45v1.45h-1.45zM416.06 383.14h1.45v1.45h-1.45zM434.61 380.71h1.45v1.45h-1.45zM417.06 380.89h1.45v1.45h-1.45zM443.22 383.14h1.45v1.45h-1.45zM422.56 382.33h1.45v1.45h-1.45zM430.9 382.47h1.45v1.45h-1.45zM420.29 382.81h1.45v1.45h-1.45zM436.4 382.64h1.45v1.45h-1.45zM411.36 382.07h1.45v1.45h-1.45zM431.19 381.26h1.45v1.45h-1.45zM414.65 383.46h1.45v1.45h-1.45zM450.46 383.26h1.45v1.45h-1.45zM420.28 382.38h1.45v1.45h-1.45zM438.69 380.88h1.45v1.45h-1.45zM417.32 381.02h1.45v1.45h-1.45zM431.35 382.53h1.45v1.45h-1.45zM420.02 382.35h1.45v1.45h-1.45zM439.34 382.53h1.45v1.45h-1.45zM419.71 382.04h1.45v1.45h-1.45zM432.68 382.16h1.45v1.45h-1.45zM420.28 381.07h1.45v1.45h-1.45zM441.48 383.32h1.45v1.45h-1.45zM422.83 383.36h1.45v1.45h-1.45zM441.55 383.46h1.45v1.45h-1.45zM409.51 383.15h1.45v1.45h-1.45zM434.14 382.91h1.45v1.45h-1.45zM419.6 383.05h1.45v1.45h-1.45zM429.42 381.69h1.45v1.45h-1.45zM413.78 382.13h1.45v1.45h-1.45zM443.43 381.79h1.45v1.45h-1.45zM417 380.82h1.45v1.45h-1.45zM437.88 381.57h1.45v1.45h-1.45zM406.21 383.13h1.45v1.45h-1.45zM431.35 380.66h1.45v1.45h-1.45zM402.12 382.7h1.45v1.45h-1.45zM434.38 380.48h1.45v1.45h-1.45zM404.69 382.92h1.45v1.45h-1.45zM442.93 381.96h1.45v1.45h-1.45zM405.38 382.33h1.45v1.45h-1.45zM435.14 380.09h1.45v1.45h-1.45zM415.67 382.18h1.45v1.45h-1.45zM431.6 380.84h1.45v1.45h-1.45zM407.41 383.02h1.45v1.45h-1.45zM433.39 381.2h1.45v1.45h-1.45zM420.71 381.14h1.45v1.45h-1.45zM433.8 381.51h1.45v1.45h-1.45zM397.09 383.53h1.45v1.45h-1.45zM440.46 383.15h1.45v1.45h-1.45zM407.68 382.43h1.45v1.45h-1.45zM448.04 383.39h1.45v1.45h-1.45zM418.84 382.79h1.45v1.45h-1.45zM447.39 382.76h1.45v1.45h-1.45zM421 383.14h1.45v1.45h-1.45zM437 382.98h1.45v1.45h-1.45zM410.44 381.25h1.45v1.45h-1.45zM445.7 382.88h1.45v1.45h-1.45zM412.91 381.12h1.45v1.45h-1.45zM442.36 383.45h1.45v1.45h-1.45zM403.54 383.23h1.45v1.45h-1.45zM438.22 382.67h1.45v1.45h-1.45zM404.05 383.22h1.45v1.45h-1.45zM436.41 383.32h1.45v1.45h-1.45zM409.37 383.5h1.45v1.45h-1.45zM431.93 383.47h1.45v1.45h-1.45zM402.65 383.51h1.45v1.45h-1.45zM441.87 381.64h1.45v1.45h-1.45zM420.25 381.56h1.45v1.45h-1.45zM433.51 382.32h1.45v1.45h-1.45zM405.18 382.42h1.45v1.45h-1.45zM445.03 382.91h1.45v1.45h-1.45zM408.96 382.12h1.45v1.45h-1.45zM445.36 383.15h1.45v1.45h-1.45zM401.9 383.46h1.45v1.45h-1.45zM430.54 382.17h1.45v1.45h-1.45zM404.65 382.83h1.45v1.45h-1.45zM439.18 381.95h1.45v1.45h-1.45zM403.73 383.24h1.45v1.45h-1.45zM431.77 379.95h1.45v1.45h-1.45zM422.42 380.18h1.45v1.45h-1.45zM439.1 383.19h1.45v1.45h-1.45zM413.36 382.71h1.45v1.45h-1.45zM432.6 381.94h1.45v1.45h-1.45zM408.45 382h1.45v1.45h-1.45zM435.29 382.75h1.45v1.45h-1.45zM420.26 380.84h1.45v1.45h-1.45zM439.04 382.94h1.45v1.45h-1.45zM405.2 382.85h1.45v1.45h-1.45zM437.13 381.04h1.45v1.45h-1.45zM415.96 380.48h1.45v1.45h-1.45zM432.69 381.36h1.45v1.45h-1.45zM413.79 383.49h1.45v1.45h-1.45zM442.1 381.53h1.45v1.45h-1.45zM403.89 382.72h1.45v1.45h-1.45zM438.04 382.13h1.45v1.45h-1.45zM410.05 383.49h1.45v1.45h-1.45zM433.93 383.55h1.45v1.45h-1.45zM419.24 383.23h1.45v1.45h-1.45zM428.95 382.51h1.45v1.45h-1.45zM410.38 381.32h1.45v1.45h-1.45zM444.51 382.31h1.45v1.45h-1.45zM417.79 381.63h1.45v1.45h-1.45zM435.21 380.92h1.45v1.45h-1.45zM410.43 383.3h1.45v1.45h-1.45zM445.56 382.07h1.45v1.45h-1.45zM406.39 383.36h1.45v1.45h-1.45zM435.43 380.76h1.45v1.45h-1.45zM404.95 382.28h1.45v1.45h-1.45zM440.6 382.03h1.45v1.45h-1.45zM414.97 382.78h1.45v1.45h-1.45zM442.68 382.5h1.45v1.45h-1.45zM410.55 383.39h1.45v1.45h-1.45zM446.18 382.03h1.45v1.45h-1.45zM415.21 380.62h1.45v1.45h-1.45zM441.55 382.9h1.45v1.45h-1.45zM408.84 382.29h1.45v1.45h-1.45zM447.32 383.36h1.45v1.45h-1.45zM422.39 383.05h1.45v1.45h-1.45zM431.26 381.9h1.45v1.45h-1.45zM400.09 383.48h1.45v1.45h-1.45zM436.41 381.17h1.45v1.45h-1.45zM422.22 382.64h1.45v1.45h-1.45zM442.53 382.12h1.45v1.45h-1.45zM417.02 382.8h1.45v1.45h-1.45zM435.83 383.08h1.45v1.45h-1.45zM414.52 382.56h1.45v1.45h-1.45zM445.95 383.53h1.45v1.45h-1.45zM406.85 383.18h1.45v1.45h-1.45zM446.24 382.09h1.45v1.45h-1.45zM407.34 382.96h1.45v1.45h-1.45zM431.52 381.74h1.45v1.45h-1.45zM405.78 382.64h1.45v1.45h-1.45zM437.29 383.15h1.45v1.45h-1.45zM416.72 381.14h1.45v1.45h-1.45zM433 383.33h1.45v1.45h-1.45zM419.23 383.03h1.45v1.45h-1.45zM429.83 381.86h1.45v1.45h-1.45zM416.93 381.81h1.45v1.45h-1.45zM433.23 383.51h1.45v1.45h-1.45zM407.52 381.85h1.45v1.45h-1.45zM433.48 381.41h1.45v1.45h-1.45zM421.15 382.26h1.45v1.45h-1.45zM435.09 381.67h1.45v1.45h-1.45zM405.81 382.1h1.45v1.45h-1.45zM432.15 381.7h1.45v1.45h-1.45zM411.76 383.39h1.45v1.45h-1.45zM444.6 383.24h1.45v1.45h-1.45zM415.7 383.12h1.45v1.45h-1.45zM438.74 381.2h1.45v1.45h-1.45zM412.32 382.35h1.45v1.45h-1.45zM445.83 382.87h1.45v1.45h-1.45zM417.43 381.73h1.45v1.45h-1.45zM442.45 383.41h1.45v1.45h-1.45zM413 381.78h1.45v1.45h-1.45zM440.97 381.67h1.45v1.45h-1.45zM415.93 380.48h1.45v1.45h-1.45zM436.36 382.61h1.45v1.45h-1.45zM416.36 383.46h1.45v1.45h-1.45zM430 381.61h1.45v1.45h-1.45zM407.6 382.57h1.45v1.45h-1.45zM438.25 382.89h1.45v1.45h-1.45zM420.52 383.18h1.45v1.45h-1.45zM439.63 381.84h1.45v1.45h-1.45zM406.67 383.51h1.45v1.45h-1.45zM446.55 382.92h1.45v1.45h-1.45zM406.08 382.13h1.45v1.45h-1.45zM436.93 383.04h1.45v1.45h-1.45zM408.56 382.12h1.45v1.45h-1.45zM432.17 381.99h1.45v1.45h-1.45zM409.92 383.32h1.45v1.45h-1.45zM442.53 382.49h1.45v1.45h-1.45zM419.83 383.38h1.45v1.45h-1.45zM430.07 381.95h1.45v1.45h-1.45zM413.9 382.19h1.45v1.45h-1.45zM445.47 383.28h1.45v1.45h-1.45zM414.67 382.64h1.45v1.45h-1.45zM434.71 382.63h1.45v1.45h-1.45zM403.76 383.26h1.45v1.45h-1.45zM432.66 383.25h1.45v1.45h-1.45zM406.27 382.87h1.45v1.45h-1.45zM446.89 382.44h1.45v1.45h-1.45zM404.4 383.37h1.45v1.45h-1.45zM444.76 383.21h1.45v1.45h-1.45zM419.92 383.33h1.45v1.45h-1.45zM445.05 382.95h1.45v1.45h-1.45zM417.26 382.73h1.45v1.45h-1.45zM435 380.7h1.45v1.45h-1.45zM416.54 383.22h1.45v1.45h-1.45zM432.19 381.48h1.45v1.45h-1.45zM415.72 380.88h1.45v1.45h-1.45zM449.94 383.53h1.45v1.45h-1.45zM410.91 382.02h1.45v1.45h-1.45zM437.54 380.73h1.45v1.45h-1.45zM423.15 381.9h1.45v1.45h-1.45zM431.98 382.77h1.45v1.45h-1.45zM422.27 381.73h1.45v1.45h-1.45zM439.53 382.28h1.45v1.45h-1.45zM422.25 383.18h1.45v1.45h-1.45zM431.64 383.22h1.45v1.45h-1.45zM413.9 381.53h1.45v1.45h-1.45zM434.64 381.95h1.45v1.45h-1.45zM418.63 382.62h1.45v1.45h-1.45zM433.96 383.15h1.45v1.45h-1.45zM403.31 383.25h1.45v1.45h-1.45zM429.57 382.54h1.45v1.45h-1.45zM422.53 383.12h1.45v1.45h-1.45zM437.44 382.45h1.45v1.45h-1.45zM417 380.66h1.45v1.45h-1.45zM442.49 383h1.45v1.45h-1.45zM413.83 382.15h1.45v1.45h-1.45zM433.76 382.67h1.45v1.45h-1.45zM398.38 383.31h1.45v1.45h-1.45zM435.56 383.17h1.45v1.45h-1.45zM421.33 383.55h1.45v1.45h-1.45zM431.56 382.37h1.45v1.45h-1.45zM410.08 382.31h1.45v1.45h-1.45zM439.37 382.96h1.45v1.45h-1.45zM419.93 381.96h1.45v1.45h-1.45zM434.13 382.15h1.45v1.45h-1.45zM412.86 381.4h1.45v1.45h-1.45zM437.81 382.48h1.45v1.45h-1.45zM413.25 381.42h1.45v1.45h-1.45zM432.69 381.41h1.45v1.45h-1.45zM408.56 382.6h1.45v1.45h-1.45zM448.5 383.52h1.45v1.45h-1.45zM399.4 383.47h1.45v1.45h-1.45zM445.59 382.99h1.45v1.45h-1.45zM421.19 380.66h1.45v1.45h-1.45zM434.83 380.13h1.45v1.45h-1.45zM408.63 382.99h1.45v1.45h-1.45zM434.51 381.68h1.45v1.45h-1.45zM414.83 381.26h1.45v1.45h-1.45zM437 383.56h1.45v1.45h-1.45zM421.64 380.51h1.45v1.45h-1.45zM444.68 382h1.45v1.45h-1.45zM412.21 383.17h1.45v1.45h-1.45zM430.15 380.93h1.45v1.45h-1.45zM413.11 381.21h1.45v1.45h-1.45zM448.27 382.36h1.45v1.45h-1.45zM402.98 383.4h1.45v1.45h-1.45zM445.04 382.37h1.45v1.45h-1.45zM421.88 381.08h1.45v1.45h-1.45zM439.57 382.61h1.45v1.45h-1.45zM419.57 381.47h1.45v1.45h-1.45zM435.78 380.25h1.45v1.45h-1.45zM401.49 382.96h1.45v1.45h-1.45zM440.4 383.54h1.45v1.45h-1.45zM414.27 383.01h1.45v1.45h-1.45zM449.36 383.19h1.45v1.45h-1.45zM423.05 381.11h1.45v1.45h-1.45zM437.46 381.49h1.45v1.45h-1.45zM423.05 382.08h1.45v1.45h-1.45zM448.19 383.23h1.45v1.45h-1.45zM422.37 382.33h1.45v1.45h-1.45zM442.4 383.35h1.45v1.45h-1.45zM419.91 380.72h1.45v1.45h-1.45zM448.25 382.76h1.45v1.45h-1.45zM410.6 382.39h1.45v1.45h-1.45zM432.43 381.45h1.45v1.45h-1.45zM413.5 383.39h1.45v1.45h-1.45zM435.71 380.94h1.45v1.45h-1.45zM420.78 381.07h1.45v1.45h-1.45zM440.22 382.31h1.45v1.45h-1.45zM407.67 382.79h1.45v1.45h-1.45zM430.22 382.27h1.45v1.45h-1.45zM421.97 383h1.45v1.45h-1.45zM436.74 382.35h1.45v1.45h-1.45zM407.17 382.88h1.45v1.45h-1.45zM438.78 381.59h1.45v1.45h-1.45zM412.49 382.92h1.45v1.45h-1.45zM440.43 381.15h1.45v1.45h-1.45zM421.86 382.7h1.45v1.45h-1.45zM443.86 381.59h1.45v1.45h-1.45zM417.37 381.55h1.45v1.45h-1.45zM448.69 383.14h1.45v1.45h-1.45zM406.94 382.78h1.45v1.45h-1.45zM429.75 380.45h1.45v1.45h-1.45zM402.18 383.53h1.45v1.45h-1.45zM429.36 380.45h1.45v1.45h-1.45zM409.1 381.59h1.45v1.45h-1.45zM438.8 381.51h1.45v1.45h-1.45zM406.81 383.44h1.45v1.45h-1.45zM435.66 383.41h1.45v1.45h-1.45zM422.97 381.21h1.45v1.45h-1.45zM431.39 383.07h1.45v1.45h-1.45zM404.64 383.52h1.45v1.45h-1.45zM440.14 381.37h1.45v1.45h-1.45zM416.43 381.26h1.45v1.45h-1.45zM437.99 380.95h1.45v1.45h-1.45zM400.12 383.35h1.45v1.45h-1.45zM433.5 379.87h1.45v1.45h-1.45zM406.11 382.59h1.45v1.45h-1.45zM441.34 382.44h1.45v1.45h-1.45zM406.11 382.69h1.45v1.45h-1.45zM429.51 380.77h1.45v1.45h-1.45zM417.2 382.56h1.45v1.45h-1.45zM429.08 382.14h1.45v1.45h-1.45zM422.65 383.04h1.45v1.45h-1.45zM448.81 383.23h1.45v1.45h-1.45zM420.85 382.32h1.45v1.45h-1.45zM433.53 382.82h1.45v1.45h-1.45zM421.13 382.23h1.45v1.45h-1.45zM443.25 383.53h1.45v1.45h-1.45zM421.57 382h1.45v1.45h-1.45zM448.68 383.01h1.45v1.45h-1.45zM420.7 383.27h1.45v1.45h-1.45zM434.31 382.04h1.45v1.45h-1.45zM419.71 383.08h1.45v1.45h-1.45zM450.03 382.71h1.45v1.45h-1.45zM423.05 383.1h1.45v1.45h-1.45zM430.12 380.75h1.45v1.45h-1.45zM409.59 382.92h1.45v1.45h-1.45zM438.18 382.49h1.45v1.45h-1.45zM411.94 382.17h1.45v1.45h-1.45zM449.24 382.82h1.45v1.45h-1.45zM404.68 383.02h1.45v1.45h-1.45zM450.27 383.4h1.45v1.45h-1.45zM422.5 382.98h1.45v1.45h-1.45zM448.14 382.9h1.45v1.45h-1.45zM406.66 382.24h1.45v1.45h-1.45zM441.85 381.34h1.45v1.45h-1.45zM409.77 382.27h1.45v1.45h-1.45zM433.58 381.64h1.45v1.45h-1.45zM417.57 381.98h1.45v1.45h-1.45zM433.86 380.88h1.45v1.45h-1.45zM406.04 383.54h1.45v1.45h-1.45zM448.53 383.44h1.45v1.45h-1.45zM398.78 383.24h1.45v1.45h-1.45zM435.39 383.06h1.45v1.45h-1.45zM416.87 381.63h1.45v1.45h-1.45zM430.67 380.25h1.45v1.45h-1.45zM400.04 383.35h1.45v1.45h-1.45zM442.04 381.92h1.45v1.45h-1.45zM402.03 383.11h1.45v1.45h-1.45zM441.74 383.15h1.45v1.45h-1.45zM413.74 380.95h1.45v1.45h-1.45zM439.42 381.86h1.45v1.45h-1.45zM413.69 382.04h1.45v1.45h-1.45zM433.14 383.51h1.45v1.45h-1.45zM409.92 382.52h1.45v1.45h-1.45zM448.22 382.54h1.45v1.45h-1.45zM406.36 382.17h1.45v1.45h-1.45zM450.91 382.92h1.45v1.45h-1.45zM420.89 380.85h1.45v1.45h-1.45zM443.61 381.77h1.45v1.45h-1.45zM421.42 380.14h1.45v1.45h-1.45zM433.05 382.98h1.45v1.45h-1.45zM410.18 382.26h1.45v1.45h-1.45zM445.89 382.92h1.45v1.45h-1.45zM417.36 383.06h1.45v1.45h-1.45zM429.37 381.66h1.45v1.45h-1.45zM418.46 382.92h1.45v1.45h-1.45zM443.97 381.67h1.45v1.45h-1.45zM410.16 382.81h1.45v1.45h-1.45zM442.24 382.84h1.45v1.45h-1.45zM416.29 382.93h1.45v1.45h-1.45zM429.6 380.67h1.45v1.45h-1.45zM420.69 380.16h1.45v1.45h-1.45zM430.37 381.15h1.45v1.45h-1.45zM403.95 382.42h1.45v1.45h-1.45zM435.14 382.91h1.45v1.45h-1.45zM418.99 383.1h1.45v1.45h-1.45zM432.37 380.92h1.45v1.45h-1.45zM410.47 382.17h1.45v1.45h-1.45zM442.84 382.28h1.45v1.45h-1.45zM412.84 380.88h1.45v1.45h-1.45zM443.31 381.96h1.45v1.45h-1.45zM416.43 380.37h1.45v1.45h-1.45zM441.63 381.54h1.45v1.45h-1.45zM407.01 383.17h1.45v1.45h-1.45zM429.1 381.74h1.45v1.45h-1.45zM410.58 381.38h1.45v1.45h-1.45zM437.58 381.23h1.45v1.45h-1.45zM409.14 382.67h1.45v1.45h-1.45zM430.91 381.34h1.45v1.45h-1.45zM412.2 380.9h1.45v1.45h-1.45zM440.69 382.09h1.45v1.45h-1.45zM418.52 382.62h1.45v1.45h-1.45zM429.09 380.68h1.45v1.45h-1.45zM419.99 383.28h1.45v1.45h-1.45zM438.41 383.5h1.45v1.45h-1.45zM420.01 382.99h1.45v1.45h-1.45zM434.97 383.14h1.45v1.45h-1.45zM413.95 382.04h1.45v1.45h-1.45zM431.84 380.99h1.45v1.45h-1.45zM416.34 383.16h1.45v1.45h-1.45zM442.69 382.09h1.45v1.45h-1.45zM420.34 381.53h1.45v1.45h-1.45zM434.58 381.51h1.45v1.45h-1.45zM411.86 382.04h1.45v1.45h-1.45zM445.92 382.36h1.45v1.45h-1.45zM417.05 380.56h1.45v1.45h-1.45zM434.71 383.24h1.45v1.45h-1.45zM419.66 380.35h1.45v1.45h-1.45zM434.39 381.01h1.45v1.45h-1.45zM421.06 382.97h1.45v1.45h-1.45zM434.65 381.02h1.45v1.45h-1.45zM420.09 381.31h1.45v1.45h-1.45zM431.19 382.27h1.45v1.45h-1.45zM419.57 380.7h1.45v1.45h-1.45zM447.18 382.35h1.45v1.45h-1.45zM421.72 382.58h1.45v1.45h-1.45zM439.92 381.52h1.45v1.45h-1.45zM405 382.6h1.45v1.45h-1.45zM451.28 383.5h1.45v1.45h-1.45zM412.22 380.98h1.45v1.45h-1.45zM433.82 382.5h1.45v1.45h-1.45zM411.58 381.29h1.45v1.45h-1.45zM430.15 381.48h1.45v1.45h-1.45zM408.69 381.69h1.45v1.45h-1.45zM443.09 382.33h1.45v1.45h-1.45zM418.52 380.75h1.45v1.45h-1.45zM432.39 381.88h1.45v1.45h-1.45zM415.14 382.85h1.45v1.45h-1.45zM440.72 381.03h1.45v1.45h-1.45zM419.67 382.39h1.45v1.45h-1.45zM433.25 380.09h1.45v1.45h-1.45zM422.72 382.48h1.45v1.45h-1.45zM443.38 382.35h1.45v1.45h-1.45zM418.4 382.54h1.45v1.45h-1.45zM441.01 382.43h1.45v1.45h-1.45zM419.99 382.82h1.45v1.45h-1.45zM442.29 383.17h1.45v1.45h-1.45zM414.08 383.29h1.45v1.45h-1.45zM433.55 383.38h1.45v1.45h-1.45zM414.33 381.54h1.45v1.45h-1.45zM431.02 383.38h1.45v1.45h-1.45zM422.69 381.5h1.45v1.45h-1.45zM431.61 382.26h1.45v1.45h-1.45zM412.73 381.39h1.45v1.45h-1.45zM448.88 382.66h1.45v1.45h-1.45zM410.75 382.15h1.45v1.45h-1.45zM435.37 380.12h1.45v1.45h-1.45zM416.06 381.56h1.45v1.45h-1.45zM448.05 382.47h1.45v1.45h-1.45zM403.53 382.41h1.45v1.45h-1.45zM433.65 382.75h1.45v1.45h-1.45zM418.26 383.24h1.45v1.45h-1.45zM441.02 383.57h1.45v1.45h-1.45zM408.95 381.54h1.45v1.45h-1.45zM435.81 381.89h1.45v1.45h-1.45zM411.66 381.96h1.45v1.45h-1.45zM431.8 380.28h1.45v1.45h-1.45zM412.26 381.25h1.45v1.45h-1.45zM431.72 379.74h1.45v1.45h-1.45zM416.15 381.66h1.45v1.45h-1.45zM443.82 382.6h1.45v1.45h-1.45zM420.2 381.13h1.45v1.45h-1.45zM440.45 381.04h1.45v1.45h-1.45zM421.45 381.19h1.45v1.45h-1.45zM440.75 382.5h1.45v1.45h-1.45zM421.78 383.35h1.45v1.45h-1.45zM431.46 381.57h1.45v1.45h-1.45zM413.59 382.66h1.45v1.45h-1.45zM445.35 382.17h1.45v1.45h-1.45zM404 382.85h1.45v1.45h-1.45zM435.93 383.49h1.45v1.45h-1.45zM412.69 383.46h1.45v1.45h-1.45zM437.48 380.57h1.45v1.45h-1.45zM423.01 380.94h1.45v1.45h-1.45zM433.63 381.78h1.45v1.45h-1.45zM400.5 383.51h1.45v1.45h-1.45zM438.82 382.21h1.45v1.45h-1.45zM403.26 383.27h1.45v1.45h-1.45zM440.33 382.83h1.45v1.45h-1.45zM420.32 381.01h1.45v1.45h-1.45zM442 382.84h1.45v1.45h-1.45zM401.52 383.17h1.45v1.45h-1.45zM433.96 383.5h1.45v1.45h-1.45zM413.87 380.76h1.45v1.45h-1.45zM432.76 382.62h1.45v1.45h-1.45zM417.4 382.92h1.45v1.45h-1.45zM434.46 381.58h1.45v1.45h-1.45zM409.43 382.5h1.45v1.45h-1.45zM436.58 380.74h1.45v1.45h-1.45zM412.92 382.76h1.45v1.45h-1.45zM446.9 382.87h1.45v1.45h-1.45zM420.14 380.07h1.45v1.45h-1.45zM444.93 382.89h1.45v1.45h-1.45zM419.22 382.82h1.45v1.45h-1.45zM449.36 383.49h1.45v1.45h-1.45zM416.75 381.56h1.45v1.45h-1.45zM434.32 383.49h1.45v1.45h-1.45zM405.45 382.17h1.45v1.45h-1.45zM434.83 383.38h1.45v1.45h-1.45zM414.83 383.02h1.45v1.45h-1.45zM446.08 382.85h1.45v1.45h-1.45zM420.49 381.08h1.45v1.45h-1.45zM432.82 381.49h1.45v1.45h-1.45zM422.06 380.42h1.45v1.45h-1.45zM436.69 382.16h1.45v1.45h-1.45zM417.11 380.77h1.45v1.45h-1.45zM443.83 383.46h1.45v1.45h-1.45zM410.87 382.01h1.45v1.45h-1.45zM432.26 382.26h1.45v1.45h-1.45z" fill="#a3a3a3"/>
<line x1="358" y1="384.6" x2="494.8" y2="384.6" stroke="#4d4d4d" stroke-width="1.2"/>
<line x1="358.6" y1="384.6" x2="358.6" y2="386.9" stroke="#4d4d4d" stroke-width="0.8"/>
<text x="358.6" y="393.86" font-size="6.3" text-anchor="middle">–10</text>
<line x1="392.7" y1="384.6" x2="392.7" y2="386.9" stroke="#4d4d4d" stroke-width="0.8"/>
<text x="392.7" y="393.86" font-size="6.3" text-anchor="middle">–5</text>
<line x1="426.8" y1="384.6" x2="426.8" y2="386.9" stroke="#4d4d4d" stroke-width="0.8"/>
<text x="426.8" y="393.86" font-size="6.3" text-anchor="middle">0</text>
<line x1="460.9" y1="384.6" x2="460.9" y2="386.9" stroke="#4d4d4d" stroke-width="0.8"/>
<text x="460.9" y="393.86" font-size="6.3" text-anchor="middle">5</text>
<line x1="495" y1="384.6" x2="495" y2="386.9" stroke="#4d4d4d" stroke-width="0.8"/>
<text x="495" y="393.86" font-size="6.3" text-anchor="middle">10</text>
<text x="426.15" y="400.23" font-size="6.5" text-anchor="middle">Log<tspan font-size="70%" dy="1.3">2</tspan><tspan dy="-1.3"> (fold change)</tspan></text>
<line x1="358.5" y1="248.1" x2="358.5" y2="342.8" stroke="#4d4d4d" stroke-width="1.2"/>
<line x1="358.5" y1="353.4" x2="358.5" y2="385.1" stroke="#4d4d4d" stroke-width="1.2"/>
<line x1="356" y1="345.6" x2="362.3" y2="339.9" stroke="#111" stroke-width="1"/>
<line x1="356" y1="356.4" x2="362.3" y2="350.7" stroke="#111" stroke-width="1"/>
<line x1="356.3" y1="342.4" x2="358.5" y2="342.4" stroke="#4d4d4d" stroke-width="0.8"/>
<text x="355.2" y="344.66" font-size="6.3" text-anchor="end">10</text>
<line x1="356.3" y1="311.1" x2="358.5" y2="311.1" stroke="#4d4d4d" stroke-width="0.8"/>
<text x="355.2" y="313.36" font-size="6.3" text-anchor="end">60</text>
<line x1="356.3" y1="279.8" x2="358.5" y2="279.8" stroke="#4d4d4d" stroke-width="0.8"/>
<text x="355.2" y="282.06" font-size="6.3" text-anchor="end">110</text>
<line x1="356.3" y1="248.5" x2="358.5" y2="248.5" stroke="#4d4d4d" stroke-width="0.8"/>
<text x="355.2" y="250.76" font-size="6.3" text-anchor="end">160</text>
<line x1="356.3" y1="384.3" x2="358.5" y2="384.3" stroke="#4d4d4d" stroke-width="0.8"/>
<text x="355.2" y="386.56" font-size="6.3" text-anchor="end">0</text>
<line x1="356.3" y1="378.08" x2="358.5" y2="378.08" stroke="#4d4d4d" stroke-width="0.8"/>
<text x="355.2" y="380.34" font-size="6.3" text-anchor="end">2</text>
<line x1="356.3" y1="371.86" x2="358.5" y2="371.86" stroke="#4d4d4d" stroke-width="0.8"/>
<text x="355.2" y="374.12" font-size="6.3" text-anchor="end">4</text>
<line x1="356.3" y1="365.64" x2="358.5" y2="365.64" stroke="#4d4d4d" stroke-width="0.8"/>
<text x="355.2" y="367.9" font-size="6.3" text-anchor="end">6</text>
<line x1="356.3" y1="359.42" x2="358.5" y2="359.42" stroke="#4d4d4d" stroke-width="0.8"/>
<text x="355.2" y="361.68" font-size="6.3" text-anchor="end">8</text>
<line x1="356.3" y1="353.2" x2="358.5" y2="353.2" stroke="#4d4d4d" stroke-width="0.8"/>
<text x="355.2" y="355.46" font-size="6.3" text-anchor="end">10</text>
<text x="366.3" y="248.96" font-size="7.7" >QD × 6 24 hours</text>
<text x="0" y="2.33" font-size="6.5" text-anchor="middle" transform="translate(340 316.4) rotate(-90)">–Log<tspan font-size="70%" dy="1.3">10</tspan><tspan dy="-1.3"> (FDR)</tspan></text>
<text x="400.6" y="274.69" font-size="5.55" text-anchor="end" font-style="italic">ASPM</text>
<text x="407.1" y="274.69" font-size="5.55" font-style="italic">MKI67</text>
<text x="407.1" y="280.79" font-size="5.55" font-style="italic">CENPF</text>
<text x="443.6" y="317.19" font-size="5.55" font-style="italic">FLG-AS1</text>
<text x="468.1" y="321.99" font-size="5.55" font-style="italic">PTCHD4</text>
<text x="460.8" y="329.59" font-size="5.55" font-style="italic">PURPL</text>
<text x="461.5" y="334.79" font-size="5.55" font-style="italic">TRINGS</text>
<text x="463.4" y="342.39" font-size="5.55" font-style="italic">AC073114.1</text>
<rect x="430.6" y="240.2" width="88.9" height="49.5" fill="#fff" stroke="#3f4f93" stroke-width="0.9"/>
<circle cx="437.2" cy="247.4" r="1.3" fill="#10c010"/>
<text x="443.3" y="249.58" font-size="5.52" >Fischer direct p53 targets (up)</text>
<circle cx="437.2" cy="256.4" r="1.3" fill="#800090"/>
<text x="443.3" y="258.58" font-size="5.52" >p53-targeted lncRNA (up)</text>
<circle cx="437.2" cy="265.4" r="1.3" fill="#3a4cff"/>
<text x="443.3" y="267.58" font-size="5.52" >Fischer DREAM targets (dn)</text>
<circle cx="437.2" cy="274.4" r="1.3" fill="#ff7f0e"/>
<text x="443.3" y="276.58" font-size="5.52" >DEGs (up &amp; dn)</text>
<circle cx="437.2" cy="283.4" r="1.3" fill="#9a9a9a"/>
<text x="443.3" y="285.58" font-size="5.52" >Non-DEGs</text>
<!-- Panel D -->
<text x="10.4" y="429.77" font-size="10.8" font-weight="bold" stroke="none">D</text>
<text x="105" y="432.76" font-size="6.6" text-anchor="middle">Upregulated by PC14586 (QD × 6, 24 hours)</text>
<text x="147.6" y="444.76" font-size="6.6" text-anchor="middle">NES</text>
<line x1="131.3" y1="454.1" x2="131.3" y2="456.3" stroke="#333" stroke-width="0.7"/>
<text x="131.3" y="453.86" font-size="6.3" text-anchor="middle">1</text>
<line x1="143.77" y1="454.1" x2="143.77" y2="456.3" stroke="#333" stroke-width="0.7"/>
<text x="143.77" y="453.86" font-size="6.3" text-anchor="middle">2</text>
<line x1="156.23" y1="454.1" x2="156.23" y2="456.3" stroke="#333" stroke-width="0.7"/>
<text x="156.23" y="453.86" font-size="6.3" text-anchor="middle">3</text>
<line x1="168.7" y1="454.1" x2="168.7" y2="456.3" stroke="#333" stroke-width="0.7"/>
<text x="168.7" y="453.86" font-size="6.3" text-anchor="middle">4</text>
<text x="127.7" y="462.66" font-size="6.6" text-anchor="end">Fischer_Direct_p53_Targets</text>
<line x1="128.7" y1="460.3" x2="131.3" y2="460.3" stroke="#333" stroke-width="0.6"/>
<line x1="131.3" y1="461.7" x2="168.7" y2="461.7" stroke="#3d8ef5" stroke-width="1.4"/>
<line x1="131.3" y1="463.65" x2="133.54" y2="463.65" stroke="#8a8a8a" stroke-width="1"/>
<rect x="159.65" y="456.95" width="3.1" height="3.1" fill="#14b814"/>
<text x="127.7" y="470.13" font-size="6.6" text-anchor="end">Fischer_p53_Targeted_lncRNAs</text>
<line x1="128.7" y1="467.77" x2="131.3" y2="467.77" stroke="#333" stroke-width="0.6"/>
<line x1="131.3" y1="471.13" x2="138.03" y2="471.13" stroke="#8a8a8a" stroke-width="1"/>
<rect x="158.65" y="464.5" width="3.1" height="3.1" fill="#14b814"/>
<text x="127.7" y="477.6" font-size="6.6" text-anchor="end">Perez_TP53_Targets</text>
<line x1="128.7" y1="475.24" x2="131.3" y2="475.24" stroke="#333" stroke-width="0.6"/>
<line x1="131.3" y1="476.66" x2="139.9" y2="476.66" stroke="#3d8ef5" stroke-width="1.4"/>
<rect x="152.65" y="472.05" width="3.1" height="3.1" fill="#14b814"/>
<text x="127.7" y="485.07" font-size="6.6" text-anchor="end">Macaeva_PBMC_Response_to_IR</text>
<line x1="128.7" y1="482.71" x2="131.3" y2="482.71" stroke="#333" stroke-width="0.6"/>
<line x1="131.3" y1="484.14" x2="157.48" y2="484.14" stroke="#3d8ef5" stroke-width="1.4"/>
<line x1="131.3" y1="486.09" x2="135.41" y2="486.09" stroke="#8a8a8a" stroke-width="1"/>
<rect x="152.65" y="479.6" width="3.1" height="3.1" fill="#14b814"/>
<text x="127.7" y="492.54" font-size="6.6" text-anchor="end">Lee_BMP2_Targets</text>
<line x1="128.7" y1="490.18" x2="131.3" y2="490.18" stroke="#333" stroke-width="0.6"/>
<line x1="131.3" y1="491.62" x2="136.91" y2="491.62" stroke="#3d8ef5" stroke-width="1.4"/>
<rect x="151.35" y="487.15" width="3.1" height="3.1" fill="#14b814"/>
<text x="127.7" y="500.01" font-size="6.6" text-anchor="end">Dutertre_Estradiol_Response_24Hr</text>
<line x1="128.7" y1="497.65" x2="131.3" y2="497.65" stroke="#333" stroke-width="0.6"/>
<line x1="131.3" y1="499.1" x2="133.17" y2="499.1" stroke="#3d8ef5" stroke-width="1.4"/>
<rect x="149.95" y="494.7" width="3.1" height="3.1" fill="#ff7f1a"/>
<text x="127.7" y="507.48" font-size="6.6" text-anchor="end">Sengupta_Nasopharyngeal_Carcinoma</text>
<line x1="128.7" y1="505.12" x2="131.3" y2="505.12" stroke="#333" stroke-width="0.6"/>
<line x1="131.3" y1="506.58" x2="134.67" y2="506.58" stroke="#3d8ef5" stroke-width="1.4"/>
<rect x="148.45" y="502.25" width="3.1" height="3.1" fill="#ff7f1a"/>
<text x="127.7" y="514.95" font-size="6.6" text-anchor="end">Chemnitz_Response_to_Prostaglandin_E2</text>
<line x1="128.7" y1="512.59" x2="131.3" y2="512.59" stroke="#333" stroke-width="0.6"/>
<line x1="131.3" y1="514.06" x2="135.98" y2="514.06" stroke="#3d8ef5" stroke-width="1.4"/>
<rect x="148.05" y="509.8" width="3.1" height="3.1" fill="#ff7f1a"/>
<text x="127.7" y="522.42" font-size="6.6" text-anchor="end">Odonnell_TFRC_Targets</text>
<line x1="128.7" y1="520.06" x2="131.3" y2="520.06" stroke="#333" stroke-width="0.6"/>
<line x1="131.3" y1="521.54" x2="141.02" y2="521.54" stroke="#3d8ef5" stroke-width="1.4"/>
<rect x="145.95" y="517.35" width="3.1" height="3.1" fill="#ff7f1a"/>
<text x="127.7" y="529.89" font-size="6.6" text-anchor="end">Creighton_Endocrine_Therapy_Resistance</text>
<line x1="128.7" y1="527.53" x2="131.3" y2="527.53" stroke="#333" stroke-width="0.6"/>
<line x1="131.3" y1="529.02" x2="136.54" y2="529.02" stroke="#3d8ef5" stroke-width="1.4"/>
<rect x="145.95" y="524.9" width="3.1" height="3.1" fill="#ff7f1a"/>
<text x="127.7" y="537.36" font-size="6.6" text-anchor="end">Thum_Systolic_Heart_Failure</text>
<line x1="128.7" y1="535" x2="131.3" y2="535" stroke="#333" stroke-width="0.6"/>
<line x1="131.3" y1="536.5" x2="134.67" y2="536.5" stroke="#3d8ef5" stroke-width="1.4"/>
<rect x="144.65" y="532.45" width="3.1" height="3.1" fill="#ff7f1a"/>
<text x="127.7" y="544.83" font-size="6.6" text-anchor="end">Liu_Ovarian_Tumors_and_Xenografts</text>
<line x1="128.7" y1="542.47" x2="131.3" y2="542.47" stroke="#333" stroke-width="0.6"/>
<line x1="131.3" y1="543.98" x2="139.9" y2="543.98" stroke="#3d8ef5" stroke-width="1.4"/>
<rect x="142.65" y="540" width="3.1" height="3.1" fill="#ff7f1a"/>
<text x="127.7" y="552.3" font-size="6.6" text-anchor="end">Perez_TP63_Targets</text>
<line x1="128.7" y1="549.94" x2="131.3" y2="549.94" stroke="#333" stroke-width="0.6"/>
<line x1="131.3" y1="551.46" x2="138.41" y2="551.46" stroke="#3d8ef5" stroke-width="1.4"/>
<rect x="142.65" y="547.55" width="3.1" height="3.1" fill="#ff7f1a"/>
<text x="127.7" y="559.77" font-size="6.6" text-anchor="end">Rodwell_Aging_Kidney</text>
<line x1="128.7" y1="557.41" x2="131.3" y2="557.41" stroke="#333" stroke-width="0.6"/>
<line x1="131.3" y1="558.94" x2="142.52" y2="558.94" stroke="#3d8ef5" stroke-width="1.4"/>
<rect x="142.25" y="555.1" width="3.1" height="3.1" fill="#ff7f1a"/>
<text x="127.7" y="567.24" font-size="6.6" text-anchor="end">Naba_ECM_Glycoproteins</text>
<line x1="128.7" y1="564.88" x2="131.3" y2="564.88" stroke="#333" stroke-width="0.6"/>
<line x1="131.3" y1="566.42" x2="135.04" y2="566.42" stroke="#3d8ef5" stroke-width="1.4"/>
<rect x="141.75" y="562.65" width="3.1" height="3.1" fill="#ff7f1a"/>
<text x="127.7" y="574.71" font-size="6.6" text-anchor="end">Turashvili_BRCA_vs_Normal</text>
<line x1="128.7" y1="572.35" x2="131.3" y2="572.35" stroke="#333" stroke-width="0.6"/>
<line x1="131.3" y1="573.9" x2="137.84" y2="573.9" stroke="#3d8ef5" stroke-width="1.4"/>
<rect x="141.35" y="570.2" width="3.1" height="3.1" fill="#ff7f1a"/>
<text x="127.7" y="582.18" font-size="6.6" text-anchor="end">Schuetz_BRCA_Ductal_Invasive</text>
<line x1="128.7" y1="579.82" x2="131.3" y2="579.82" stroke="#333" stroke-width="0.6"/>
<line x1="131.3" y1="581.38" x2="136.54" y2="581.38" stroke="#3d8ef5" stroke-width="1.4"/>
<rect x="140.75" y="577.75" width="3.1" height="3.1" fill="#ff7f1a"/>
<text x="127.7" y="589.65" font-size="6.6" text-anchor="end">Charafe_BRCA_Luminal_vs_Mesenchymal</text>
<line x1="128.7" y1="587.29" x2="131.3" y2="587.29" stroke="#333" stroke-width="0.6"/>
<line x1="131.3" y1="588.86" x2="134.67" y2="588.86" stroke="#3d8ef5" stroke-width="1.4"/>
<rect x="140.15" y="585.3" width="3.1" height="3.1" fill="#ff7f1a"/>
<text x="127.7" y="597.12" font-size="6.6" text-anchor="end">Perez_TP53_And_TP63_Targets</text>
<line x1="128.7" y1="594.76" x2="131.3" y2="594.76" stroke="#333" stroke-width="0.6"/>
<line x1="131.3" y1="596.34" x2="135.98" y2="596.34" stroke="#3d8ef5" stroke-width="1.4"/>
<rect x="139.75" y="592.85" width="3.1" height="3.1" fill="#9b9b9b"/>
<text x="127.7" y="604.59" font-size="6.6" text-anchor="end">Martens_Tretinoin_Response</text>
<line x1="128.7" y1="602.23" x2="131.3" y2="602.23" stroke="#333" stroke-width="0.6"/>
<rect x="139.45" y="600.4" width="3.1" height="3.1" fill="#9b9b9b"/>
<rect x="131.3" y="456.3" width="37.4" height="150.2" fill="none" stroke="#222" stroke-width="1"/>
<line x1="131.3" y1="606.5" x2="131.3" y2="608.7" stroke="#333" stroke-width="0.7"/>
<text x="131.3" y="616.96" font-size="6.3" text-anchor="middle">0</text>
<line x1="140.65" y1="606.5" x2="140.65" y2="608.7" stroke="#333" stroke-width="0.7"/>
<line x1="150" y1="606.5" x2="150" y2="608.7" stroke="#333" stroke-width="0.7"/>
<text x="150" y="616.96" font-size="6.3" text-anchor="middle">50</text>
<line x1="159.35" y1="606.5" x2="159.35" y2="608.7" stroke="#333" stroke-width="0.7"/>
<line x1="168.7" y1="606.5" x2="168.7" y2="608.7" stroke="#333" stroke-width="0.7"/>
<text x="168.7" y="616.96" font-size="6.3" text-anchor="middle">100</text>
<text x="150.8" y="625.26" font-size="6.3" text-anchor="middle">%</text>
<text x="307.5" y="432.76" font-size="6.6" text-anchor="middle">Downregulated by PC14586 (QD × 6, 24 hours)</text>
<text x="348.5" y="444.76" font-size="6.6" text-anchor="middle">NES</text>
<line x1="332.6" y1="454.1" x2="332.6" y2="456.3" stroke="#333" stroke-width="0.7"/>
<text x="332.6" y="453.86" font-size="6.3" text-anchor="middle">–2.8</text>
<line x1="350.9" y1="454.1" x2="350.9" y2="456.3" stroke="#333" stroke-width="0.7"/>
<text x="350.9" y="453.86" font-size="6.3" text-anchor="middle">–3.0</text>
<line x1="369.2" y1="454.1" x2="369.2" y2="456.3" stroke="#333" stroke-width="0.7"/>
<text x="369.2" y="453.86" font-size="6.3" text-anchor="middle">–3.2</text>
<text x="328.2" y="462.66" font-size="6.6" text-anchor="end">Fischer_DREAM_Targets</text>
<line x1="330" y1="460.3" x2="332.6" y2="460.3" stroke="#333" stroke-width="0.6"/>
<line x1="332.6" y1="460.8" x2="369.2" y2="460.8" stroke="#3d8ef5" stroke-width="1.4"/>
<line x1="332.6" y1="462.75" x2="345.04" y2="462.75" stroke="#8a8a8a" stroke-width="1"/>
<rect x="364.65" y="457.25" width="3.1" height="3.1" fill="#14b814"/>
<text x="328.2" y="470.13" font-size="6.6" text-anchor="end">Florio_Neocortex_Basal_Radial_Glia</text>
<line x1="330" y1="467.77" x2="332.6" y2="467.77" stroke="#333" stroke-width="0.6"/>
<line x1="332.6" y1="468.26" x2="368.1" y2="468.26" stroke="#3d8ef5" stroke-width="1.4"/>
<line x1="332.6" y1="470.21" x2="355.66" y2="470.21" stroke="#8a8a8a" stroke-width="1"/>
<rect x="353.05" y="464.71" width="3.1" height="3.1" fill="#14b814"/>
<text x="328.2" y="477.6" font-size="6.6" text-anchor="end">Rosty_Cervical_Cancer_Proliferation</text>
<line x1="330" y1="475.24" x2="332.6" y2="475.24" stroke="#333" stroke-width="0.6"/>
<line x1="332.6" y1="475.73" x2="366.64" y2="475.73" stroke="#3d8ef5" stroke-width="1.4"/>
<line x1="332.6" y1="477.68" x2="360.78" y2="477.68" stroke="#8a8a8a" stroke-width="1"/>
<rect x="348.45" y="472.18" width="3.1" height="3.1" fill="#14b814"/>
<text x="328.2" y="485.07" font-size="6.6" text-anchor="end">Marson_Bound_by_E2F4_Unstimulated</text>
<line x1="330" y1="482.71" x2="332.6" y2="482.71" stroke="#333" stroke-width="0.6"/>
<line x1="332.6" y1="483.19" x2="365.91" y2="483.19" stroke="#3d8ef5" stroke-width="1.4"/>
<line x1="332.6" y1="485.14" x2="343.58" y2="485.14" stroke="#8a8a8a" stroke-width="1"/>
<rect x="347.85" y="479.64" width="3.1" height="3.1" fill="#14b814"/>
<text x="328.2" y="492.54" font-size="6.6" text-anchor="end">Fischer_G2_M_Cell_Cycle</text>
<line x1="330" y1="490.18" x2="332.6" y2="490.18" stroke="#333" stroke-width="0.6"/>
<line x1="332.6" y1="490.65" x2="368.83" y2="490.65" stroke="#3d8ef5" stroke-width="1.4"/>
<line x1="332.6" y1="492.6" x2="347.61" y2="492.6" stroke="#8a8a8a" stroke-width="1"/>
<rect x="345.85" y="487.1" width="3.1" height="3.1" fill="#14b814"/>
<text x="328.2" y="500.01" font-size="6.6" text-anchor="end">Sotiriou_Breast_Cancer_Grade_1_vs_3</text>
<line x1="330" y1="497.65" x2="332.6" y2="497.65" stroke="#333" stroke-width="0.6"/>
<line x1="332.6" y1="498.12" x2="366.27" y2="498.12" stroke="#3d8ef5" stroke-width="1.4"/>
<line x1="332.6" y1="500.06" x2="356.76" y2="500.06" stroke="#8a8a8a" stroke-width="1"/>
<rect x="341.55" y="494.56" width="3.1" height="3.1" fill="#14b814"/>
<text x="328.2" y="507.48" font-size="6.6" text-anchor="end">Chiang_Liver_Cancer_Proliferation</text>
<line x1="330" y1="505.12" x2="332.6" y2="505.12" stroke="#333" stroke-width="0.6"/>
<line x1="332.6" y1="505.58" x2="365.91" y2="505.58" stroke="#3d8ef5" stroke-width="1.4"/>
<line x1="332.6" y1="507.53" x2="347.97" y2="507.53" stroke="#8a8a8a" stroke-width="1"/>
<rect x="341.05" y="502.03" width="3.1" height="3.1" fill="#14b814"/>
<text x="328.2" y="514.95" font-size="6.6" text-anchor="end">Blanco_Melo_Bronchial_Flu_Infection</text>
<line x1="330" y1="512.59" x2="332.6" y2="512.59" stroke="#333" stroke-width="0.6"/>
<line x1="332.6" y1="513.04" x2="368.47" y2="513.04" stroke="#3d8ef5" stroke-width="1.4"/>
<line x1="332.6" y1="514.99" x2="354.93" y2="514.99" stroke="#8a8a8a" stroke-width="1"/>
<rect x="340.75" y="509.49" width="3.1" height="3.1" fill="#14b814"/>
<text x="328.2" y="522.42" font-size="6.6" text-anchor="end">Reactome_RNA_Pol_I_Promoter_Escape</text>
<line x1="330" y1="520.06" x2="332.6" y2="520.06" stroke="#333" stroke-width="0.6"/>
<line x1="332.6" y1="520.5" x2="354.93" y2="520.5" stroke="#3d8ef5" stroke-width="1.4"/>
<line x1="332.6" y1="522.45" x2="349.99" y2="522.45" stroke="#8a8a8a" stroke-width="1"/>
<rect x="340.75" y="516.95" width="3.1" height="3.1" fill="#14b814"/>
<text x="328.2" y="529.89" font-size="6.6" text-anchor="end">Gobert_Oligodendrocyte_Differentiation</text>
<line x1="330" y1="527.53" x2="332.6" y2="527.53" stroke="#333" stroke-width="0.6"/>
<line x1="332.6" y1="527.97" x2="365.54" y2="527.97" stroke="#3d8ef5" stroke-width="1.4"/>
<line x1="332.6" y1="529.92" x2="347.61" y2="529.92" stroke="#8a8a8a" stroke-width="1"/>
<rect x="339.55" y="524.42" width="3.1" height="3.1" fill="#14b814"/>
<text x="328.2" y="537.36" font-size="6.6" text-anchor="end">Reactome_Cell_Cycle</text>
<line x1="330" y1="535" x2="332.6" y2="535" stroke="#333" stroke-width="0.6"/>
<line x1="332.6" y1="535.43" x2="363.71" y2="535.43" stroke="#3d8ef5" stroke-width="1.4"/>
<line x1="332.6" y1="537.38" x2="342.48" y2="537.38" stroke="#8a8a8a" stroke-width="1"/>
<rect x="339.25" y="531.88" width="3.1" height="3.1" fill="#14b814"/>
<text x="328.2" y="544.83" font-size="6.6" text-anchor="end">Reactome_RNA_Pol_I_Transcription</text>
<line x1="330" y1="542.47" x2="332.6" y2="542.47" stroke="#333" stroke-width="0.6"/>
<line x1="332.6" y1="542.89" x2="354.93" y2="542.89" stroke="#3d8ef5" stroke-width="1.4"/>
<line x1="332.6" y1="544.84" x2="346.51" y2="544.84" stroke="#8a8a8a" stroke-width="1"/>
<rect x="338.75" y="539.34" width="3.1" height="3.1" fill="#14b814"/>
<text x="328.2" y="552.3" font-size="6.6" text-anchor="end">Reactome_Cell_Cycle_Mitotic</text>
<line x1="330" y1="549.94" x2="332.6" y2="549.94" stroke="#333" stroke-width="0.6"/>
<line x1="332.6" y1="550.36" x2="363.71" y2="550.36" stroke="#3d8ef5" stroke-width="1.4"/>
<line x1="332.6" y1="552.31" x2="343.58" y2="552.31" stroke="#8a8a8a" stroke-width="1"/>
<rect x="338.45" y="546.81" width="3.1" height="3.1" fill="#14b814"/>
<text x="328.2" y="559.77" font-size="6.6" text-anchor="end">Reactome_Forming_B_Catenin_TCF_Complex</text>
<line x1="330" y1="557.41" x2="332.6" y2="557.41" stroke="#333" stroke-width="0.6"/>
<line x1="332.6" y1="557.82" x2="354.93" y2="557.82" stroke="#3d8ef5" stroke-width="1.4"/>
<line x1="332.6" y1="559.77" x2="349.99" y2="559.77" stroke="#8a8a8a" stroke-width="1"/>
<rect x="337.35" y="554.27" width="3.1" height="3.1" fill="#14b814"/>
<text x="328.2" y="567.24" font-size="6.6" text-anchor="end">Reactome_Epigenetic_Reg_of_rRNA_Exp</text>
<line x1="330" y1="564.88" x2="332.6" y2="564.88" stroke="#333" stroke-width="0.6"/>
<line x1="332.6" y1="565.28" x2="355.29" y2="565.28" stroke="#3d8ef5" stroke-width="1.4"/>
<line x1="332.6" y1="567.23" x2="347.61" y2="567.23" stroke="#8a8a8a" stroke-width="1"/>
<rect x="336.45" y="561.73" width="3.1" height="3.1" fill="#14b814"/>
<text x="328.2" y="574.71" font-size="6.6" text-anchor="end">Reactome_M_Phase</text>
<line x1="330" y1="572.35" x2="332.6" y2="572.35" stroke="#333" stroke-width="0.6"/>
<line x1="332.6" y1="572.75" x2="361.88" y2="572.75" stroke="#3d8ef5" stroke-width="1.4"/>
<line x1="332.6" y1="574.7" x2="342.12" y2="574.7" stroke="#8a8a8a" stroke-width="1"/>
<rect x="336.15" y="569.2" width="3.1" height="3.1" fill="#14b814"/>
<text x="328.2" y="582.18" font-size="6.6" text-anchor="end">Reactome_B_WICH_Complex_Reg_rRNA_Exp</text>
<line x1="330" y1="579.82" x2="332.6" y2="579.82" stroke="#333" stroke-width="0.6"/>
<line x1="332.6" y1="580.21" x2="354.93" y2="580.21" stroke="#3d8ef5" stroke-width="1.4"/>
<line x1="332.6" y1="582.16" x2="350.9" y2="582.16" stroke="#8a8a8a" stroke-width="1"/>
<rect x="335.65" y="576.66" width="3.1" height="3.1" fill="#14b814"/>
<text x="328.2" y="589.65" font-size="6.6" text-anchor="end">Reactome_ERCC6_CSB_EHMT2_G9A_on_rRNA</text>
<line x1="330" y1="587.29" x2="332.6" y2="587.29" stroke="#333" stroke-width="0.6"/>
<line x1="332.6" y1="587.67" x2="354.93" y2="587.67" stroke="#3d8ef5" stroke-width="1.4"/>
<line x1="332.6" y1="589.62" x2="353.83" y2="589.62" stroke="#8a8a8a" stroke-width="1"/>
<rect x="335.35" y="584.12" width="3.1" height="3.1" fill="#14b814"/>
<text x="328.2" y="597.12" font-size="6.6" text-anchor="end">Reactome_RUNX1_on_Genes_Megakaryocyte</text>
<line x1="330" y1="594.76" x2="332.6" y2="594.76" stroke="#333" stroke-width="0.6"/>
<line x1="332.6" y1="595.13" x2="353.83" y2="595.13" stroke="#3d8ef5" stroke-width="1.4"/>
<line x1="332.6" y1="597.08" x2="349.44" y2="597.08" stroke="#8a8a8a" stroke-width="1"/>
<rect x="335.05" y="591.58" width="3.1" height="3.1" fill="#14b814"/>
<text x="328.2" y="604.59" font-size="6.6" text-anchor="end">Reactome_PRC2_Methylates_Histones_&amp;_DNA</text>
<line x1="330" y1="602.23" x2="332.6" y2="602.23" stroke="#333" stroke-width="0.6"/>
<line x1="332.6" y1="602.6" x2="355.66" y2="602.6" stroke="#3d8ef5" stroke-width="1.4"/>
<line x1="332.6" y1="604.55" x2="356.02" y2="604.55" stroke="#8a8a8a" stroke-width="1"/>
<rect x="334.65" y="599.05" width="3.1" height="3.1" fill="#14b814"/>
<rect x="332.6" y="456.3" width="36.6" height="150.2" fill="none" stroke="#222" stroke-width="1"/>
<line x1="332.6" y1="606.5" x2="332.6" y2="608.7" stroke="#333" stroke-width="0.7"/>
<text x="332.6" y="616.96" font-size="6.3" text-anchor="middle">0</text>
<line x1="341.75" y1="606.5" x2="341.75" y2="608.7" stroke="#333" stroke-width="0.7"/>
<line x1="350.9" y1="606.5" x2="350.9" y2="608.7" stroke="#333" stroke-width="0.7"/>
<text x="350.9" y="616.96" font-size="6.3" text-anchor="middle">50</text>
<line x1="360.05" y1="606.5" x2="360.05" y2="608.7" stroke="#333" stroke-width="0.7"/>
<line x1="369.2" y1="606.5" x2="369.2" y2="608.7" stroke="#333" stroke-width="0.7"/>
<text x="369.2" y="616.96" font-size="6.3" text-anchor="middle">100</text>
<text x="351.7" y="625.26" font-size="6.3" text-anchor="middle">%</text>
<rect x="23.5" y="626.8" width="3" height="3" fill="#14b814"/>
<text x="41.5" y="630.86" font-size="6.6" >NES</text>
<line x1="17.3" y1="635.4" x2="33.8" y2="635.4" stroke="#3d8ef5" stroke-width="1.6"/>
<text x="41.5" y="637.86" font-size="6.6" >Overlap with Fischer_Direct_p53_Targets (%)</text>
<line x1="17.3" y1="642.8" x2="33.8" y2="642.8" stroke="#8a8a8a" stroke-width="1.6"/>
<text x="41.5" y="645.26" font-size="6.6" >Enrichment (%)</text>
<rect x="230.5" y="626.8" width="3" height="3" fill="#14b814"/>
<text x="249" y="630.86" font-size="6.6" >NES</text>
<line x1="224.4" y1="635.4" x2="240.5" y2="635.4" stroke="#3d8ef5" stroke-width="1.6"/>
<text x="249" y="637.86" font-size="6.6" >Overlap with Fischer_DREAM_Targets (%)</text>
<line x1="224.4" y1="642.8" x2="240.5" y2="642.8" stroke="#8a8a8a" stroke-width="1.6"/>
<text x="249" y="645.26" font-size="6.6" >Enrichment (%)</text>
<rect x="147.6" y="653.3" width="69.1" height="40.6" fill="#fff" stroke="#8a8a8a" stroke-width="0.8"/>
<rect x="154.3" y="659.7" width="4.2" height="4.2" fill="#14b814"/>
<text x="164.5" y="664.36" font-size="6.6" ><tspan font-style="italic">q</tspan> &lt; 0.001</text>
<rect x="154.3" y="672.05" width="4.2" height="4.2" fill="#ff7f1a"/>
<text x="164.5" y="676.71" font-size="6.6" >0.001 ≤ <tspan font-style="italic">q</tspan> &lt; 0.05</text>
<rect x="154.3" y="684.4" width="4.2" height="4.2" fill="#9b9b9b"/>
<text x="164.5" y="689.06" font-size="6.6" >0.05 ≤ <tspan font-style="italic">q</tspan> &lt; 0.06</text>
<!-- Panel E -->
<text x="394.2" y="429.77" font-size="10.8" font-weight="bold" stroke="none">E</text>
<text x="448.7" y="455.56" font-size="6.6" text-anchor="middle" font-weight="bold" stroke="none">p53</text>
<line x1="433.1" y1="458.2" x2="419.85" y2="466.09" stroke="#000" stroke-width="1.35"/>
<polygon points="415.3,468.8 418.8,463.34 421.77,468.32" fill="#000"/>
<line x1="462.7" y1="458.2" x2="476.98" y2="466.21" stroke="#000" stroke-width="1.35"/>
<polygon points="481.6,468.8 475.12,468.49 477.96,463.43" fill="#000"/>
<text x="400" y="479.06" font-size="6.6" font-style="italic">CDKN1A</text>
<text x="400" y="487.26" font-size="6.6" >mRNA</text>
<text x="445.6" y="479.06" font-size="6.6" font-style="italic">lncRNAs (e.g., PINCR,</text>
<text x="445.6" y="487.26" font-size="6.6" font-style="italic">MIR34AHG)</text>
<line x1="413.9" y1="492.8" x2="422.1" y2="499.54" stroke="#000" stroke-width="1.35"/>
<polygon points="426.2,502.9 419.88,501.46 423.56,496.98" fill="#000"/>
<line x1="483.9" y1="492.8" x2="477.3" y2="499.21" stroke="#000" stroke-width="1.35"/>
<polygon points="473.5,502.9 475.64,496.78 479.68,500.94" fill="#000"/>
<text x="423.4" y="511.16" font-size="6.6" >p21</text>
<line x1="436.1" y1="512.7" x2="446.2" y2="522.8" stroke="#000" stroke-width="1.3"/>
<line x1="443.58" y1="525.42" x2="448.82" y2="520.18" stroke="#000" stroke-width="1.3"/>
<line x1="468.9" y1="507.4" x2="453.5" y2="522.8" stroke="#000" stroke-width="1.3"/>
<line x1="450.88" y1="520.18" x2="456.12" y2="525.42" stroke="#000" stroke-width="1.3"/>
<text x="446.5" y="536.36" font-size="6.6" text-anchor="middle">Cyclin–CDK complexes</text>
<line x1="449.2" y1="542.6" x2="449.2" y2="548.1" stroke="#000" stroke-width="1.35"/>
<polygon points="449.2,553.2 446.2,547.6 452.2,547.6" fill="#000"/>
<line x1="449.2" y1="558.2" x2="449.2" y2="566.3" stroke="#000" stroke-width="1.3"/>
<line x1="445.5" y1="566.3" x2="452.9" y2="566.3" stroke="#000" stroke-width="1.3"/>
<text x="444.3" y="575.96" font-size="6.6" text-anchor="middle">RB-E2F &amp; DREAM complexes</text>
<line x1="449.2" y1="578.8" x2="449.2" y2="586.9" stroke="#000" stroke-width="1.3"/>
<line x1="445.5" y1="586.9" x2="452.9" y2="586.9" stroke="#000" stroke-width="1.3"/>
<text x="450.8" y="596.26" font-size="6.6" text-anchor="middle">Transcription of cell-cycle genes</text>
<text x="450.5" y="604.26" font-size="6.6" text-anchor="middle">(E2F and DREAM targets)</text>
<line x1="449.4" y1="609.2" x2="449.4" y2="614.5" stroke="#000" stroke-width="1.35"/>
<polygon points="449.4,619.6 446.4,614 452.4,614" fill="#000"/>
<text x="446" y="628.66" font-size="6.6" text-anchor="middle" font-weight="bold" stroke="none">Cell-cycle arrest</text>
</svg>
</body></html>
